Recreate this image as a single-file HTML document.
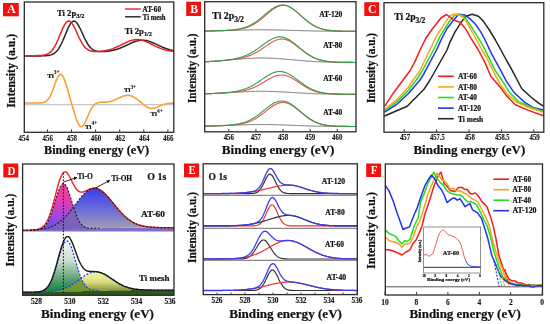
<!DOCTYPE html><html><head><meta charset="utf-8"><style>html,body{margin:0;padding:0;width:550px;height:324px;overflow:hidden;background:#fff}</style></head><body><svg width="550" height="324" viewBox="0 0 550 324" style="filter:blur(0.3px);position:absolute;left:0;top:0;font-family:'Liberation Serif',serif;font-weight:bold">
<style>text{stroke:#111;stroke-width:0.22px}</style>
<rect width="550" height="324" fill="#ffffff"/>
<line x1="24.3" y1="104.6" x2="173.8" y2="104.6" stroke="#c8c8c8" stroke-width="1.2"/>
<polyline points="24.3,55.9 25.0,55.9 25.7,55.9 26.4,55.9 27.1,55.9 27.8,55.9 28.5,55.9 29.2,55.9 29.9,55.9 30.6,55.9 31.3,55.9 32.0,55.9 32.7,55.9 33.4,55.9 34.1,55.9 34.8,55.9 35.5,55.9 36.2,55.9 36.9,55.9 37.6,55.9 38.3,55.9 39.0,55.9 39.7,55.9 40.4,55.9 41.1,55.9 41.8,55.8 42.5,55.8 43.3,55.8 44.0,55.8 44.7,55.8 45.4,55.7 46.1,55.7 46.8,55.6 47.5,55.6 48.2,55.5 48.9,55.4 49.6,55.2 50.3,55.1 51.0,54.9 51.7,54.6 52.4,54.3 53.1,54.0 53.8,53.6 54.5,53.1 55.2,52.6 55.9,52.0 56.6,51.3 57.3,50.5 58.0,49.6 58.7,48.6 59.4,47.5 60.1,46.2 60.8,44.9 61.5,43.5 62.2,42.0 62.9,40.5 63.6,38.9 64.3,37.2 65.0,35.5 65.7,33.8 66.4,32.1 67.1,30.4 67.8,28.8 68.5,27.3 69.2,25.9 69.9,24.7 70.6,23.6 71.3,22.7 72.0,22.0 72.7,21.5 73.4,21.2 74.1,21.1 74.8,21.3 75.5,21.7 76.2,22.3 76.9,23.1 77.6,24.0 78.3,25.1 79.0,26.4 79.7,27.8 80.5,29.2 81.2,30.8 81.9,32.3 82.6,33.9 83.3,35.4 84.0,37.0 84.7,38.5 85.4,39.9 86.1,41.2 86.8,42.5 87.5,43.7 88.2,44.8 88.9,45.7 89.6,46.6 90.3,47.4 91.0,48.1 91.7,48.7 92.4,49.3 93.1,49.7 93.8,50.1 94.5,50.4 95.2,50.7 95.9,50.9 96.6,51.1 97.3,51.3 98.0,51.4 98.7,51.5 99.4,51.5 100.1,51.6 100.8,51.6 101.5,51.6 102.2,51.6 102.9,51.6 103.6,51.6 104.3,51.5 105.0,51.5 105.7,51.4 106.4,51.3 107.1,51.3 107.8,51.2 108.5,51.1 109.2,51.0 109.9,50.9 110.6,50.8 111.3,50.6 112.0,50.5 112.7,50.4 113.4,50.2 114.1,50.0 114.8,49.8 115.5,49.7 116.2,49.5 116.9,49.2 117.6,49.0 118.4,48.8 119.1,48.5 119.8,48.3 120.5,48.0 121.2,47.7 121.9,47.4 122.6,47.1 123.3,46.8 124.0,46.5 124.7,46.2 125.4,45.9 126.1,45.5 126.8,45.2 127.5,44.9 128.2,44.5 128.9,44.2 129.6,43.9 130.3,43.5 131.0,43.2 131.7,42.9 132.4,42.6 133.1,42.3 133.8,42.0 134.5,41.8 135.2,41.5 135.9,41.3 136.6,41.1 137.3,40.9 138.0,40.7 138.7,40.6 139.4,40.4 140.1,40.3 140.8,40.3 141.5,40.2 142.2,40.2 142.9,40.2 143.6,40.2 144.3,40.3 145.0,40.4 145.7,40.5 146.4,40.6 147.1,40.7 147.8,40.9 148.5,41.1 149.2,41.3 149.9,41.6 150.6,41.8 151.3,42.1 152.0,42.4 152.7,42.7 153.4,43.0 154.1,43.3 154.8,43.6 155.6,43.9 156.3,44.2 157.0,44.6 157.7,44.9 158.4,45.3 159.1,45.6 159.8,45.9 160.5,46.2 161.2,46.6 161.9,46.9 162.6,47.2 163.3,47.5 164.0,47.8 164.7,48.0 165.4,48.3 166.1,48.6 166.8,48.8 167.5,49.1 168.2,49.3 168.9,49.5 169.6,49.7 170.3,49.9 171.0,50.1 171.7,50.2 172.4,50.4 173.1,50.5 173.8,50.7" fill="none" stroke="#262626" stroke-width="1.5" stroke-linejoin="round" />
<polyline points="24.3,55.7 25.0,55.7 25.7,55.7 26.4,55.7 27.1,55.7 27.8,55.7 28.5,55.7 29.2,55.7 29.9,55.7 30.6,55.7 31.3,55.7 32.0,55.7 32.7,55.7 33.4,55.7 34.1,55.7 34.8,55.7 35.5,55.7 36.2,55.7 36.9,55.6 37.6,55.6 38.3,55.6 39.0,55.6 39.7,55.6 40.4,55.5 41.1,55.5 41.8,55.4 42.5,55.3 43.3,55.2 44.0,55.1 44.7,55.0 45.4,54.8 46.1,54.6 46.8,54.3 47.5,54.0 48.2,53.6 48.9,53.2 49.6,52.7 50.3,52.2 51.0,51.5 51.7,50.8 52.4,49.9 53.1,49.0 53.8,47.9 54.5,46.8 55.2,45.5 55.9,44.2 56.6,42.8 57.3,41.2 58.0,39.7 58.7,38.0 59.4,36.3 60.1,34.6 60.8,32.9 61.5,31.2 62.2,29.6 62.9,28.0 63.6,26.6 64.3,25.2 65.0,24.1 65.7,23.1 66.4,22.2 67.1,21.6 67.8,21.2 68.5,21.0 69.2,21.1 69.9,21.3 70.6,21.8 71.3,22.5 72.0,23.4 72.7,24.4 73.4,25.6 74.1,26.9 74.8,28.3 75.5,29.8 76.2,31.3 76.9,32.9 77.6,34.5 78.3,36.0 79.0,37.6 79.7,39.0 80.5,40.4 81.2,41.7 81.9,43.0 82.6,44.1 83.3,45.1 84.0,46.1 84.7,46.9 85.4,47.7 86.1,48.4 86.8,48.9 87.5,49.4 88.2,49.9 88.9,50.2 89.6,50.5 90.3,50.8 91.0,51.0 91.7,51.2 92.4,51.3 93.1,51.4 93.8,51.5 94.5,51.5 95.2,51.6 95.9,51.6 96.6,51.6 97.3,51.6 98.0,51.5 98.7,51.5 99.4,51.4 100.1,51.4 100.8,51.3 101.5,51.2 102.2,51.2 102.9,51.1 103.6,51.0 104.3,50.9 105.0,50.7 105.7,50.6 106.4,50.5 107.1,50.3 107.8,50.1 108.5,50.0 109.2,49.8 109.9,49.6 110.6,49.4 111.3,49.1 112.0,48.9 112.7,48.7 113.4,48.4 114.1,48.1 114.8,47.8 115.5,47.5 116.2,47.2 116.9,46.9 117.6,46.6 118.4,46.3 119.1,45.9 119.8,45.6 120.5,45.3 121.2,44.9 121.9,44.5 122.6,44.2 123.3,43.8 124.0,43.5 124.7,43.2 125.4,42.8 126.1,42.5 126.8,42.2 127.5,41.9 128.2,41.6 128.9,41.3 129.6,41.0 130.3,40.8 131.0,40.6 131.7,40.4 132.4,40.2 133.1,40.0 133.8,39.9 134.5,39.8 135.2,39.7 135.9,39.6 136.6,39.6 137.3,39.6 138.0,39.6 138.7,39.7 139.4,39.8 140.1,39.9 140.8,40.0 141.5,40.1 142.2,40.3 142.9,40.5 143.6,40.8 144.3,41.0 145.0,41.3 145.7,41.5 146.4,41.8 147.1,42.1 147.8,42.4 148.5,42.8 149.2,43.1 149.9,43.5 150.6,43.8 151.3,44.1 152.0,44.5 152.7,44.9 153.4,45.2 154.1,45.5 154.8,45.9 155.6,46.2 156.3,46.6 157.0,46.9 157.7,47.2 158.4,47.5 159.1,47.8 159.8,48.1 160.5,48.4 161.2,48.6 161.9,48.9 162.6,49.1 163.3,49.3 164.0,49.5 164.7,49.7 165.4,49.9 166.1,50.1 166.8,50.3 167.5,50.4 168.2,50.6 168.9,50.7 169.6,50.8 170.3,50.9 171.0,51.0 171.7,51.1 172.4,51.2 173.1,51.3 173.8,51.4" fill="none" stroke="#f01e1e" stroke-width="1.5" stroke-linejoin="round" />
<polyline points="24.3,103.0 25.0,103.0 25.7,103.0 26.4,103.0 27.1,103.0 27.8,103.0 28.5,103.0 29.2,103.0 29.9,103.0 30.6,103.0 31.3,103.0 32.0,103.0 32.7,103.0 33.4,103.0 34.1,103.0 34.8,103.0 35.5,103.0 36.2,103.0 36.9,103.0 37.6,103.0 38.3,103.0 39.0,102.9 39.7,102.9 40.4,102.9 41.1,102.8 41.8,102.7 42.5,102.6 43.3,102.4 44.0,102.2 44.7,101.9 45.4,101.6 46.1,101.2 46.8,100.6 47.5,99.9 48.2,99.1 48.9,98.2 49.6,97.1 50.3,95.8 51.0,94.4 51.7,92.8 52.4,91.1 53.1,89.2 53.8,87.3 54.5,85.3 55.2,83.3 55.9,81.4 56.6,79.6 57.3,78.0 58.0,76.7 58.7,75.6 59.4,74.8 60.1,74.3 60.8,74.3 61.5,74.6 62.2,75.3 62.9,76.3 63.6,77.7 64.3,79.3 65.0,81.2 65.7,83.3 66.4,85.5 67.1,87.9 67.8,90.3 68.5,92.7 69.2,95.2 69.9,97.6 70.6,100.1 71.3,102.5 72.0,104.9 72.7,107.3 73.4,109.7 74.1,112.0 74.8,114.3 75.5,116.4 76.2,118.5 76.9,120.4 77.6,122.1 78.3,123.6 79.0,124.8 79.7,125.8 80.5,126.4 81.2,126.7 81.9,126.6 82.6,126.2 83.3,125.5 84.0,124.5 84.7,123.3 85.4,121.9 86.1,120.3 86.8,118.7 87.5,117.0 88.2,115.3 88.9,113.7 89.6,112.1 90.3,110.6 91.0,109.3 91.7,108.1 92.4,107.1 93.1,106.1 93.8,105.3 94.5,104.7 95.2,104.1 95.9,103.6 96.6,103.3 97.3,102.9 98.0,102.7 98.7,102.5 99.4,102.4 100.1,102.3 100.8,102.2 101.5,102.2 102.2,102.1 102.9,102.1 103.6,102.1 104.3,102.1 105.0,102.1 105.7,102.1 106.4,102.0 107.1,102.0 107.8,101.9 108.5,101.8 109.2,101.7 109.9,101.6 110.6,101.4 111.3,101.2 112.0,101.0 112.7,100.8 113.4,100.5 114.1,100.2 114.8,100.0 115.5,99.6 116.2,99.3 116.9,99.0 117.6,98.6 118.4,98.3 119.1,98.0 119.8,97.6 120.5,97.3 121.2,97.0 121.9,96.7 122.6,96.4 123.3,96.1 124.0,95.9 124.7,95.7 125.4,95.6 126.1,95.4 126.8,95.4 127.5,95.3 128.2,95.4 128.9,95.4 129.6,95.5 130.3,95.7 131.0,95.9 131.7,96.1 132.4,96.4 133.1,96.7 133.8,97.1 134.5,97.5 135.2,97.9 135.9,98.4 136.6,98.9 137.3,99.4 138.0,99.9 138.7,100.5 139.4,101.0 140.1,101.6 140.8,102.2 141.5,102.8 142.2,103.4 142.9,104.0 143.6,104.6 144.3,105.1 145.0,105.6 145.7,106.1 146.4,106.6 147.1,107.0 147.8,107.4 148.5,107.7 149.2,108.0 149.9,108.2 150.6,108.4 151.3,108.4 152.0,108.5 152.7,108.4 153.4,108.3 154.1,108.2 154.8,108.0 155.6,107.8 156.3,107.5 157.0,107.3 157.7,106.9 158.4,106.6 159.1,106.3 159.8,106.0 160.5,105.7 161.2,105.4 161.9,105.1 162.6,104.8 163.3,104.6 164.0,104.4 164.7,104.2 165.4,104.0 166.1,103.8 166.8,103.7 167.5,103.5 168.2,103.4 168.9,103.4 169.6,103.3 170.3,103.2 171.0,103.2 171.7,103.1 172.4,103.1 173.1,103.1 173.8,103.1" fill="none" stroke="#f7a035" stroke-width="1.6" stroke-linejoin="round" />
<rect x="24.3" y="2.0" width="149.5" height="130.3" fill="none" stroke="#2a2a2a" stroke-width="1.3"/>
<line x1="47.40" y1="132.3" x2="47.40" y2="129.3" stroke="#3a3a3a" stroke-width="1"/>
<line x1="71.50" y1="132.3" x2="71.50" y2="129.3" stroke="#3a3a3a" stroke-width="1"/>
<line x1="95.60" y1="132.3" x2="95.60" y2="129.3" stroke="#3a3a3a" stroke-width="1"/>
<line x1="119.70" y1="132.3" x2="119.70" y2="129.3" stroke="#3a3a3a" stroke-width="1"/>
<line x1="143.80" y1="132.3" x2="143.80" y2="129.3" stroke="#3a3a3a" stroke-width="1"/>
<line x1="167.90" y1="132.3" x2="167.90" y2="129.3" stroke="#3a3a3a" stroke-width="1"/>
<text x="23.7" y="141.0" font-size="7.8" text-anchor="middle" fill="#111" textLength="10.4" lengthAdjust="spacingAndGlyphs" style="stroke-width:0.1px">454</text>
<text x="47.8" y="141.0" font-size="7.8" text-anchor="middle" fill="#111" textLength="10.4" lengthAdjust="spacingAndGlyphs" style="stroke-width:0.1px">456</text>
<text x="71.9" y="141.0" font-size="7.8" text-anchor="middle" fill="#111" textLength="10.4" lengthAdjust="spacingAndGlyphs" style="stroke-width:0.1px">458</text>
<text x="96.0" y="141.0" font-size="7.8" text-anchor="middle" fill="#111" textLength="10.4" lengthAdjust="spacingAndGlyphs" style="stroke-width:0.1px">460</text>
<text x="120.1" y="141.0" font-size="7.8" text-anchor="middle" fill="#111" textLength="10.4" lengthAdjust="spacingAndGlyphs" style="stroke-width:0.1px">462</text>
<text x="144.2" y="141.0" font-size="7.8" text-anchor="middle" fill="#111" textLength="10.4" lengthAdjust="spacingAndGlyphs" style="stroke-width:0.1px">464</text>
<text x="168.3" y="141.0" font-size="7.8" text-anchor="middle" fill="#111" textLength="10.4" lengthAdjust="spacingAndGlyphs" style="stroke-width:0.1px">466</text>
<rect x="3" y="3" width="15.8" height="13.3" fill="#f50f0f"/>
<text x="11.5" y="13.4" font-size="12.6" text-anchor="middle" fill="#fff" textLength="8.4" lengthAdjust="spacingAndGlyphs" style="stroke:none">A</text>
<text x="0" y="0" font-size="12" text-anchor="middle" fill="#111" textLength="74.1" lengthAdjust="spacingAndGlyphs" transform="translate(10.600000000000001,70.75) rotate(-90)" dominant-baseline="central">Intensity (a.u.)</text>
<text x="44" y="154.20000000000002" font-size="13.2" text-anchor="start" fill="#111" textLength="105" lengthAdjust="spacingAndGlyphs" >Binding energy (eV)</text>
<text x="57.0" y="15.5" font-size="8.6" fill="#111">Ti 2p<tspan font-size="6.40" dy="2.2">3/2</tspan></text>
<text x="124.7" y="33.7" font-size="8.6" fill="#111">Ti 2p<tspan font-size="6.40" dy="2.2">1/2</tspan></text>
<line x1="125" y1="9" x2="140.7" y2="9" stroke="#f01e1e" stroke-width="1.4"/>
<line x1="125" y1="16.8" x2="140.7" y2="16.8" stroke="#222" stroke-width="1.4"/>
<text x="142.5" y="11.6" font-size="7.8" text-anchor="start" fill="#111" textLength="18.5" lengthAdjust="spacingAndGlyphs" >AT-60</text>
<text x="142.8" y="19.5" font-size="7.4" text-anchor="start" fill="#111" textLength="22.8" lengthAdjust="spacingAndGlyphs" >Ti mesh</text>
<text x="47.3" y="77.5" font-size="7" fill="#111">Ti<tspan font-size="5.4" dy="-3.4" style="stroke-width:0.1px">3+</tspan></text>
<text x="85" y="128.7" font-size="7" fill="#111">Ti<tspan font-size="5.4" dy="-3.4" style="stroke-width:0.1px">4+</tspan></text>
<text x="123.9" y="92" font-size="7" fill="#111">Ti<tspan font-size="5.4" dy="-3.4" style="stroke-width:0.1px">3+</tspan></text>
<text x="150.5" y="116.4" font-size="7" fill="#111">Ti<tspan font-size="5.4" dy="-3.4" style="stroke-width:0.1px">4+</tspan></text>
<polyline points="204.7,31.1 205.4,31.0 206.1,31.0 206.8,31.0 207.5,31.0 208.2,31.0 208.9,31.0 209.6,31.0 210.3,31.0 211.0,30.9 211.7,30.9 212.4,30.9 213.1,30.9 213.8,30.9 214.5,30.9 215.2,30.9 215.9,30.8 216.6,30.8 217.3,30.8 218.0,30.8 218.7,30.8 219.4,30.8 220.1,30.7 220.8,30.7 221.5,30.7 222.2,30.7 222.9,30.7 223.6,30.6 224.3,30.6 225.0,30.6 225.7,30.6 226.4,30.6 227.1,30.5 227.8,30.5 228.5,30.5 229.2,30.5 229.9,30.5 230.6,30.4 231.3,30.4 232.0,30.4 232.7,30.4 233.4,30.3 234.1,30.3 234.8,30.3 235.5,30.3 236.2,30.3 236.9,30.2 237.6,30.2 238.3,30.2 239.0,30.2 239.7,30.2 240.4,30.1 241.1,30.1 241.8,30.1 242.5,30.1 243.2,30.1 243.9,30.0 244.6,30.0 245.3,30.0 246.0,30.0 246.7,30.0 247.4,30.0 248.1,30.0 248.8,29.9 249.5,29.9 250.2,29.9 250.9,29.9 251.6,29.9 252.3,29.9 253.0,29.9 253.7,29.9 254.4,29.8 255.1,29.8 255.8,29.8 256.5,29.8 257.2,29.8 257.9,29.8 258.6,29.8 259.3,29.8 260.0,29.8 260.7,29.8 261.4,29.8 262.1,29.8 262.8,29.8 263.5,29.8 264.2,29.8 264.9,29.8 265.6,29.8 266.3,29.8 267.0,29.8 267.7,29.8 268.4,29.8 269.1,29.8 269.8,29.9 270.5,29.9 271.2,29.9 271.9,29.9 272.6,29.9 273.3,29.9 274.0,29.9 274.7,29.9 275.4,29.9 276.1,30.0 276.8,30.0 277.5,30.0 278.2,30.0 278.9,30.0 279.6,30.0 280.4,30.1 281.1,30.1 281.8,30.1 282.5,30.1 283.2,30.1 283.9,30.1 284.6,30.2 285.3,30.2 286.0,30.2 286.7,30.2 287.4,30.3 288.1,30.3 288.8,30.3 289.5,30.3 290.2,30.3 290.9,30.4 291.6,30.4 292.3,30.4 293.0,30.4 293.7,30.4 294.4,30.5 295.1,30.5 295.8,30.5 296.5,30.5 297.2,30.5 297.9,30.6 298.6,30.6 299.3,30.6 300.0,30.6 300.7,30.6 301.4,30.7 302.1,30.7 302.8,30.7 303.5,30.7 304.2,30.7 304.9,30.8 305.6,30.8 306.3,30.8 307.0,30.8 307.7,30.8 308.4,30.8 309.1,30.9 309.8,30.9 310.5,30.9 311.2,30.9 311.9,30.9 312.6,30.9 313.3,31.0 314.0,31.0 314.7,31.0 315.4,31.0 316.1,31.0 316.8,31.0 317.5,31.0 318.2,31.0 318.9,31.1 319.6,31.1 320.3,31.1 321.0,31.1 321.7,31.1 322.4,31.1 323.1,31.1 323.8,31.1 324.5,31.1 325.2,31.1 325.9,31.1 326.6,31.2 327.3,31.2 328.0,31.2 328.7,31.2 329.4,31.2 330.1,31.2 330.8,31.2 331.5,31.2 332.2,31.2 332.9,31.2 333.6,31.2 334.3,31.2 335.0,31.2 335.7,31.2 336.4,31.2 337.1,31.2 337.8,31.2 338.5,31.2 339.2,31.2 339.9,31.2 340.6,31.3 341.3,31.3 342.0,31.3 342.7,31.3 343.4,31.3 344.1,31.3 344.8,31.3 345.5,31.3 346.2,31.3 346.9,31.3 347.6,31.3 348.3,31.3 349.0,31.3 349.7,31.3 350.4,31.3 351.1,31.3 351.8,31.3 352.5,31.3 353.2,31.3 353.9,31.3 354.6,31.3 355.3,31.3 356.0,31.3" fill="none" stroke="#707070" stroke-width="1.0" stroke-linejoin="round" />
<polyline points="204.7,31.1 205.4,31.0 206.1,31.0 206.8,31.0 207.5,31.0 208.2,31.0 208.9,31.0 209.6,31.0 210.3,31.0 211.0,30.9 211.7,30.9 212.4,30.9 213.1,30.9 213.8,30.9 214.5,30.9 215.2,30.8 215.9,30.8 216.6,30.8 217.3,30.8 218.0,30.8 218.7,30.8 219.4,30.7 220.1,30.7 220.8,30.7 221.5,30.7 222.2,30.6 222.9,30.6 223.6,30.6 224.3,30.6 225.0,30.5 225.7,30.5 226.4,30.5 227.1,30.4 227.8,30.4 228.5,30.3 229.2,30.3 229.9,30.3 230.6,30.2 231.3,30.2 232.0,30.1 232.7,30.1 233.4,30.0 234.1,29.9 234.8,29.9 235.5,29.8 236.2,29.7 236.9,29.6 237.6,29.5 238.3,29.4 239.0,29.3 239.7,29.2 240.4,29.1 241.1,28.9 241.8,28.8 242.5,28.7 243.2,28.5 243.9,28.3 244.6,28.1 245.3,27.9 246.0,27.7 246.7,27.5 247.4,27.2 248.1,27.0 248.8,26.7 249.5,26.4 250.2,26.1 250.9,25.8 251.6,25.5 252.3,25.1 253.0,24.8 253.7,24.4 254.4,24.0 255.1,23.5 255.8,23.1 256.5,22.6 257.2,22.2 257.9,21.7 258.6,21.2 259.3,20.6 260.0,20.1 260.7,19.6 261.4,19.0 262.1,18.4 262.8,17.8 263.5,17.2 264.2,16.6 264.9,16.0 265.6,15.4 266.3,14.8 267.0,14.2 267.7,13.6 268.4,13.0 269.1,12.4 269.8,11.8 270.5,11.3 271.2,10.7 271.9,10.2 272.6,9.6 273.3,9.1 274.0,8.7 274.7,8.2 275.4,7.8 276.1,7.4 276.8,7.0 277.5,6.7 278.2,6.4 278.9,6.1 279.6,5.9 280.4,5.7 281.1,5.5 281.8,5.4 282.5,5.4 283.2,5.3 283.9,5.4 284.6,5.4 285.3,5.5 286.0,5.6 286.7,5.8 287.4,6.0 288.1,6.3 288.8,6.6 289.5,6.9 290.2,7.3 290.9,7.7 291.6,8.1 292.3,8.5 293.0,9.0 293.7,9.5 294.4,10.1 295.1,10.6 295.8,11.2 296.5,11.8 297.2,12.4 297.9,13.0 298.6,13.6 299.3,14.2 300.0,14.9 300.7,15.5 301.4,16.1 302.1,16.7 302.8,17.4 303.5,18.0 304.2,18.6 304.9,19.2 305.6,19.8 306.3,20.4 307.0,21.0 307.7,21.5 308.4,22.1 309.1,22.6 309.8,23.1 310.5,23.6 311.2,24.0 311.9,24.5 312.6,24.9 313.3,25.4 314.0,25.7 314.7,26.1 315.4,26.5 316.1,26.8 316.8,27.2 317.5,27.5 318.2,27.8 318.9,28.0 319.6,28.3 320.3,28.5 321.0,28.7 321.7,29.0 322.4,29.1 323.1,29.3 323.8,29.5 324.5,29.7 325.2,29.8 325.9,29.9 326.6,30.1 327.3,30.2 328.0,30.3 328.7,30.4 329.4,30.5 330.1,30.5 330.8,30.6 331.5,30.7 332.2,30.7 332.9,30.8 333.6,30.8 334.3,30.9 335.0,30.9 335.7,31.0 336.4,31.0 337.1,31.0 337.8,31.1 338.5,31.1 339.2,31.1 339.9,31.1 340.6,31.1 341.3,31.2 342.0,31.2 342.7,31.2 343.4,31.2 344.1,31.2 344.8,31.2 345.5,31.2 346.2,31.2 346.9,31.2 347.6,31.2 348.3,31.3 349.0,31.3 349.7,31.3 350.4,31.3 351.1,31.3 351.8,31.3 352.5,31.3 353.2,31.3 353.9,31.3 354.6,31.3 355.3,31.3 356.0,31.3" fill="none" stroke="#f0504a" stroke-width="1.1" stroke-linejoin="round" />
<polyline points="204.7,31.1 205.4,31.0 206.1,31.0 206.8,31.0 207.5,31.0 208.2,31.0 208.9,31.0 209.6,31.0 210.3,31.0 211.0,30.9 211.7,30.9 212.4,30.9 213.1,30.9 213.8,30.9 214.5,30.9 215.2,30.8 215.9,30.8 216.6,30.8 217.3,30.8 218.0,30.8 218.7,30.7 219.4,30.7 220.1,30.7 220.8,30.7 221.5,30.6 222.2,30.6 222.9,30.6 223.6,30.5 224.3,30.5 225.0,30.5 225.7,30.4 226.4,30.4 227.1,30.3 227.8,30.3 228.5,30.3 229.2,30.2 229.9,30.1 230.6,30.1 231.3,30.0 232.0,30.0 232.7,29.9 233.4,29.8 234.1,29.7 234.8,29.6 235.5,29.5 236.2,29.4 236.9,29.3 237.6,29.2 238.3,29.1 239.0,29.0 239.7,28.8 240.4,28.7 241.1,28.5 241.8,28.3 242.5,28.1 243.2,27.9 243.9,27.7 244.6,27.5 245.3,27.3 246.0,27.0 246.7,26.8 247.4,26.5 248.1,26.2 248.8,25.9 249.5,25.5 250.2,25.2 250.9,24.8 251.6,24.5 252.3,24.1 253.0,23.7 253.7,23.2 254.4,22.8 255.1,22.3 255.8,21.9 256.5,21.4 257.2,20.9 257.9,20.4 258.6,19.8 259.3,19.3 260.0,18.7 260.7,18.2 261.4,17.6 262.1,17.0 262.8,16.4 263.5,15.8 264.2,15.2 264.9,14.6 265.6,14.0 266.3,13.4 267.0,12.9 267.7,12.3 268.4,11.7 269.1,11.1 269.8,10.6 270.5,10.1 271.2,9.5 271.9,9.0 272.6,8.6 273.3,8.1 274.0,7.7 274.7,7.3 275.4,6.9 276.1,6.6 276.8,6.2 277.5,6.0 278.2,5.7 278.9,5.5 279.6,5.3 280.4,5.2 281.1,5.1 281.8,5.0 282.5,5.0 283.2,5.0 283.9,5.1 284.6,5.2 285.3,5.3 286.0,5.5 286.7,5.7 287.4,6.0 288.1,6.2 288.8,6.6 289.5,6.9 290.2,7.3 290.9,7.7 291.6,8.1 292.3,8.6 293.0,9.1 293.7,9.6 294.4,10.1 295.1,10.7 295.8,11.2 296.5,11.8 297.2,12.4 297.9,13.0 298.6,13.6 299.3,14.2 300.0,14.9 300.7,15.5 301.4,16.1 302.1,16.7 302.8,17.3 303.5,17.9 304.2,18.5 304.9,19.1 305.6,19.7 306.3,20.3 307.0,20.8 307.7,21.4 308.4,21.9 309.1,22.4 309.8,22.9 310.5,23.4 311.2,23.9 311.9,24.3 312.6,24.7 313.3,25.2 314.0,25.5 314.7,25.9 315.4,26.3 316.1,26.6 316.8,27.0 317.5,27.3 318.2,27.6 318.9,27.8 319.6,28.1 320.3,28.3 321.0,28.6 321.7,28.8 322.4,29.0 323.1,29.2 323.8,29.3 324.5,29.5 325.2,29.7 325.9,29.8 326.6,29.9 327.3,30.1 328.0,30.2 328.7,30.3 329.4,30.4 330.1,30.4 330.8,30.5 331.5,30.6 332.2,30.7 332.9,30.7 333.6,30.8 334.3,30.8 335.0,30.9 335.7,30.9 336.4,31.0 337.1,31.0 337.8,31.0 338.5,31.1 339.2,31.1 339.9,31.1 340.6,31.1 341.3,31.1 342.0,31.2 342.7,31.2 343.4,31.2 344.1,31.2 344.8,31.2 345.5,31.2 346.2,31.2 346.9,31.2 347.6,31.2 348.3,31.2 349.0,31.3 349.7,31.3 350.4,31.3 351.1,31.3 351.8,31.3 352.5,31.3 353.2,31.3 353.9,31.3 354.6,31.3 355.3,31.3 356.0,31.3" fill="none" stroke="#2ea24a" stroke-width="1.1" stroke-linejoin="round" />
<polyline points="204.7,61.8 205.4,61.7 206.1,61.7 206.8,61.7 207.5,61.6 208.2,61.6 208.9,61.6 209.6,61.5 210.3,61.5 211.0,61.4 211.7,61.4 212.4,61.4 213.1,61.3 213.8,61.3 214.5,61.2 215.2,61.2 215.9,61.1 216.6,61.1 217.3,61.0 218.0,61.0 218.7,60.9 219.4,60.9 220.1,60.8 220.8,60.7 221.5,60.7 222.2,60.6 222.9,60.6 223.6,60.5 224.3,60.5 225.0,60.4 225.7,60.3 226.4,60.3 227.1,60.2 227.8,60.1 228.5,60.1 229.2,60.0 229.9,60.0 230.6,59.9 231.3,59.8 232.0,59.8 232.7,59.7 233.4,59.6 234.1,59.6 234.8,59.5 235.5,59.5 236.2,59.4 236.9,59.3 237.6,59.3 238.3,59.2 239.0,59.1 239.7,59.1 240.4,59.0 241.1,59.0 241.8,58.9 242.5,58.9 243.2,58.8 243.9,58.7 244.6,58.7 245.3,58.6 246.0,58.6 246.7,58.5 247.4,58.5 248.1,58.5 248.8,58.4 249.5,58.4 250.2,58.3 250.9,58.3 251.6,58.3 252.3,58.2 253.0,58.2 253.7,58.2 254.4,58.1 255.1,58.1 255.8,58.1 256.5,58.1 257.2,58.1 257.9,58.0 258.6,58.0 259.3,58.0 260.0,58.0 260.7,58.0 261.4,58.0 262.1,58.0 262.8,58.0 263.5,58.0 264.2,58.0 264.9,58.0 265.6,58.0 266.3,58.0 267.0,58.1 267.7,58.1 268.4,58.1 269.1,58.1 269.8,58.2 270.5,58.2 271.2,58.2 271.9,58.2 272.6,58.3 273.3,58.3 274.0,58.3 274.7,58.4 275.4,58.4 276.1,58.5 276.8,58.5 277.5,58.6 278.2,58.6 278.9,58.7 279.6,58.7 280.4,58.8 281.1,58.8 281.8,58.9 282.5,58.9 283.2,59.0 283.9,59.0 284.6,59.1 285.3,59.2 286.0,59.2 286.7,59.3 287.4,59.4 288.1,59.4 288.8,59.5 289.5,59.5 290.2,59.6 290.9,59.7 291.6,59.7 292.3,59.8 293.0,59.9 293.7,59.9 294.4,60.0 295.1,60.0 295.8,60.1 296.5,60.2 297.2,60.2 297.9,60.3 298.6,60.4 299.3,60.4 300.0,60.5 300.7,60.5 301.4,60.6 302.1,60.7 302.8,60.7 303.5,60.8 304.2,60.8 304.9,60.9 305.6,60.9 306.3,61.0 307.0,61.0 307.7,61.1 308.4,61.1 309.1,61.2 309.8,61.2 310.5,61.3 311.2,61.3 311.9,61.4 312.6,61.4 313.3,61.5 314.0,61.5 314.7,61.5 315.4,61.6 316.1,61.6 316.8,61.7 317.5,61.7 318.2,61.7 318.9,61.8 319.6,61.8 320.3,61.8 321.0,61.8 321.7,61.9 322.4,61.9 323.1,61.9 323.8,62.0 324.5,62.0 325.2,62.0 325.9,62.0 326.6,62.1 327.3,62.1 328.0,62.1 328.7,62.1 329.4,62.1 330.1,62.2 330.8,62.2 331.5,62.2 332.2,62.2 332.9,62.2 333.6,62.2 334.3,62.3 335.0,62.3 335.7,62.3 336.4,62.3 337.1,62.3 337.8,62.3 338.5,62.3 339.2,62.3 339.9,62.3 340.6,62.4 341.3,62.4 342.0,62.4 342.7,62.4 343.4,62.4 344.1,62.4 344.8,62.4 345.5,62.4 346.2,62.4 346.9,62.4 347.6,62.4 348.3,62.4 349.0,62.4 349.7,62.4 350.4,62.4 351.1,62.4 351.8,62.4 352.5,62.5 353.2,62.5 353.9,62.5 354.6,62.5 355.3,62.5 356.0,62.5" fill="none" stroke="#707070" stroke-width="1.0" stroke-linejoin="round" />
<polyline points="204.7,61.8 205.4,61.7 206.1,61.7 206.8,61.7 207.5,61.6 208.2,61.6 208.9,61.6 209.6,61.5 210.3,61.5 211.0,61.4 211.7,61.4 212.4,61.3 213.1,61.3 213.8,61.3 214.5,61.2 215.2,61.2 215.9,61.1 216.6,61.1 217.3,61.0 218.0,61.0 218.7,60.9 219.4,60.8 220.1,60.8 220.8,60.7 221.5,60.7 222.2,60.6 222.9,60.5 223.6,60.5 224.3,60.4 225.0,60.3 225.7,60.3 226.4,60.2 227.1,60.1 227.8,60.1 228.5,60.0 229.2,59.9 229.9,59.8 230.6,59.7 231.3,59.7 232.0,59.6 232.7,59.5 233.4,59.4 234.1,59.3 234.8,59.2 235.5,59.1 236.2,59.0 236.9,58.9 237.6,58.7 238.3,58.6 239.0,58.5 239.7,58.4 240.4,58.2 241.1,58.1 241.8,57.9 242.5,57.8 243.2,57.6 243.9,57.4 244.6,57.2 245.3,57.0 246.0,56.8 246.7,56.6 247.4,56.4 248.1,56.1 248.8,55.9 249.5,55.6 250.2,55.4 250.9,55.1 251.6,54.8 252.3,54.5 253.0,54.1 253.7,53.8 254.4,53.5 255.1,53.1 255.8,52.7 256.5,52.3 257.2,51.9 257.9,51.5 258.6,51.1 259.3,50.6 260.0,50.2 260.7,49.7 261.4,49.3 262.1,48.8 262.8,48.3 263.5,47.8 264.2,47.3 264.9,46.9 265.6,46.4 266.3,45.9 267.0,45.4 267.7,44.9 268.4,44.4 269.1,44.0 269.8,43.5 270.5,43.1 271.2,42.6 271.9,42.2 272.6,41.8 273.3,41.4 274.0,41.1 274.7,40.8 275.4,40.4 276.1,40.2 276.8,39.9 277.5,39.7 278.2,39.5 278.9,39.3 279.6,39.2 280.4,39.1 281.1,39.1 281.8,39.0 282.5,39.0 283.2,39.1 283.9,39.2 284.6,39.3 285.3,39.4 286.0,39.6 286.7,39.9 287.4,40.1 288.1,40.4 288.8,40.7 289.5,41.1 290.2,41.4 290.9,41.8 291.6,42.3 292.3,42.7 293.0,43.2 293.7,43.6 294.4,44.2 295.1,44.7 295.8,45.2 296.5,45.7 297.2,46.3 297.9,46.8 298.6,47.4 299.3,48.0 300.0,48.5 300.7,49.1 301.4,49.6 302.1,50.2 302.8,50.8 303.5,51.3 304.2,51.8 304.9,52.3 305.6,52.9 306.3,53.4 307.0,53.8 307.7,54.3 308.4,54.8 309.1,55.2 309.8,55.6 310.5,56.1 311.2,56.4 311.9,56.8 312.6,57.2 313.3,57.5 314.0,57.9 314.7,58.2 315.4,58.5 316.1,58.7 316.8,59.0 317.5,59.3 318.2,59.5 318.9,59.7 319.6,59.9 320.3,60.1 321.0,60.3 321.7,60.5 322.4,60.6 323.1,60.8 323.8,60.9 324.5,61.0 325.2,61.2 325.9,61.3 326.6,61.4 327.3,61.5 328.0,61.5 328.7,61.6 329.4,61.7 330.1,61.8 330.8,61.8 331.5,61.9 332.2,61.9 332.9,62.0 333.6,62.0 334.3,62.1 335.0,62.1 335.7,62.1 336.4,62.2 337.1,62.2 337.8,62.2 338.5,62.2 339.2,62.3 339.9,62.3 340.6,62.3 341.3,62.3 342.0,62.3 342.7,62.3 343.4,62.4 344.1,62.4 344.8,62.4 345.5,62.4 346.2,62.4 346.9,62.4 347.6,62.4 348.3,62.4 349.0,62.4 349.7,62.4 350.4,62.4 351.1,62.4 351.8,62.4 352.5,62.4 353.2,62.5 353.9,62.5 354.6,62.5 355.3,62.5 356.0,62.5" fill="none" stroke="#f0504a" stroke-width="1.1" stroke-linejoin="round" />
<polyline points="204.7,61.8 205.4,61.7 206.1,61.7 206.8,61.7 207.5,61.6 208.2,61.6 208.9,61.6 209.6,61.5 210.3,61.5 211.0,61.4 211.7,61.4 212.4,61.3 213.1,61.3 213.8,61.2 214.5,61.2 215.2,61.1 215.9,61.1 216.6,61.0 217.3,61.0 218.0,60.9 218.7,60.9 219.4,60.8 220.1,60.7 220.8,60.7 221.5,60.6 222.2,60.5 222.9,60.5 223.6,60.4 224.3,60.3 225.0,60.2 225.7,60.2 226.4,60.1 227.1,60.0 227.8,59.9 228.5,59.8 229.2,59.7 229.9,59.6 230.6,59.5 231.3,59.4 232.0,59.3 232.7,59.2 233.4,59.0 234.1,58.9 234.8,58.8 235.5,58.6 236.2,58.5 236.9,58.3 237.6,58.1 238.3,58.0 239.0,57.8 239.7,57.6 240.4,57.4 241.1,57.2 241.8,57.0 242.5,56.7 243.2,56.5 243.9,56.2 244.6,56.0 245.3,55.7 246.0,55.4 246.7,55.1 247.4,54.8 248.1,54.5 248.8,54.1 249.5,53.8 250.2,53.4 250.9,53.0 251.6,52.6 252.3,52.2 253.0,51.8 253.7,51.4 254.4,51.0 255.1,50.5 255.8,50.0 256.5,49.6 257.2,49.1 257.9,48.6 258.6,48.1 259.3,47.6 260.0,47.1 260.7,46.5 261.4,46.0 262.1,45.5 262.8,45.0 263.5,44.5 264.2,44.0 264.9,43.4 265.6,42.9 266.3,42.4 267.0,42.0 267.7,41.5 268.4,41.0 269.1,40.6 269.8,40.2 270.5,39.7 271.2,39.4 271.9,39.0 272.6,38.7 273.3,38.3 274.0,38.1 274.7,37.8 275.4,37.6 276.1,37.4 276.8,37.2 277.5,37.1 278.2,37.0 278.9,36.9 279.6,36.9 280.4,36.9 281.1,36.9 281.8,37.0 282.5,37.1 283.2,37.2 283.9,37.4 284.6,37.6 285.3,37.9 286.0,38.2 286.7,38.5 287.4,38.8 288.1,39.2 288.8,39.6 289.5,40.0 290.2,40.4 290.9,40.9 291.6,41.4 292.3,41.9 293.0,42.4 293.7,42.9 294.4,43.5 295.1,44.0 295.8,44.6 296.5,45.2 297.2,45.7 297.9,46.3 298.6,46.9 299.3,47.5 300.0,48.1 300.7,48.6 301.4,49.2 302.1,49.8 302.8,50.3 303.5,50.9 304.2,51.4 304.9,52.0 305.6,52.5 306.3,53.0 307.0,53.5 307.7,54.0 308.4,54.4 309.1,54.9 309.8,55.3 310.5,55.7 311.2,56.1 311.9,56.5 312.6,56.9 313.3,57.2 314.0,57.6 314.7,57.9 315.4,58.2 316.1,58.5 316.8,58.7 317.5,59.0 318.2,59.2 318.9,59.5 319.6,59.7 320.3,59.9 321.0,60.1 321.7,60.3 322.4,60.4 323.1,60.6 323.8,60.7 324.5,60.9 325.2,61.0 325.9,61.1 326.6,61.2 327.3,61.3 328.0,61.4 328.7,61.5 329.4,61.6 330.1,61.7 330.8,61.7 331.5,61.8 332.2,61.9 332.9,61.9 333.6,62.0 334.3,62.0 335.0,62.0 335.7,62.1 336.4,62.1 337.1,62.2 337.8,62.2 338.5,62.2 339.2,62.2 339.9,62.3 340.6,62.3 341.3,62.3 342.0,62.3 342.7,62.3 343.4,62.3 344.1,62.4 344.8,62.4 345.5,62.4 346.2,62.4 346.9,62.4 347.6,62.4 348.3,62.4 349.0,62.4 349.7,62.4 350.4,62.4 351.1,62.4 351.8,62.4 352.5,62.4 353.2,62.4 353.9,62.5 354.6,62.5 355.3,62.5 356.0,62.5" fill="none" stroke="#2ea24a" stroke-width="1.1" stroke-linejoin="round" />
<polyline points="204.7,93.8 205.4,93.8 206.1,93.8 206.8,93.7 207.5,93.7 208.2,93.7 208.9,93.7 209.6,93.6 210.3,93.6 211.0,93.6 211.7,93.6 212.4,93.5 213.1,93.5 213.8,93.5 214.5,93.4 215.2,93.4 215.9,93.4 216.6,93.3 217.3,93.3 218.0,93.3 218.7,93.2 219.4,93.2 220.1,93.2 220.8,93.1 221.5,93.1 222.2,93.1 222.9,93.0 223.6,93.0 224.3,92.9 225.0,92.9 225.7,92.9 226.4,92.8 227.1,92.8 227.8,92.7 228.5,92.7 229.2,92.6 229.9,92.6 230.6,92.6 231.3,92.5 232.0,92.5 232.7,92.4 233.4,92.4 234.1,92.4 234.8,92.3 235.5,92.3 236.2,92.2 236.9,92.2 237.6,92.1 238.3,92.1 239.0,92.1 239.7,92.0 240.4,92.0 241.1,91.9 241.8,91.9 242.5,91.9 243.2,91.8 243.9,91.8 244.6,91.8 245.3,91.7 246.0,91.7 246.7,91.7 247.4,91.6 248.1,91.6 248.8,91.6 249.5,91.5 250.2,91.5 250.9,91.5 251.6,91.5 252.3,91.5 253.0,91.4 253.7,91.4 254.4,91.4 255.1,91.4 255.8,91.4 256.5,91.3 257.2,91.3 257.9,91.3 258.6,91.3 259.3,91.3 260.0,91.3 260.7,91.3 261.4,91.3 262.1,91.3 262.8,91.3 263.5,91.3 264.2,91.3 264.9,91.3 265.6,91.3 266.3,91.3 267.0,91.3 267.7,91.4 268.4,91.4 269.1,91.4 269.8,91.4 270.5,91.4 271.2,91.4 271.9,91.5 272.6,91.5 273.3,91.5 274.0,91.5 274.7,91.6 275.4,91.6 276.1,91.6 276.8,91.6 277.5,91.7 278.2,91.7 278.9,91.7 279.6,91.8 280.4,91.8 281.1,91.8 281.8,91.9 282.5,91.9 283.2,92.0 283.9,92.0 284.6,92.0 285.3,92.1 286.0,92.1 286.7,92.2 287.4,92.2 288.1,92.2 288.8,92.3 289.5,92.3 290.2,92.4 290.9,92.4 291.6,92.5 292.3,92.5 293.0,92.5 293.7,92.6 294.4,92.6 295.1,92.7 295.8,92.7 296.5,92.7 297.2,92.8 297.9,92.8 298.6,92.9 299.3,92.9 300.0,93.0 300.7,93.0 301.4,93.0 302.1,93.1 302.8,93.1 303.5,93.1 304.2,93.2 304.9,93.2 305.6,93.3 306.3,93.3 307.0,93.3 307.7,93.4 308.4,93.4 309.1,93.4 309.8,93.5 310.5,93.5 311.2,93.5 311.9,93.5 312.6,93.6 313.3,93.6 314.0,93.6 314.7,93.7 315.4,93.7 316.1,93.7 316.8,93.7 317.5,93.8 318.2,93.8 318.9,93.8 319.6,93.8 320.3,93.8 321.0,93.9 321.7,93.9 322.4,93.9 323.1,93.9 323.8,93.9 324.5,94.0 325.2,94.0 325.9,94.0 326.6,94.0 327.3,94.0 328.0,94.0 328.7,94.0 329.4,94.1 330.1,94.1 330.8,94.1 331.5,94.1 332.2,94.1 332.9,94.1 333.6,94.1 334.3,94.1 335.0,94.1 335.7,94.2 336.4,94.2 337.1,94.2 337.8,94.2 338.5,94.2 339.2,94.2 339.9,94.2 340.6,94.2 341.3,94.2 342.0,94.2 342.7,94.2 343.4,94.2 344.1,94.2 344.8,94.2 345.5,94.2 346.2,94.2 346.9,94.2 347.6,94.2 348.3,94.3 349.0,94.3 349.7,94.3 350.4,94.3 351.1,94.3 351.8,94.3 352.5,94.3 353.2,94.3 353.9,94.3 354.6,94.3 355.3,94.3 356.0,94.3" fill="none" stroke="#707070" stroke-width="1.0" stroke-linejoin="round" />
<polyline points="204.7,93.8 205.4,93.8 206.1,93.8 206.8,93.7 207.5,93.7 208.2,93.7 208.9,93.7 209.6,93.6 210.3,93.6 211.0,93.6 211.7,93.6 212.4,93.5 213.1,93.5 213.8,93.5 214.5,93.4 215.2,93.4 215.9,93.4 216.6,93.3 217.3,93.3 218.0,93.3 218.7,93.2 219.4,93.2 220.1,93.2 220.8,93.1 221.5,93.1 222.2,93.0 222.9,93.0 223.6,92.9 224.3,92.9 225.0,92.9 225.7,92.8 226.4,92.8 227.1,92.7 227.8,92.7 228.5,92.6 229.2,92.5 229.9,92.5 230.6,92.4 231.3,92.4 232.0,92.3 232.7,92.2 233.4,92.2 234.1,92.1 234.8,92.0 235.5,91.9 236.2,91.9 236.9,91.8 237.6,91.7 238.3,91.6 239.0,91.5 239.7,91.4 240.4,91.3 241.1,91.2 241.8,91.0 242.5,90.9 243.2,90.8 243.9,90.6 244.6,90.5 245.3,90.3 246.0,90.1 246.7,90.0 247.4,89.8 248.1,89.6 248.8,89.4 249.5,89.1 250.2,88.9 250.9,88.7 251.6,88.4 252.3,88.1 253.0,87.9 253.7,87.6 254.4,87.3 255.1,86.9 255.8,86.6 256.5,86.3 257.2,85.9 257.9,85.6 258.6,85.2 259.3,84.8 260.0,84.4 260.7,84.0 261.4,83.6 262.1,83.2 262.8,82.8 263.5,82.4 264.2,82.0 264.9,81.5 265.6,81.1 266.3,80.7 267.0,80.3 267.7,79.8 268.4,79.4 269.1,79.0 269.8,78.6 270.5,78.3 271.2,77.9 271.9,77.5 272.6,77.2 273.3,76.9 274.0,76.6 274.7,76.3 275.4,76.1 276.1,75.8 276.8,75.6 277.5,75.5 278.2,75.3 278.9,75.2 279.6,75.1 280.4,75.0 281.1,75.0 281.8,75.0 282.5,75.0 283.2,75.1 283.9,75.2 284.6,75.3 285.3,75.4 286.0,75.6 286.7,75.8 287.4,76.1 288.1,76.3 288.8,76.6 289.5,76.9 290.2,77.3 290.9,77.6 291.6,78.0 292.3,78.4 293.0,78.8 293.7,79.2 294.4,79.6 295.1,80.1 295.8,80.5 296.5,81.0 297.2,81.5 297.9,81.9 298.6,82.4 299.3,82.9 300.0,83.4 300.7,83.8 301.4,84.3 302.1,84.8 302.8,85.2 303.5,85.6 304.2,86.1 304.9,86.5 305.6,86.9 306.3,87.3 307.0,87.7 307.7,88.1 308.4,88.5 309.1,88.8 309.8,89.2 310.5,89.5 311.2,89.8 311.9,90.1 312.6,90.4 313.3,90.6 314.0,90.9 314.7,91.1 315.4,91.4 316.1,91.6 316.8,91.8 317.5,92.0 318.2,92.1 318.9,92.3 319.6,92.5 320.3,92.6 321.0,92.7 321.7,92.9 322.4,93.0 323.1,93.1 323.8,93.2 324.5,93.3 325.2,93.4 325.9,93.5 326.6,93.5 327.3,93.6 328.0,93.6 328.7,93.7 329.4,93.8 330.1,93.8 330.8,93.8 331.5,93.9 332.2,93.9 332.9,94.0 333.6,94.0 334.3,94.0 335.0,94.0 335.7,94.1 336.4,94.1 337.1,94.1 337.8,94.1 338.5,94.1 339.2,94.1 339.9,94.2 340.6,94.2 341.3,94.2 342.0,94.2 342.7,94.2 343.4,94.2 344.1,94.2 344.8,94.2 345.5,94.2 346.2,94.2 346.9,94.2 347.6,94.2 348.3,94.2 349.0,94.2 349.7,94.3 350.4,94.3 351.1,94.3 351.8,94.3 352.5,94.3 353.2,94.3 353.9,94.3 354.6,94.3 355.3,94.3 356.0,94.3" fill="none" stroke="#f0504a" stroke-width="1.1" stroke-linejoin="round" />
<polyline points="204.7,93.8 205.4,93.8 206.1,93.8 206.8,93.7 207.5,93.7 208.2,93.7 208.9,93.7 209.6,93.6 210.3,93.6 211.0,93.6 211.7,93.6 212.4,93.5 213.1,93.5 213.8,93.5 214.5,93.4 215.2,93.4 215.9,93.4 216.6,93.3 217.3,93.3 218.0,93.2 218.7,93.2 219.4,93.1 220.1,93.1 220.8,93.1 221.5,93.0 222.2,93.0 222.9,92.9 223.6,92.9 224.3,92.8 225.0,92.7 225.7,92.7 226.4,92.6 227.1,92.5 227.8,92.5 228.5,92.4 229.2,92.3 229.9,92.2 230.6,92.2 231.3,92.1 232.0,92.0 232.7,91.9 233.4,91.8 234.1,91.7 234.8,91.6 235.5,91.4 236.2,91.3 236.9,91.2 237.6,91.0 238.3,90.9 239.0,90.7 239.7,90.6 240.4,90.4 241.1,90.2 241.8,90.0 242.5,89.8 243.2,89.6 243.9,89.3 244.6,89.1 245.3,88.8 246.0,88.6 246.7,88.3 247.4,88.0 248.1,87.7 248.8,87.4 249.5,87.1 250.2,86.7 250.9,86.4 251.6,86.0 252.3,85.6 253.0,85.3 253.7,84.9 254.4,84.4 255.1,84.0 255.8,83.6 256.5,83.1 257.2,82.7 257.9,82.2 258.6,81.8 259.3,81.3 260.0,80.8 260.7,80.3 261.4,79.9 262.1,79.4 262.8,78.9 263.5,78.4 264.2,77.9 264.9,77.5 265.6,77.0 266.3,76.5 267.0,76.1 267.7,75.7 268.4,75.2 269.1,74.8 269.8,74.4 270.5,74.1 271.2,73.7 271.9,73.4 272.6,73.1 273.3,72.8 274.0,72.5 274.7,72.3 275.4,72.1 276.1,71.9 276.8,71.8 277.5,71.7 278.2,71.6 278.9,71.5 279.6,71.5 280.4,71.5 281.1,71.6 281.8,71.6 282.5,71.7 283.2,71.9 283.9,72.1 284.6,72.3 285.3,72.5 286.0,72.7 286.7,73.0 287.4,73.4 288.1,73.7 288.8,74.1 289.5,74.4 290.2,74.8 290.9,75.3 291.6,75.7 292.3,76.2 293.0,76.6 293.7,77.1 294.4,77.6 295.1,78.1 295.8,78.7 296.5,79.2 297.2,79.7 297.9,80.2 298.6,80.7 299.3,81.3 300.0,81.8 300.7,82.3 301.4,82.8 302.1,83.3 302.8,83.8 303.5,84.3 304.2,84.8 304.9,85.3 305.6,85.7 306.3,86.2 307.0,86.6 307.7,87.0 308.4,87.4 309.1,87.8 309.8,88.2 310.5,88.6 311.2,88.9 311.9,89.3 312.6,89.6 313.3,89.9 314.0,90.2 314.7,90.4 315.4,90.7 316.1,91.0 316.8,91.2 317.5,91.4 318.2,91.6 318.9,91.8 319.6,92.0 320.3,92.2 321.0,92.3 321.7,92.5 322.4,92.6 323.1,92.8 323.8,92.9 324.5,93.0 325.2,93.1 325.9,93.2 326.6,93.3 327.3,93.4 328.0,93.5 328.7,93.5 329.4,93.6 330.1,93.7 330.8,93.7 331.5,93.8 332.2,93.8 332.9,93.8 333.6,93.9 334.3,93.9 335.0,94.0 335.7,94.0 336.4,94.0 337.1,94.0 337.8,94.1 338.5,94.1 339.2,94.1 339.9,94.1 340.6,94.1 341.3,94.1 342.0,94.2 342.7,94.2 343.4,94.2 344.1,94.2 344.8,94.2 345.5,94.2 346.2,94.2 346.9,94.2 347.6,94.2 348.3,94.2 349.0,94.2 349.7,94.2 350.4,94.3 351.1,94.3 351.8,94.3 352.5,94.3 353.2,94.3 353.9,94.3 354.6,94.3 355.3,94.3 356.0,94.3" fill="none" stroke="#2ea24a" stroke-width="1.1" stroke-linejoin="round" />
<polyline points="204.7,126.2 205.4,126.2 206.1,126.1 206.8,126.1 207.5,126.1 208.2,126.1 208.9,126.1 209.6,126.1 210.3,126.0 211.0,126.0 211.7,126.0 212.4,126.0 213.1,126.0 213.8,125.9 214.5,125.9 215.2,125.9 215.9,125.9 216.6,125.9 217.3,125.8 218.0,125.8 218.7,125.8 219.4,125.8 220.1,125.7 220.8,125.7 221.5,125.7 222.2,125.7 222.9,125.6 223.6,125.6 224.3,125.6 225.0,125.6 225.7,125.5 226.4,125.5 227.1,125.5 227.8,125.5 228.5,125.4 229.2,125.4 229.9,125.4 230.6,125.3 231.3,125.3 232.0,125.3 232.7,125.3 233.4,125.2 234.1,125.2 234.8,125.2 235.5,125.1 236.2,125.1 236.9,125.1 237.6,125.1 238.3,125.0 239.0,125.0 239.7,125.0 240.4,125.0 241.1,124.9 241.8,124.9 242.5,124.9 243.2,124.9 243.9,124.8 244.6,124.8 245.3,124.8 246.0,124.8 246.7,124.7 247.4,124.7 248.1,124.7 248.8,124.7 249.5,124.7 250.2,124.6 250.9,124.6 251.6,124.6 252.3,124.6 253.0,124.6 253.7,124.6 254.4,124.6 255.1,124.6 255.8,124.5 256.5,124.5 257.2,124.5 257.9,124.5 258.6,124.5 259.3,124.5 260.0,124.5 260.7,124.5 261.4,124.5 262.1,124.5 262.8,124.5 263.5,124.5 264.2,124.5 264.9,124.5 265.6,124.5 266.3,124.5 267.0,124.5 267.7,124.5 268.4,124.5 269.1,124.6 269.8,124.6 270.5,124.6 271.2,124.6 271.9,124.6 272.6,124.6 273.3,124.6 274.0,124.7 274.7,124.7 275.4,124.7 276.1,124.7 276.8,124.7 277.5,124.8 278.2,124.8 278.9,124.8 279.6,124.8 280.4,124.8 281.1,124.9 281.8,124.9 282.5,124.9 283.2,124.9 283.9,125.0 284.6,125.0 285.3,125.0 286.0,125.0 286.7,125.1 287.4,125.1 288.1,125.1 288.8,125.2 289.5,125.2 290.2,125.2 290.9,125.2 291.6,125.3 292.3,125.3 293.0,125.3 293.7,125.4 294.4,125.4 295.1,125.4 295.8,125.4 296.5,125.5 297.2,125.5 297.9,125.5 298.6,125.5 299.3,125.6 300.0,125.6 300.7,125.6 301.4,125.7 302.1,125.7 302.8,125.7 303.5,125.7 304.2,125.8 304.9,125.8 305.6,125.8 306.3,125.8 307.0,125.8 307.7,125.9 308.4,125.9 309.1,125.9 309.8,125.9 310.5,126.0 311.2,126.0 311.9,126.0 312.6,126.0 313.3,126.0 314.0,126.1 314.7,126.1 315.4,126.1 316.1,126.1 316.8,126.1 317.5,126.1 318.2,126.2 318.9,126.2 319.6,126.2 320.3,126.2 321.0,126.2 321.7,126.2 322.4,126.2 323.1,126.2 323.8,126.3 324.5,126.3 325.2,126.3 325.9,126.3 326.6,126.3 327.3,126.3 328.0,126.3 328.7,126.3 329.4,126.3 330.1,126.3 330.8,126.4 331.5,126.4 332.2,126.4 332.9,126.4 333.6,126.4 334.3,126.4 335.0,126.4 335.7,126.4 336.4,126.4 337.1,126.4 337.8,126.4 338.5,126.4 339.2,126.4 339.9,126.4 340.6,126.4 341.3,126.4 342.0,126.4 342.7,126.4 343.4,126.4 344.1,126.5 344.8,126.5 345.5,126.5 346.2,126.5 346.9,126.5 347.6,126.5 348.3,126.5 349.0,126.5 349.7,126.5 350.4,126.5 351.1,126.5 351.8,126.5 352.5,126.5 353.2,126.5 353.9,126.5 354.6,126.5 355.3,126.5 356.0,126.5" fill="none" stroke="#707070" stroke-width="1.0" stroke-linejoin="round" />
<polyline points="204.7,126.2 205.4,126.2 206.1,126.1 206.8,126.1 207.5,126.1 208.2,126.1 208.9,126.1 209.6,126.1 210.3,126.0 211.0,126.0 211.7,126.0 212.4,126.0 213.1,126.0 213.8,125.9 214.5,125.9 215.2,125.9 215.9,125.9 216.6,125.9 217.3,125.8 218.0,125.8 218.7,125.8 219.4,125.8 220.1,125.7 220.8,125.7 221.5,125.7 222.2,125.6 222.9,125.6 223.6,125.6 224.3,125.5 225.0,125.5 225.7,125.5 226.4,125.4 227.1,125.4 227.8,125.3 228.5,125.3 229.2,125.3 229.9,125.2 230.6,125.2 231.3,125.1 232.0,125.1 232.7,125.0 233.4,124.9 234.1,124.9 234.8,124.8 235.5,124.7 236.2,124.6 236.9,124.6 237.6,124.5 238.3,124.4 239.0,124.3 239.7,124.2 240.4,124.0 241.1,123.9 241.8,123.8 242.5,123.6 243.2,123.5 243.9,123.3 244.6,123.1 245.3,123.0 246.0,122.8 246.7,122.5 247.4,122.3 248.1,122.1 248.8,121.8 249.5,121.6 250.2,121.3 250.9,121.0 251.6,120.7 252.3,120.4 253.0,120.0 253.7,119.7 254.4,119.3 255.1,118.9 255.8,118.5 256.5,118.1 257.2,117.6 257.9,117.2 258.6,116.7 259.3,116.2 260.0,115.8 260.7,115.2 261.4,114.7 262.1,114.2 262.8,113.7 263.5,113.1 264.2,112.6 264.9,112.0 265.6,111.5 266.3,110.9 267.0,110.4 267.7,109.8 268.4,109.3 269.1,108.7 269.8,108.2 270.5,107.7 271.2,107.2 271.9,106.7 272.6,106.2 273.3,105.7 274.0,105.3 274.7,104.9 275.4,104.5 276.1,104.2 276.8,103.8 277.5,103.5 278.2,103.3 278.9,103.1 279.6,102.9 280.4,102.7 281.1,102.6 281.8,102.5 282.5,102.4 283.2,102.4 283.9,102.5 284.6,102.5 285.3,102.7 286.0,102.8 286.7,103.0 287.4,103.2 288.1,103.5 288.8,103.7 289.5,104.1 290.2,104.4 290.9,104.8 291.6,105.2 292.3,105.7 293.0,106.1 293.7,106.6 294.4,107.1 295.1,107.6 295.8,108.2 296.5,108.7 297.2,109.3 297.9,109.9 298.6,110.4 299.3,111.0 300.0,111.6 300.7,112.2 301.4,112.8 302.1,113.4 302.8,113.9 303.5,114.5 304.2,115.1 304.9,115.6 305.6,116.2 306.3,116.7 307.0,117.2 307.7,117.8 308.4,118.2 309.1,118.7 309.8,119.2 310.5,119.6 311.2,120.1 311.9,120.5 312.6,120.9 313.3,121.2 314.0,121.6 314.7,121.9 315.4,122.3 316.1,122.6 316.8,122.8 317.5,123.1 318.2,123.4 318.9,123.6 319.6,123.8 320.3,124.1 321.0,124.3 321.7,124.4 322.4,124.6 323.1,124.8 323.8,124.9 324.5,125.1 325.2,125.2 325.9,125.3 326.6,125.4 327.3,125.5 328.0,125.6 328.7,125.7 329.4,125.8 330.1,125.8 330.8,125.9 331.5,126.0 332.2,126.0 332.9,126.1 333.6,126.1 334.3,126.1 335.0,126.2 335.7,126.2 336.4,126.2 337.1,126.3 337.8,126.3 338.5,126.3 339.2,126.3 339.9,126.3 340.6,126.4 341.3,126.4 342.0,126.4 342.7,126.4 343.4,126.4 344.1,126.4 344.8,126.4 345.5,126.4 346.2,126.4 346.9,126.4 347.6,126.4 348.3,126.5 349.0,126.5 349.7,126.5 350.4,126.5 351.1,126.5 351.8,126.5 352.5,126.5 353.2,126.5 353.9,126.5 354.6,126.5 355.3,126.5 356.0,126.5" fill="none" stroke="#f0504a" stroke-width="1.1" stroke-linejoin="round" />
<polyline points="204.7,126.2 205.4,126.2 206.1,126.1 206.8,126.1 207.5,126.1 208.2,126.1 208.9,126.1 209.6,126.1 210.3,126.0 211.0,126.0 211.7,126.0 212.4,126.0 213.1,126.0 213.8,125.9 214.5,125.9 215.2,125.9 215.9,125.9 216.6,125.8 217.3,125.8 218.0,125.8 218.7,125.8 219.4,125.7 220.1,125.7 220.8,125.7 221.5,125.6 222.2,125.6 222.9,125.6 223.6,125.5 224.3,125.5 225.0,125.4 225.7,125.4 226.4,125.3 227.1,125.3 227.8,125.2 228.5,125.2 229.2,125.1 229.9,125.1 230.6,125.0 231.3,124.9 232.0,124.8 232.7,124.8 233.4,124.7 234.1,124.6 234.8,124.5 235.5,124.4 236.2,124.3 236.9,124.1 237.6,124.0 238.3,123.9 239.0,123.7 239.7,123.6 240.4,123.4 241.1,123.3 241.8,123.1 242.5,122.9 243.2,122.7 243.9,122.5 244.6,122.2 245.3,122.0 246.0,121.7 246.7,121.5 247.4,121.2 248.1,120.9 248.8,120.6 249.5,120.2 250.2,119.9 250.9,119.5 251.6,119.1 252.3,118.8 253.0,118.3 253.7,117.9 254.4,117.5 255.1,117.0 255.8,116.6 256.5,116.1 257.2,115.6 257.9,115.1 258.6,114.6 259.3,114.0 260.0,113.5 260.7,112.9 261.4,112.4 262.1,111.8 262.8,111.3 263.5,110.7 264.2,110.1 264.9,109.6 265.6,109.0 266.3,108.5 267.0,107.9 267.7,107.4 268.4,106.8 269.1,106.3 269.8,105.8 270.5,105.3 271.2,104.8 271.9,104.4 272.6,103.9 273.3,103.5 274.0,103.1 274.7,102.8 275.4,102.5 276.1,102.2 276.8,101.9 277.5,101.7 278.2,101.5 278.9,101.3 279.6,101.2 280.4,101.1 281.1,101.0 281.8,101.0 282.5,101.0 283.2,101.1 283.9,101.2 284.6,101.3 285.3,101.5 286.0,101.7 286.7,101.9 287.4,102.2 288.1,102.5 288.8,102.8 289.5,103.2 290.2,103.6 290.9,104.0 291.6,104.5 292.3,104.9 293.0,105.4 293.7,105.9 294.4,106.5 295.1,107.0 295.8,107.6 296.5,108.1 297.2,108.7 297.9,109.3 298.6,109.9 299.3,110.5 300.0,111.1 300.7,111.7 301.4,112.3 302.1,112.9 302.8,113.4 303.5,114.0 304.2,114.6 304.9,115.2 305.6,115.7 306.3,116.2 307.0,116.8 307.7,117.3 308.4,117.8 309.1,118.3 309.8,118.7 310.5,119.2 311.2,119.6 311.9,120.0 312.6,120.4 313.3,120.8 314.0,121.2 314.7,121.5 315.4,121.9 316.1,122.2 316.8,122.5 317.5,122.8 318.2,123.1 318.9,123.3 319.6,123.5 320.3,123.8 321.0,124.0 321.7,124.2 322.4,124.4 323.1,124.5 323.8,124.7 324.5,124.8 325.2,125.0 325.9,125.1 326.6,125.2 327.3,125.3 328.0,125.4 328.7,125.5 329.4,125.6 330.1,125.7 330.8,125.8 331.5,125.8 332.2,125.9 332.9,126.0 333.6,126.0 334.3,126.1 335.0,126.1 335.7,126.1 336.4,126.2 337.1,126.2 337.8,126.2 338.5,126.3 339.2,126.3 339.9,126.3 340.6,126.3 341.3,126.3 342.0,126.4 342.7,126.4 343.4,126.4 344.1,126.4 344.8,126.4 345.5,126.4 346.2,126.4 346.9,126.4 347.6,126.4 348.3,126.4 349.0,126.4 349.7,126.5 350.4,126.5 351.1,126.5 351.8,126.5 352.5,126.5 353.2,126.5 353.9,126.5 354.6,126.5 355.3,126.5 356.0,126.5" fill="none" stroke="#2ea24a" stroke-width="1.1" stroke-linejoin="round" />
<rect x="204.7" y="1.7" width="151.3" height="130.10000000000002" fill="none" stroke="#2a2a2a" stroke-width="1.3"/>
<line x1="228.80" y1="131.8" x2="228.80" y2="128.8" stroke="#3a3a3a" stroke-width="1"/>
<line x1="255.90" y1="131.8" x2="255.90" y2="128.8" stroke="#3a3a3a" stroke-width="1"/>
<line x1="283.00" y1="131.8" x2="283.00" y2="128.8" stroke="#3a3a3a" stroke-width="1"/>
<line x1="310.10" y1="131.8" x2="310.10" y2="128.8" stroke="#3a3a3a" stroke-width="1"/>
<line x1="337.20" y1="131.8" x2="337.20" y2="128.8" stroke="#3a3a3a" stroke-width="1"/>
<text x="228.8" y="140.4" font-size="7.8" text-anchor="middle" fill="#111" textLength="10.2" lengthAdjust="spacingAndGlyphs" style="stroke-width:0.12px">456</text>
<text x="255.9" y="140.4" font-size="7.8" text-anchor="middle" fill="#111" textLength="10.2" lengthAdjust="spacingAndGlyphs" style="stroke-width:0.12px">457</text>
<text x="283.0" y="140.4" font-size="7.8" text-anchor="middle" fill="#111" textLength="10.2" lengthAdjust="spacingAndGlyphs" style="stroke-width:0.12px">458</text>
<text x="310.1" y="140.4" font-size="7.8" text-anchor="middle" fill="#111" textLength="10.2" lengthAdjust="spacingAndGlyphs" style="stroke-width:0.12px">459</text>
<text x="337.2" y="140.4" font-size="7.8" text-anchor="middle" fill="#111" textLength="10.2" lengthAdjust="spacingAndGlyphs" style="stroke-width:0.12px">460</text>
<rect x="186.2" y="1.7" width="14.800000000000011" height="14.3" fill="#f50f0f"/>
<text x="194.2" y="13.1" font-size="12.6" text-anchor="middle" fill="#fff" textLength="7.8" lengthAdjust="spacingAndGlyphs" style="stroke:none">B</text>
<text x="0" y="0" font-size="12" text-anchor="middle" fill="#111" textLength="69.4" lengthAdjust="spacingAndGlyphs" transform="translate(191.60000000000002,68.3) rotate(-90)" dominant-baseline="central">Intensity (a.u.)</text>
<text x="221.8" y="154.20000000000002" font-size="13.2" text-anchor="start" fill="#111" textLength="112.6" lengthAdjust="spacingAndGlyphs" >Binding energy (eV)</text>
<text x="212.3" y="18.9" font-size="9.8" fill="#111">Ti 2p<tspan font-size="7.60" dy="2.8">3/2</tspan></text>
<text x="319.2" y="17.3" font-size="8" text-anchor="start" fill="#111" textLength="23" lengthAdjust="spacingAndGlyphs" >AT-120</text>
<text x="323.3" y="48" font-size="8" text-anchor="start" fill="#111" textLength="19" lengthAdjust="spacingAndGlyphs" >AT-80</text>
<text x="323.3" y="80.7" font-size="8" text-anchor="start" fill="#111" textLength="19" lengthAdjust="spacingAndGlyphs" >AT-60</text>
<text x="323.3" y="115" font-size="8" text-anchor="start" fill="#111" textLength="19" lengthAdjust="spacingAndGlyphs" >AT-40</text>
<polyline points="384.6,116.0 407.2,106.3 424.0,89.3 430.0,80.0 447.0,50.0 450.0,42.1 454.9,32.2 461.1,22.3 466.0,16.2 472.2,14.3 478.4,16.2 483.3,21.1 490.0,31.0 495.4,40.0 504.7,57.0 512.4,70.9 515.4,76.5 521.6,88.5 530.9,97.0 538.6,103.1 543.4,106.2" fill="none" stroke="#262626" stroke-width="1.5" stroke-linejoin="round" />
<polyline points="384.6,112.0 396.4,104.7 408.7,93.2 420.0,80.0 423.4,74.6 436.5,50.0 442.1,37.8 447.0,28.5 450.0,24.8 453.7,19.9 458.6,14.3 464.8,14.9 469.8,18.6 475.9,24.8 480.9,32.2 484.6,39.0 491.6,53.9 500.1,69.3 506.2,80.8 513.9,92.3 524.7,102.4 533.9,107.8 543.4,110.1" fill="none" stroke="#2233ee" stroke-width="1.5" stroke-linejoin="round" />
<polyline points="384.6,110.5 396.4,102.4 408.7,90.0 416.2,80.0 421.0,73.0 433.5,50.0 439.6,37.2 445.2,27.9 450.0,20.5 454.9,14.9 459.9,14.3 464.8,16.8 468.5,22.3 474.7,32.2 480.9,42.1 485.2,50.0 487.7,55.4 495.4,70.9 502.3,80.8 509.3,92.3 518.5,101.6 530.9,107.0 543.4,111.6" fill="none" stroke="#22dd22" stroke-width="1.5" stroke-linejoin="round" />
<polyline points="384.6,109.4 396.4,100.1 408.7,87.0 413.1,80.0 419.5,71.5 429.8,50.0 435.9,37.2 442.1,27.3 447.0,19.9 450.0,15.6 453.7,14.3 457.4,14.3 462.3,16.8 466.0,21.1 471.6,31.0 477.8,42.1 482.1,50.0 486.2,57.0 493.9,72.4 500.0,83.9 507.7,94.7 517.0,102.4 529.3,107.8 543.4,112.4" fill="none" stroke="#f5a81c" stroke-width="1.5" stroke-linejoin="round" />
<polyline points="384.6,106.3 393.3,93.2 402.5,80.8 410.2,70.5 414.6,62.4 419.6,51.0 425.7,38.5 431.6,30.0 434.7,26.0 440.9,18.0 446.4,14.5 450.0,17.2 454.9,20.5 459.9,22.3 465.4,28.5 471.0,38.4 477.8,49.0 484.6,61.6 490.8,76.3 500.0,86.9 506.2,95.4 515.4,104.7 527.8,110.1 543.4,115.8" fill="none" stroke="#f01e1e" stroke-width="1.5" stroke-linejoin="round" />
<rect x="384" y="2.7" width="159.79999999999995" height="129.5" fill="none" stroke="#2a2a2a" stroke-width="1.3"/>
<line x1="404.20" y1="132.2" x2="404.20" y2="129.2" stroke="#3a3a3a" stroke-width="1"/>
<line x1="436.60" y1="132.2" x2="436.60" y2="129.2" stroke="#3a3a3a" stroke-width="1"/>
<line x1="469.00" y1="132.2" x2="469.00" y2="129.2" stroke="#3a3a3a" stroke-width="1"/>
<line x1="501.40" y1="132.2" x2="501.40" y2="129.2" stroke="#3a3a3a" stroke-width="1"/>
<line x1="533.80" y1="132.2" x2="533.80" y2="129.2" stroke="#3a3a3a" stroke-width="1"/>
<text x="405.0" y="140.4" font-size="7.8" text-anchor="middle" fill="#111" textLength="10.2" lengthAdjust="spacingAndGlyphs" style="stroke-width:0.12px">457</text>
<text x="437.4" y="140.4" font-size="7.8" text-anchor="middle" fill="#111" textLength="14.6" lengthAdjust="spacingAndGlyphs" style="stroke-width:0.12px">457.5</text>
<text x="469.8" y="140.4" font-size="7.8" text-anchor="middle" fill="#111" textLength="10.2" lengthAdjust="spacingAndGlyphs" style="stroke-width:0.12px">458</text>
<text x="502.2" y="140.4" font-size="7.8" text-anchor="middle" fill="#111" textLength="14.6" lengthAdjust="spacingAndGlyphs" style="stroke-width:0.12px">458.5</text>
<text x="534.6" y="140.4" font-size="7.8" text-anchor="middle" fill="#111" textLength="10.2" lengthAdjust="spacingAndGlyphs" style="stroke-width:0.12px">459</text>
<rect x="364.3" y="2.2" width="14.800000000000011" height="13.8" fill="#f50f0f"/>
<text x="372.3" y="13.1" font-size="12.6" text-anchor="middle" fill="#fff" textLength="8.4" lengthAdjust="spacingAndGlyphs" style="stroke:none">C</text>
<text x="0" y="0" font-size="12" text-anchor="middle" fill="#111" textLength="70" lengthAdjust="spacingAndGlyphs" transform="translate(370.8,68.0) rotate(-90)" dominant-baseline="central">Intensity (a.u.)</text>
<text x="413.4" y="154.4" font-size="13.2" text-anchor="start" fill="#111" textLength="111.9" lengthAdjust="spacingAndGlyphs" >Binding energy (eV)</text>
<text x="394.2" y="19.8" font-size="9.6" fill="#111">Ti 2p<tspan font-size="7.60" dy="2.8">3/2</tspan></text>
<line x1="438" y1="76.3" x2="453.7" y2="76.3" stroke="#f01e1e" stroke-width="1.6"/>
<text x="458" y="79.1" font-size="8.2" text-anchor="start" fill="#111" textLength="19" lengthAdjust="spacingAndGlyphs" >AT-60</text>
<line x1="438" y1="86.9" x2="453.7" y2="86.9" stroke="#f5a81c" stroke-width="1.6"/>
<text x="458" y="89.7" font-size="8.2" text-anchor="start" fill="#111" textLength="19" lengthAdjust="spacingAndGlyphs" >AT-80</text>
<line x1="438" y1="97.5" x2="453.7" y2="97.5" stroke="#22dd22" stroke-width="1.6"/>
<text x="458" y="100.3" font-size="8.2" text-anchor="start" fill="#111" textLength="19" lengthAdjust="spacingAndGlyphs" >AT-40</text>
<line x1="438" y1="108.1" x2="453.7" y2="108.1" stroke="#2233ee" stroke-width="1.6"/>
<text x="458" y="110.9" font-size="8.2" text-anchor="start" fill="#111" textLength="23" lengthAdjust="spacingAndGlyphs" >AT-120</text>
<line x1="438" y1="118.7" x2="453.7" y2="118.7" stroke="#262626" stroke-width="1.6"/>
<text x="458" y="121.5" font-size="8.2" text-anchor="start" fill="#111" textLength="25.2" lengthAdjust="spacingAndGlyphs" >Ti mesh</text>
<defs><linearGradient id="gPink" gradientUnits="userSpaceOnUse" x1="0" y1="184" x2="0" y2="230"><stop offset="0" stop-color="#f03c96"/><stop offset="0.35" stop-color="#e83cb0"/><stop offset="0.7" stop-color="#a048e0"/><stop offset="1" stop-color="#5a50f0"/></linearGradient><linearGradient id="gBlue" gradientUnits="userSpaceOnUse" x1="0" y1="188" x2="0" y2="230"><stop offset="0" stop-color="#3c3cf2"/><stop offset="0.5" stop-color="#6a6ad8"/><stop offset="1" stop-color="#a4a4b0"/></linearGradient><linearGradient id="gGreen" gradientUnits="userSpaceOnUse" x1="0" y1="241" x2="0" y2="292"><stop offset="0" stop-color="#f6f8f6"/><stop offset="0.4" stop-color="#c8dccc"/><stop offset="0.75" stop-color="#5aa070"/><stop offset="1" stop-color="#0a8a3a"/></linearGradient><linearGradient id="gYel" gradientUnits="userSpaceOnUse" x1="0" y1="272" x2="0" y2="292"><stop offset="0" stop-color="#f8f6a0"/><stop offset="0.5" stop-color="#dcdc80"/><stop offset="1" stop-color="#7a8a2a"/></linearGradient><clipPath id="clipD"><rect x="22.6" y="164" width="151.4" height="131.3"/></clipPath><marker id="arr" viewBox="0 0 10 10" refX="9" refY="5" markerWidth="4" markerHeight="4" orient="auto"><path d="M0,0 L10,5 L0,10 z" fill="#111"/></marker></defs>
<g clip-path="url(#clipD)">
<path d="M22.6,230.3 L23.2,230.3 L23.8,230.3 L24.4,230.3 L25.0,230.3 L25.6,230.3 L26.2,230.3 L26.8,230.3 L27.4,230.3 L28.0,230.3 L28.6,230.3 L29.2,230.3 L29.8,230.3 L30.4,230.3 L31.0,230.2 L31.6,230.2 L32.2,230.2 L32.8,230.2 L33.4,230.2 L34.0,230.2 L34.6,230.2 L35.2,230.2 L35.8,230.2 L36.4,230.2 L37.0,230.2 L37.6,230.2 L38.2,230.2 L38.8,230.2 L39.4,230.2 L40.0,230.2 L40.6,230.2 L41.2,230.2 L41.8,230.2 L42.4,230.2 L43.0,230.2 L43.6,230.2 L44.2,230.2 L44.8,230.2 L45.4,230.2 L46.0,230.1 L46.6,230.1 L47.2,230.1 L47.8,230.1 L48.4,230.1 L49.0,230.1 L49.6,230.1 L50.2,230.1 L50.8,230.1 L51.4,230.1 L52.0,230.1 L52.6,230.1 L53.2,230.0 L53.8,230.0 L54.4,230.0 L55.0,230.0 L55.6,230.0 L56.2,230.0 L56.8,230.0 L57.4,230.0 L58.0,229.9 L58.6,229.9 L59.2,229.9 L59.8,229.9 L60.5,229.9 L61.1,229.9 L61.7,229.9 L62.3,229.8 L62.9,229.8 L63.5,229.8 L64.1,229.8 L64.7,229.8 L65.3,229.7 L65.9,229.7 L66.5,229.7 L67.1,229.7 L67.7,229.7 L68.3,229.6 L68.9,229.6 L69.5,229.6 L70.1,229.6 L70.7,229.5 L71.3,229.5 L71.9,229.5 L72.5,229.5 L73.1,229.4 L73.7,229.4 L74.3,229.4 L74.9,229.3 L75.5,229.3 L76.1,229.3 L76.7,229.3 L77.3,229.2 L77.9,229.2 L78.5,229.2 L79.1,229.1 L79.7,229.1 L80.3,229.1 L80.9,229.1 L81.5,229.0 L82.1,229.0 L82.7,229.0 L83.3,228.9 L83.9,228.9 L84.5,228.9 L85.1,228.8 L85.7,228.8 L86.3,228.8 L86.9,228.8 L87.5,228.7 L88.1,228.7 L88.7,228.7 L89.3,228.6 L89.9,228.6 L90.5,228.6 L91.1,228.6 L91.7,228.5 L92.3,228.5 L92.9,228.5 L93.5,228.5 L94.1,228.4 L94.7,228.4 L95.3,228.4 L95.9,228.4 L96.5,228.3 L97.1,228.3 L97.7,228.3 L98.3,228.3 L98.9,228.3 L99.5,228.2 L100.1,228.2 L100.7,228.2 L101.3,228.2 L101.9,228.2 L102.5,228.1 L103.1,228.1 L103.7,228.1 L104.3,228.1 L104.9,228.1 L105.5,228.1 L106.1,228.1 L106.7,228.0 L107.3,228.0 L107.9,228.0 L108.5,228.0 L109.1,228.0 L109.7,228.0 L110.3,228.0 L110.9,228.0 L111.5,227.9 L112.1,227.9 L112.7,227.9 L113.3,227.9 L113.9,227.9 L114.5,227.9 L115.1,227.9 L115.7,227.9 L116.3,227.9 L116.9,227.9 L117.5,227.9 L118.1,227.9 L118.7,227.8 L119.3,227.8 L119.9,227.8 L120.5,227.8 L121.1,227.8 L121.7,227.8 L122.3,227.8 L122.9,227.8 L123.5,227.8 L124.1,227.8 L124.7,227.8 L125.3,227.8 L125.9,227.8 L126.5,227.8 L127.1,227.8 L127.7,227.8 L128.3,227.8 L128.9,227.8 L129.5,227.8 L130.1,227.8 L130.7,227.8 L131.3,227.8 L131.9,227.8 L132.5,227.8 L133.1,227.7 L133.7,227.7 L134.3,227.7 L134.9,227.7 L135.5,227.7 L136.2,227.7 L136.8,227.7 L137.4,227.7 L138.0,227.7 L138.6,227.7 L139.2,227.7 L139.8,227.7 L140.4,227.7 L141.0,227.7 L141.6,227.7 L142.2,227.7 L142.8,227.7 L143.4,227.7 L144.0,227.7 L144.6,227.7 L145.2,227.7 L145.8,227.7 L146.4,227.7 L147.0,227.7 L147.6,227.7 L148.2,227.7 L148.8,227.7 L149.4,227.7 L150.0,227.7 L150.6,227.7 L151.2,227.7 L151.8,227.7 L152.4,227.7 L153.0,227.7 L153.6,227.7 L154.2,227.7 L154.8,227.7 L155.4,227.7 L156.0,227.7 L156.6,227.7 L157.2,227.7 L157.8,227.7 L158.4,227.7 L159.0,227.7 L159.6,227.7 L160.2,227.7 L160.8,227.7 L161.4,227.7 L162.0,227.7 L162.6,227.7 L163.2,227.7 L163.8,227.7 L164.4,227.7 L165.0,227.7 L165.6,227.7 L166.2,227.7 L166.8,227.7 L167.4,227.7 L168.0,227.7 L168.6,227.7 L169.2,227.7 L169.8,227.7 L170.4,227.7 L171.0,227.7 L171.6,227.7 L172.2,227.7 L172.8,227.7 L173.4,227.7 L174.0,227.7 L174.0,231.6 L22.6,231.6 Z" fill="#7e70c8"/>
<path d="M22.6,230.2 L23.2,230.2 L23.8,230.2 L24.4,230.2 L25.0,230.2 L25.6,230.2 L26.2,230.2 L26.8,230.2 L27.4,230.2 L28.0,230.2 L28.6,230.2 L29.2,230.1 L29.8,230.1 L30.4,230.1 L31.0,230.1 L31.6,230.1 L32.2,230.0 L32.8,230.0 L33.4,230.0 L34.0,230.0 L34.6,229.9 L35.2,229.9 L35.8,229.9 L36.4,229.8 L37.0,229.8 L37.6,229.7 L38.2,229.7 L38.8,229.6 L39.4,229.6 L40.0,229.5 L40.6,229.4 L41.2,229.3 L41.8,229.3 L42.4,229.2 L43.0,229.1 L43.6,229.0 L44.2,228.9 L44.8,228.7 L45.4,228.6 L46.0,228.5 L46.6,228.3 L47.2,228.2 L47.8,228.0 L48.4,227.9 L49.0,227.7 L49.6,227.5 L50.2,227.3 L50.8,227.0 L51.4,226.8 L52.0,226.6 L52.6,226.3 L53.2,226.0 L53.8,225.7 L54.4,225.4 L55.0,225.1 L55.6,224.8 L56.2,224.4 L56.8,224.0 L57.4,223.6 L58.0,223.2 L58.6,222.8 L59.2,222.4 L59.8,221.9 L60.5,221.4 L61.1,220.9 L61.7,220.4 L62.3,219.9 L62.9,219.3 L63.5,218.8 L64.1,218.2 L64.7,217.6 L65.3,216.9 L65.9,216.3 L66.5,215.6 L67.1,215.0 L67.7,214.3 L68.3,213.6 L68.9,212.9 L69.5,212.1 L70.1,211.4 L70.7,210.6 L71.3,209.9 L71.9,209.1 L72.5,208.3 L73.1,207.5 L73.7,206.7 L74.3,205.9 L74.9,205.1 L75.5,204.3 L76.1,203.5 L76.7,202.7 L77.3,201.9 L77.9,201.2 L78.5,200.4 L79.1,199.6 L79.7,198.9 L80.3,198.1 L80.9,197.4 L81.5,196.7 L82.1,196.0 L82.7,195.3 L83.3,194.7 L83.9,194.0 L84.5,193.4 L85.1,192.8 L85.7,192.3 L86.3,191.8 L86.9,191.3 L87.5,190.8 L88.1,190.4 L88.7,190.0 L89.3,189.7 L89.9,189.3 L90.5,189.1 L91.1,188.8 L91.7,188.6 L92.3,188.5 L92.9,188.4 L93.5,188.3 L94.1,188.2 L94.7,188.2 L95.3,188.3 L95.9,188.4 L96.5,188.5 L97.1,188.6 L97.7,188.8 L98.3,189.0 L98.9,189.3 L99.5,189.6 L100.1,189.9 L100.7,190.3 L101.3,190.7 L101.9,191.1 L102.5,191.6 L103.1,192.1 L103.7,192.6 L104.3,193.1 L104.9,193.7 L105.5,194.3 L106.1,194.9 L106.7,195.5 L107.3,196.2 L107.9,196.8 L108.5,197.5 L109.1,198.2 L109.7,198.9 L110.3,199.6 L110.9,200.4 L111.5,201.1 L112.1,201.8 L112.7,202.6 L113.3,203.3 L113.9,204.0 L114.5,204.8 L115.1,205.5 L115.7,206.3 L116.3,207.0 L116.9,207.7 L117.5,208.4 L118.1,209.2 L118.7,209.9 L119.3,210.5 L119.9,211.2 L120.5,211.9 L121.1,212.6 L121.7,213.2 L122.3,213.8 L122.9,214.4 L123.5,215.0 L124.1,215.6 L124.7,216.2 L125.3,216.7 L125.9,217.3 L126.5,217.8 L127.1,218.3 L127.7,218.8 L128.3,219.2 L128.9,219.7 L129.5,220.1 L130.1,220.5 L130.7,220.9 L131.3,221.3 L131.9,221.7 L132.5,222.1 L133.1,222.4 L133.7,222.7 L134.3,223.0 L134.9,223.3 L135.5,223.6 L136.2,223.9 L136.8,224.1 L137.4,224.3 L138.0,224.6 L138.6,224.8 L139.2,225.0 L139.8,225.2 L140.4,225.3 L141.0,225.5 L141.6,225.7 L142.2,225.8 L142.8,226.0 L143.4,226.1 L144.0,226.2 L144.6,226.3 L145.2,226.4 L145.8,226.5 L146.4,226.6 L147.0,226.7 L147.6,226.8 L148.2,226.9 L148.8,226.9 L149.4,227.0 L150.0,227.1 L150.6,227.1 L151.2,227.2 L151.8,227.2 L152.4,227.3 L153.0,227.3 L153.6,227.3 L154.2,227.4 L154.8,227.4 L155.4,227.4 L156.0,227.5 L156.6,227.5 L157.2,227.5 L157.8,227.5 L158.4,227.5 L159.0,227.6 L159.6,227.6 L160.2,227.6 L160.8,227.6 L161.4,227.6 L162.0,227.6 L162.6,227.6 L163.2,227.6 L163.8,227.6 L164.4,227.6 L165.0,227.7 L165.6,227.7 L166.2,227.7 L166.8,227.7 L167.4,227.7 L168.0,227.7 L168.6,227.7 L169.2,227.7 L169.8,227.7 L170.4,227.7 L171.0,227.7 L171.6,227.7 L172.2,227.7 L172.8,227.7 L173.4,227.7 L174.0,227.7 L174.0,227.7 L172.5,227.7 L171.0,227.7 L169.5,227.7 L167.9,227.7 L166.4,227.7 L164.9,227.7 L163.4,227.7 L161.9,227.7 L160.4,227.7 L158.9,227.7 L157.3,227.7 L155.8,227.7 L154.3,227.7 L152.8,227.7 L151.3,227.7 L149.8,227.7 L148.3,227.7 L146.7,227.7 L145.2,227.7 L143.7,227.7 L142.2,227.7 L140.7,227.7 L139.2,227.7 L137.7,227.7 L136.2,227.7 L134.6,227.7 L133.1,227.7 L131.6,227.8 L130.1,227.8 L128.6,227.8 L127.1,227.8 L125.6,227.8 L124.0,227.8 L122.5,227.8 L121.0,227.8 L119.5,227.8 L118.0,227.9 L116.5,227.9 L115.0,227.9 L113.4,227.9 L111.9,227.9 L110.4,228.0 L108.9,228.0 L107.4,228.0 L105.9,228.1 L104.4,228.1 L102.8,228.1 L101.3,228.2 L99.8,228.2 L98.3,228.3 L96.8,228.3 L95.3,228.4 L93.8,228.4 L92.2,228.5 L90.7,228.6 L89.2,228.6 L87.7,228.7 L86.2,228.8 L84.7,228.9 L83.2,228.9 L81.6,229.0 L80.1,229.1 L78.6,229.2 L77.1,229.2 L75.6,229.3 L74.1,229.4 L72.6,229.5 L71.0,229.5 L69.5,229.6 L68.0,229.6 L66.5,229.7 L65.0,229.7 L63.5,229.8 L62.0,229.8 L60.5,229.9 L58.9,229.9 L57.4,230.0 L55.9,230.0 L54.4,230.0 L52.9,230.0 L51.4,230.1 L49.9,230.1 L48.3,230.1 L46.8,230.1 L45.3,230.2 L43.8,230.2 L42.3,230.2 L40.8,230.2 L39.3,230.2 L37.7,230.2 L36.2,230.2 L34.7,230.2 L33.2,230.2 L31.7,230.2 L30.2,230.3 L28.7,230.3 L27.1,230.3 L25.6,230.3 L24.1,230.3 L22.6,230.3 Z" fill="url(#gBlue)"/>
<path d="M22.6,230.3 L23.2,230.3 L23.8,230.3 L24.4,230.3 L25.0,230.3 L25.6,230.3 L26.2,230.3 L26.8,230.3 L27.4,230.3 L28.0,230.3 L28.6,230.2 L29.2,230.2 L29.8,230.2 L30.4,230.2 L31.0,230.2 L31.6,230.2 L32.2,230.2 L32.8,230.2 L33.4,230.2 L34.0,230.1 L34.6,230.1 L35.2,230.1 L35.8,230.0 L36.4,230.0 L37.0,229.9 L37.6,229.8 L38.2,229.7 L38.8,229.6 L39.4,229.4 L40.0,229.2 L40.6,229.0 L41.2,228.8 L41.8,228.5 L42.4,228.1 L43.0,227.7 L43.6,227.3 L44.2,226.7 L44.8,226.1 L45.4,225.5 L46.0,224.7 L46.6,223.8 L47.2,222.9 L47.8,221.8 L48.4,220.7 L49.0,219.4 L49.6,218.0 L50.2,216.6 L50.8,215.0 L51.4,213.3 L52.0,211.6 L52.6,209.7 L53.2,207.8 L53.8,205.9 L54.4,203.9 L55.0,201.8 L55.6,199.8 L56.2,197.8 L56.8,195.9 L57.4,194.0 L58.0,192.2 L58.6,190.6 L59.2,189.0 L59.8,187.6 L60.5,186.4 L61.1,185.4 L61.7,184.6 L62.3,184.1 L62.9,183.7 L63.5,183.6 L64.1,183.7 L64.7,184.1 L65.3,184.7 L65.9,185.5 L66.5,186.5 L67.1,187.7 L67.7,189.0 L68.3,190.6 L68.9,192.2 L69.5,194.0 L70.1,195.8 L70.7,197.7 L71.3,199.7 L71.9,201.7 L72.5,203.7 L73.1,205.6 L73.7,207.5 L74.3,209.4 L74.9,211.2 L75.5,212.9 L76.1,214.5 L76.7,216.0 L77.3,217.4 L77.9,218.7 L78.5,219.9 L79.1,221.0 L79.7,222.0 L80.3,222.9 L80.9,223.8 L81.5,224.5 L82.1,225.1 L82.7,225.6 L83.3,226.1 L83.9,226.5 L84.5,226.9 L85.1,227.2 L85.7,227.4 L86.3,227.7 L86.9,227.8 L87.5,228.0 L88.1,228.1 L88.7,228.2 L89.3,228.2 L89.9,228.3 L90.5,228.3 L91.1,228.4 L91.7,228.4 L92.3,228.4 L92.9,228.4 L93.5,228.4 L94.1,228.4 L94.7,228.4 L95.3,228.4 L95.9,228.3 L96.5,228.3 L97.1,228.3 L97.7,228.3 L98.3,228.3 L98.9,228.3 L99.5,228.2 L100.1,228.2 L100.7,228.2 L101.3,228.2 L101.9,228.2 L102.5,228.1 L103.1,228.1 L103.7,228.1 L104.3,228.1 L104.9,228.1 L105.5,228.1 L106.1,228.1 L106.7,228.0 L107.3,228.0 L107.9,228.0 L108.5,228.0 L109.1,228.0 L109.7,228.0 L110.3,228.0 L110.9,228.0 L111.5,227.9 L112.1,227.9 L112.7,227.9 L113.3,227.9 L113.9,227.9 L114.5,227.9 L115.1,227.9 L115.7,227.9 L116.3,227.9 L116.9,227.9 L117.5,227.9 L118.1,227.9 L118.7,227.8 L119.3,227.8 L119.9,227.8 L120.5,227.8 L121.1,227.8 L121.7,227.8 L122.3,227.8 L122.9,227.8 L123.5,227.8 L124.1,227.8 L124.7,227.8 L125.3,227.8 L125.9,227.8 L126.5,227.8 L127.1,227.8 L127.7,227.8 L128.3,227.8 L128.9,227.8 L129.5,227.8 L130.1,227.8 L130.7,227.8 L131.3,227.8 L131.9,227.8 L132.5,227.8 L133.1,227.7 L133.7,227.7 L134.3,227.7 L134.9,227.7 L135.5,227.7 L136.2,227.7 L136.8,227.7 L137.4,227.7 L138.0,227.7 L138.6,227.7 L139.2,227.7 L139.8,227.7 L140.4,227.7 L141.0,227.7 L141.6,227.7 L142.2,227.7 L142.8,227.7 L143.4,227.7 L144.0,227.7 L144.6,227.7 L145.2,227.7 L145.8,227.7 L146.4,227.7 L147.0,227.7 L147.6,227.7 L148.2,227.7 L148.8,227.7 L149.4,227.7 L150.0,227.7 L150.6,227.7 L151.2,227.7 L151.8,227.7 L152.4,227.7 L153.0,227.7 L153.6,227.7 L154.2,227.7 L154.8,227.7 L155.4,227.7 L156.0,227.7 L156.6,227.7 L157.2,227.7 L157.8,227.7 L158.4,227.7 L159.0,227.7 L159.6,227.7 L160.2,227.7 L160.8,227.7 L161.4,227.7 L162.0,227.7 L162.6,227.7 L163.2,227.7 L163.8,227.7 L164.4,227.7 L165.0,227.7 L165.6,227.7 L166.2,227.7 L166.8,227.7 L167.4,227.7 L168.0,227.7 L168.6,227.7 L169.2,227.7 L169.8,227.7 L170.4,227.7 L171.0,227.7 L171.6,227.7 L172.2,227.7 L172.8,227.7 L173.4,227.7 L174.0,227.7 L174.0,227.7 L172.5,227.7 L171.0,227.7 L169.5,227.7 L167.9,227.7 L166.4,227.7 L164.9,227.7 L163.4,227.7 L161.9,227.7 L160.4,227.7 L158.9,227.7 L157.3,227.7 L155.8,227.7 L154.3,227.7 L152.8,227.7 L151.3,227.7 L149.8,227.7 L148.3,227.7 L146.7,227.7 L145.2,227.7 L143.7,227.7 L142.2,227.7 L140.7,227.7 L139.2,227.7 L137.7,227.7 L136.2,227.7 L134.6,227.7 L133.1,227.7 L131.6,227.8 L130.1,227.8 L128.6,227.8 L127.1,227.8 L125.6,227.8 L124.0,227.8 L122.5,227.8 L121.0,227.8 L119.5,227.8 L118.0,227.9 L116.5,227.9 L115.0,227.9 L113.4,227.9 L111.9,227.9 L110.4,228.0 L108.9,228.0 L107.4,228.0 L105.9,228.1 L104.4,228.1 L102.8,228.1 L101.3,228.2 L99.8,228.2 L98.3,228.3 L96.8,228.3 L95.3,228.4 L93.8,228.4 L92.2,228.5 L90.7,228.6 L89.2,228.6 L87.7,228.7 L86.2,228.8 L84.7,228.9 L83.2,228.9 L81.6,229.0 L80.1,229.1 L78.6,229.2 L77.1,229.2 L75.6,229.3 L74.1,229.4 L72.6,229.5 L71.0,229.5 L69.5,229.6 L68.0,229.6 L66.5,229.7 L65.0,229.7 L63.5,229.8 L62.0,229.8 L60.5,229.9 L58.9,229.9 L57.4,230.0 L55.9,230.0 L54.4,230.0 L52.9,230.0 L51.4,230.1 L49.9,230.1 L48.3,230.1 L46.8,230.1 L45.3,230.2 L43.8,230.2 L42.3,230.2 L40.8,230.2 L39.3,230.2 L37.7,230.2 L36.2,230.2 L34.7,230.2 L33.2,230.2 L31.7,230.2 L30.2,230.3 L28.7,230.3 L27.1,230.3 L25.6,230.3 L24.1,230.3 L22.6,230.3 Z" fill="url(#gPink)"/>
<path d="M22.6,230.3 L23.2,230.3 L23.8,230.3 L24.4,230.3 L25.0,230.3 L25.6,230.3 L26.2,230.3 L26.8,230.3 L27.4,230.3 L28.0,230.3 L28.6,230.2 L29.2,230.2 L29.8,230.2 L30.4,230.2 L31.0,230.2 L31.6,230.2 L32.2,230.2 L32.8,230.2 L33.4,230.2 L34.0,230.1 L34.6,230.1 L35.2,230.1 L35.8,230.0 L36.4,230.0 L37.0,229.9 L37.6,229.8 L38.2,229.7 L38.8,229.6 L39.4,229.6 L40.0,229.5 L40.6,229.4 L41.2,229.3 L41.8,229.3 L42.4,229.2 L43.0,229.1 L43.6,229.0 L44.2,228.9 L44.8,228.7 L45.4,228.6 L46.0,228.5 L46.6,228.3 L47.2,228.2 L47.8,228.0 L48.4,227.9 L49.0,227.7 L49.6,227.5 L50.2,227.3 L50.8,227.0 L51.4,226.8 L52.0,226.6 L52.6,226.3 L53.2,226.0 L53.8,225.7 L54.4,225.4 L55.0,225.1 L55.6,224.8 L56.2,224.4 L56.8,224.0 L57.4,223.6 L58.0,223.2 L58.6,222.8 L59.2,222.4 L59.8,221.9 L60.5,221.4 L61.1,220.9 L61.7,220.4 L62.3,219.9 L62.9,219.3 L63.5,218.8 L64.1,218.2 L64.7,217.6 L65.3,216.9 L65.9,216.3 L66.5,215.6 L67.1,215.0 L67.7,214.3 L68.3,213.6 L68.9,212.9 L69.5,212.1 L70.1,211.4 L70.7,210.6 L71.3,209.9 L71.9,209.1 L72.5,208.3 L73.1,207.5 L73.7,207.5 L74.3,209.4 L74.9,211.2 L75.5,212.9 L76.1,214.5 L76.7,216.0 L77.3,217.4 L77.9,218.7 L78.5,219.9 L79.1,221.0 L79.7,222.0 L80.3,222.9 L80.9,223.8 L81.5,224.5 L82.1,225.1 L82.7,225.6 L83.3,226.1 L83.9,226.5 L84.5,226.9 L85.1,227.2 L85.7,227.4 L86.3,227.7 L86.9,227.8 L87.5,228.0 L88.1,228.1 L88.7,228.2 L89.3,228.2 L89.9,228.3 L90.5,228.3 L91.1,228.4 L91.7,228.4 L92.3,228.4 L92.9,228.4 L93.5,228.4 L94.1,228.4 L94.7,228.4 L95.3,228.4 L95.9,228.3 L96.5,228.3 L97.1,228.3 L97.7,228.3 L98.3,228.3 L98.9,228.3 L99.5,228.2 L100.1,228.2 L100.7,228.2 L101.3,228.2 L101.9,228.2 L102.5,228.1 L103.1,228.1 L103.7,228.1 L104.3,228.1 L104.9,228.1 L105.5,228.1 L106.1,228.1 L106.7,228.0 L107.3,228.0 L107.9,228.0 L108.5,228.0 L109.1,228.0 L109.7,228.0 L110.3,228.0 L110.9,228.0 L111.5,227.9 L112.1,227.9 L112.7,227.9 L113.3,227.9 L113.9,227.9 L114.5,227.9 L115.1,227.9 L115.7,227.9 L116.3,227.9 L116.9,227.9 L117.5,227.9 L118.1,227.9 L118.7,227.8 L119.3,227.8 L119.9,227.8 L120.5,227.8 L121.1,227.8 L121.7,227.8 L122.3,227.8 L122.9,227.8 L123.5,227.8 L124.1,227.8 L124.7,227.8 L125.3,227.8 L125.9,227.8 L126.5,227.8 L127.1,227.8 L127.7,227.8 L128.3,227.8 L128.9,227.8 L129.5,227.8 L130.1,227.8 L130.7,227.8 L131.3,227.8 L131.9,227.8 L132.5,227.8 L133.1,227.7 L133.7,227.7 L134.3,227.7 L134.9,227.7 L135.5,227.7 L136.2,227.7 L136.8,227.7 L137.4,227.7 L138.0,227.7 L138.6,227.7 L139.2,227.7 L139.8,227.7 L140.4,227.7 L141.0,227.7 L141.6,227.7 L142.2,227.7 L142.8,227.7 L143.4,227.7 L144.0,227.7 L144.6,227.7 L145.2,227.7 L145.8,227.7 L146.4,227.7 L147.0,227.7 L147.6,227.7 L148.2,227.7 L148.8,227.7 L149.4,227.7 L150.0,227.7 L150.6,227.7 L151.2,227.7 L151.8,227.7 L152.4,227.7 L153.0,227.7 L153.6,227.7 L154.2,227.7 L154.8,227.7 L155.4,227.7 L156.0,227.7 L156.6,227.7 L157.2,227.7 L157.8,227.7 L158.4,227.7 L159.0,227.7 L159.6,227.7 L160.2,227.7 L160.8,227.7 L161.4,227.7 L162.0,227.7 L162.6,227.7 L163.2,227.7 L163.8,227.7 L164.4,227.7 L165.0,227.7 L165.6,227.7 L166.2,227.7 L166.8,227.7 L167.4,227.7 L168.0,227.7 L168.6,227.7 L169.2,227.7 L169.8,227.7 L170.4,227.7 L171.0,227.7 L171.6,227.7 L172.2,227.7 L172.8,227.7 L173.4,227.7 L174.0,227.7 L174.0,227.7 L172.5,227.7 L171.0,227.7 L169.5,227.7 L167.9,227.7 L166.4,227.7 L164.9,227.7 L163.4,227.7 L161.9,227.7 L160.4,227.7 L158.9,227.7 L157.3,227.7 L155.8,227.7 L154.3,227.7 L152.8,227.7 L151.3,227.7 L149.8,227.7 L148.3,227.7 L146.7,227.7 L145.2,227.7 L143.7,227.7 L142.2,227.7 L140.7,227.7 L139.2,227.7 L137.7,227.7 L136.2,227.7 L134.6,227.7 L133.1,227.7 L131.6,227.8 L130.1,227.8 L128.6,227.8 L127.1,227.8 L125.6,227.8 L124.0,227.8 L122.5,227.8 L121.0,227.8 L119.5,227.8 L118.0,227.9 L116.5,227.9 L115.0,227.9 L113.4,227.9 L111.9,227.9 L110.4,228.0 L108.9,228.0 L107.4,228.0 L105.9,228.1 L104.4,228.1 L102.8,228.1 L101.3,228.2 L99.8,228.2 L98.3,228.3 L96.8,228.3 L95.3,228.4 L93.8,228.4 L92.2,228.5 L90.7,228.6 L89.2,228.6 L87.7,228.7 L86.2,228.8 L84.7,228.9 L83.2,228.9 L81.6,229.0 L80.1,229.1 L78.6,229.2 L77.1,229.2 L75.6,229.3 L74.1,229.4 L72.6,229.5 L71.0,229.5 L69.5,229.6 L68.0,229.6 L66.5,229.7 L65.0,229.7 L63.5,229.8 L62.0,229.8 L60.5,229.9 L58.9,229.9 L57.4,230.0 L55.9,230.0 L54.4,230.0 L52.9,230.0 L51.4,230.1 L49.9,230.1 L48.3,230.1 L46.8,230.1 L45.3,230.2 L43.8,230.2 L42.3,230.2 L40.8,230.2 L39.3,230.2 L37.7,230.2 L36.2,230.2 L34.7,230.2 L33.2,230.2 L31.7,230.2 L30.2,230.3 L28.7,230.3 L27.1,230.3 L25.6,230.3 L24.1,230.3 L22.6,230.3 Z" fill="#7a64b4" opacity="0.9"/>
<polyline points="22.6,230.2 23.2,230.2 23.8,230.2 24.4,230.2 25.0,230.2 25.6,230.2 26.2,230.2 26.8,230.2 27.4,230.2 28.0,230.2 28.6,230.1 29.2,230.1 29.8,230.1 30.4,230.1 31.0,230.1 31.6,230.0 32.2,230.0 32.8,230.0 33.4,229.9 34.0,229.9 34.6,229.8 35.2,229.7 35.8,229.6 36.4,229.6 37.0,229.4 37.6,229.3 38.2,229.2 38.8,229.0 39.4,228.8 40.0,228.5 40.6,228.2 41.2,227.9 41.8,227.6 42.4,227.1 43.0,226.6 43.6,226.1 44.2,225.4 44.8,224.7 45.4,223.9 46.0,223.0 46.6,222.0 47.2,220.9 47.8,219.7 48.4,218.4 49.0,217.0 49.6,215.4 50.2,213.7 50.8,211.9 51.4,210.0 52.0,208.0 52.6,206.0 53.2,203.8 53.8,201.5 54.4,199.3 55.0,196.9 55.6,194.6 56.2,192.3 56.8,190.0 57.4,187.7 58.0,185.5 58.6,183.4 59.2,181.5 59.8,179.7 60.5,178.0 61.1,176.5 61.7,175.2 62.3,174.1 62.9,173.2 63.5,172.6 64.1,172.1 64.7,171.9 65.3,171.9 65.9,172.0 66.5,172.4 67.1,172.9 67.7,173.6 68.3,174.5 68.9,175.5 69.5,176.5 70.1,177.6 70.7,178.8 71.3,180.1 71.9,181.3 72.5,182.5 73.1,183.7 73.7,184.8 74.3,185.9 74.9,186.9 75.5,187.9 76.1,188.7 76.7,189.5 77.3,190.1 77.9,190.7 78.5,191.2 79.1,191.5 79.7,191.8 80.3,192.0 80.9,192.1 81.5,192.1 82.1,192.1 82.7,192.0 83.3,191.8 83.9,191.7 84.5,191.4 85.1,191.2 85.7,190.9 86.3,190.6 86.9,190.4 87.5,190.1 88.1,189.8 88.7,189.5 89.3,189.3 89.9,189.0 90.5,188.8 91.1,188.6 91.7,188.5 92.3,188.3 92.9,188.3 93.5,188.2 94.1,188.2 94.7,188.2 95.3,188.2 95.9,188.3 96.5,188.5 97.1,188.6 97.7,188.8 98.3,189.0 98.9,189.3 99.5,189.6 100.1,189.9 100.7,190.3 101.3,190.7 101.9,191.1 102.5,191.6 103.1,192.1 103.7,192.6 104.3,193.1 104.9,193.7 105.5,194.3 106.1,194.9 106.7,195.5 107.3,196.2 107.9,196.8 108.5,197.5 109.1,198.2 109.7,198.9 110.3,199.6 110.9,200.4 111.5,201.1 112.1,201.8 112.7,202.6 113.3,203.3 113.9,204.0 114.5,204.8 115.1,205.5 115.7,206.3 116.3,207.0 116.9,207.7 117.5,208.4 118.1,209.2 118.7,209.9 119.3,210.5 119.9,211.2 120.5,211.9 121.1,212.6 121.7,213.2 122.3,213.8 122.9,214.4 123.5,215.0 124.1,215.6 124.7,216.2 125.3,216.7 125.9,217.3 126.5,217.8 127.1,218.3 127.7,218.8 128.3,219.2 128.9,219.7 129.5,220.1 130.1,220.5 130.7,220.9 131.3,221.3 131.9,221.7 132.5,222.1 133.1,222.4 133.7,222.7 134.3,223.0 134.9,223.3 135.5,223.6 136.2,223.9 136.8,224.1 137.4,224.3 138.0,224.6 138.6,224.8 139.2,225.0 139.8,225.2 140.4,225.3 141.0,225.5 141.6,225.7 142.2,225.8 142.8,226.0 143.4,226.1 144.0,226.2 144.6,226.3 145.2,226.4 145.8,226.5 146.4,226.6 147.0,226.7 147.6,226.8 148.2,226.9 148.8,226.9 149.4,227.0 150.0,227.1 150.6,227.1 151.2,227.2 151.8,227.2 152.4,227.3 153.0,227.3 153.6,227.3 154.2,227.4 154.8,227.4 155.4,227.4 156.0,227.5 156.6,227.5 157.2,227.5 157.8,227.5 158.4,227.5 159.0,227.6 159.6,227.6 160.2,227.6 160.8,227.6 161.4,227.6 162.0,227.6 162.6,227.6 163.2,227.6 163.8,227.6 164.4,227.6 165.0,227.7 165.6,227.7 166.2,227.7 166.8,227.7 167.4,227.7 168.0,227.7 168.6,227.7 169.2,227.7 169.8,227.7 170.4,227.7 171.0,227.7 171.6,227.7 172.2,227.7 172.8,227.7 173.4,227.7 174.0,227.7" fill="none" stroke="#f02020" stroke-width="1.4" stroke-linejoin="round" />
<polyline points="30.0,230.2 30.6,230.2 31.2,230.2 31.8,230.2 32.4,230.2 33.0,230.2 33.6,230.2 34.2,230.1 34.8,230.1 35.4,230.0 36.0,230.0 36.6,229.9 37.2,229.9 37.8,229.8 38.4,229.7 39.1,229.5 39.7,229.4 40.3,229.2 40.9,228.9 41.5,228.7 42.1,228.3 42.7,228.0 43.3,227.6 43.9,227.1 44.5,226.5 45.1,225.9 45.7,225.1 46.3,224.3 46.9,223.4 47.5,222.4 48.1,221.3 48.7,220.1 49.3,218.8 49.9,217.4 50.5,215.8 51.1,214.2 51.7,212.5 52.3,210.7 52.9,208.8 53.5,206.9 54.1,204.9 54.7,202.9 55.3,200.8 55.9,198.8 56.6,196.8 57.2,194.9 57.8,193.1 58.4,191.3 59.0,189.7 59.6,188.3 60.2,187.0 60.8,185.9 61.4,185.0 62.0,184.3 62.6,183.8 63.2,183.6 63.8,183.6 64.4,183.9 65.0,184.4 65.6,185.1 66.2,186.0 66.8,187.1 67.4,188.4 68.0,189.9 68.6,191.5 69.2,193.3 69.8,195.1 70.4,197.0 71.0,198.9 71.6,200.9 72.2,202.9 72.8,204.9 73.4,206.8 74.1,208.7 74.7,210.5 75.3,212.3 75.9,213.9 76.5,215.5 77.1,217.0 77.7,218.3 78.3,219.6 78.9,220.7 79.5,221.7 80.1,222.7 80.7,223.5 81.3,224.3 81.9,224.9 82.5,225.5 83.1,226.0 83.7,226.4 84.3,226.8 84.9,227.1 85.5,227.4 86.1,227.6 86.7,227.8 87.3,227.9 87.9,228.1 88.5,228.2 89.1,228.2 89.7,228.3 90.3,228.3 90.9,228.4 91.6,228.4 92.2,228.4 92.8,228.4 93.4,228.4 94.0,228.4 94.6,228.4 95.2,228.4 95.8,228.3 96.4,228.3 97.0,228.3 97.6,228.3 98.2,228.3 98.8,228.3 99.4,228.2 100.0,228.2" fill="none" stroke="#1a1a1a" stroke-width="1.1" stroke-linejoin="round" stroke-dasharray="2,1.6"/>
<polyline points="22.6,230.2 23.2,230.2 23.8,230.2 24.4,230.2 25.0,230.2 25.6,230.2 26.2,230.2 26.8,230.2 27.4,230.2 28.0,230.2 28.6,230.2 29.2,230.1 29.8,230.1 30.4,230.1 31.0,230.1 31.6,230.1 32.2,230.0 32.8,230.0 33.4,230.0 34.0,230.0 34.6,229.9 35.2,229.9 35.8,229.9 36.4,229.8 37.0,229.8 37.6,229.7 38.2,229.7 38.8,229.6 39.4,229.6 40.0,229.5 40.6,229.4 41.2,229.3 41.8,229.3 42.4,229.2 43.0,229.1 43.6,229.0 44.2,228.9 44.8,228.7 45.4,228.6 46.0,228.5 46.6,228.3 47.2,228.2 47.8,228.0 48.4,227.9 49.0,227.7 49.6,227.5 50.2,227.3 50.8,227.0 51.4,226.8 52.0,226.6 52.6,226.3 53.2,226.0 53.8,225.7 54.4,225.4 55.0,225.1 55.6,224.8 56.2,224.4 56.8,224.0 57.4,223.6 58.0,223.2 58.6,222.8 59.2,222.4 59.8,221.9 60.5,221.4 61.1,220.9 61.7,220.4 62.3,219.9 62.9,219.3 63.5,218.8 64.1,218.2 64.7,217.6 65.3,216.9 65.9,216.3 66.5,215.6 67.1,215.0 67.7,214.3 68.3,213.6 68.9,212.9 69.5,212.1 70.1,211.4 70.7,210.6 71.3,209.9 71.9,209.1 72.5,208.3 73.1,207.5 73.7,206.7 74.3,205.9 74.9,205.1 75.5,204.3 76.1,203.5 76.7,202.7 77.3,201.9 77.9,201.2 78.5,200.4 79.1,199.6 79.7,198.9 80.3,198.1 80.9,197.4 81.5,196.7 82.1,196.0 82.7,195.3 83.3,194.7 83.9,194.0 84.5,193.4 85.1,192.8 85.7,192.3 86.3,191.8 86.9,191.3 87.5,190.8 88.1,190.4 88.7,190.0 89.3,189.7 89.9,189.3 90.5,189.1 91.1,188.8 91.7,188.6 92.3,188.5 92.9,188.4 93.5,188.3 94.1,188.2 94.7,188.2 95.3,188.3 95.9,188.4 96.5,188.5 97.1,188.6 97.7,188.8 98.3,189.0 98.9,189.3 99.5,189.6 100.1,189.9 100.7,190.3 101.3,190.7 101.9,191.1 102.5,191.6 103.1,192.1 103.7,192.6 104.3,193.1 104.9,193.7 105.5,194.3 106.1,194.9 106.7,195.5 107.3,196.2 107.9,196.8 108.5,197.5 109.1,198.2 109.7,198.9 110.3,199.6 110.9,200.4 111.5,201.1 112.1,201.8 112.7,202.6 113.3,203.3 113.9,204.0 114.5,204.8 115.1,205.5 115.7,206.3 116.3,207.0 116.9,207.7 117.5,208.4 118.1,209.2 118.7,209.9 119.3,210.5 119.9,211.2 120.5,211.9 121.1,212.6 121.7,213.2 122.3,213.8 122.9,214.4 123.5,215.0 124.1,215.6 124.7,216.2 125.3,216.7 125.9,217.3 126.5,217.8 127.1,218.3 127.7,218.8 128.3,219.2 128.9,219.7 129.5,220.1 130.1,220.5 130.7,220.9 131.3,221.3 131.9,221.7 132.5,222.1 133.1,222.4 133.7,222.7 134.3,223.0 134.9,223.3 135.5,223.6 136.2,223.9 136.8,224.1 137.4,224.3 138.0,224.6 138.6,224.8 139.2,225.0 139.8,225.2 140.4,225.3 141.0,225.5 141.6,225.7 142.2,225.8 142.8,226.0 143.4,226.1 144.0,226.2 144.6,226.3 145.2,226.4 145.8,226.5 146.4,226.6 147.0,226.7 147.6,226.8 148.2,226.9 148.8,226.9 149.4,227.0 150.0,227.1 150.6,227.1 151.2,227.2 151.8,227.2 152.4,227.3 153.0,227.3 153.6,227.3 154.2,227.4 154.8,227.4 155.4,227.4 156.0,227.5 156.6,227.5 157.2,227.5 157.8,227.5 158.4,227.5 159.0,227.6 159.6,227.6 160.2,227.6 160.8,227.6 161.4,227.6 162.0,227.6 162.6,227.6 163.2,227.6 163.8,227.6 164.4,227.6 165.0,227.7 165.6,227.7 166.2,227.7 166.8,227.7 167.4,227.7 168.0,227.7 168.6,227.7 169.2,227.7 169.8,227.7 170.4,227.7 171.0,227.7 171.6,227.7 172.2,227.7 172.8,227.7 173.4,227.7 174.0,227.7" fill="none" stroke="#1a1a1a" stroke-width="1.1" stroke-linejoin="round" stroke-dasharray="2,1.6"/>
<path d="M22.6,292.2 L23.2,292.2 L23.8,292.2 L24.4,292.2 L25.0,292.2 L25.6,292.2 L26.2,292.2 L26.8,292.2 L27.4,292.2 L28.0,292.2 L28.6,292.2 L29.2,292.2 L29.8,292.2 L30.4,292.2 L31.0,292.2 L31.6,292.2 L32.2,292.2 L32.8,292.2 L33.4,292.2 L34.0,292.1 L34.6,292.1 L35.2,292.1 L35.8,292.1 L36.4,292.1 L37.0,292.1 L37.6,292.1 L38.2,292.1 L38.8,292.1 L39.4,292.1 L40.0,292.1 L40.6,292.1 L41.2,292.1 L41.8,292.1 L42.4,292.1 L43.0,292.1 L43.6,292.1 L44.2,292.1 L44.8,292.1 L45.4,292.1 L46.0,292.1 L46.6,292.1 L47.2,292.1 L47.8,292.1 L48.4,292.1 L49.0,292.0 L49.6,292.0 L50.2,292.0 L50.8,292.0 L51.4,292.0 L52.0,292.0 L52.6,292.0 L53.2,292.0 L53.8,292.0 L54.4,292.0 L55.0,292.0 L55.6,292.0 L56.2,291.9 L56.8,291.9 L57.4,291.9 L58.0,291.9 L58.6,291.9 L59.2,291.9 L59.8,291.9 L60.5,291.9 L61.1,291.9 L61.7,291.8 L62.3,291.8 L62.9,291.8 L63.5,291.8 L64.1,291.8 L64.7,291.8 L65.3,291.7 L65.9,291.7 L66.5,291.7 L67.1,291.7 L67.7,291.7 L68.3,291.7 L68.9,291.6 L69.5,291.6 L70.1,291.6 L70.7,291.6 L71.3,291.6 L71.9,291.5 L72.5,291.5 L73.1,291.5 L73.7,291.5 L74.3,291.5 L74.9,291.4 L75.5,291.4 L76.1,291.4 L76.7,291.4 L77.3,291.3 L77.9,291.3 L78.5,291.3 L79.1,291.3 L79.7,291.2 L80.3,291.2 L80.9,291.2 L81.5,291.2 L82.1,291.1 L82.7,291.1 L83.3,291.1 L83.9,291.1 L84.5,291.1 L85.1,291.0 L85.7,291.0 L86.3,291.0 L86.9,291.0 L87.5,290.9 L88.1,290.9 L88.7,290.9 L89.3,290.9 L89.9,290.8 L90.5,290.8 L91.1,290.8 L91.7,290.8 L92.3,290.8 L92.9,290.7 L93.5,290.7 L94.1,290.7 L94.7,290.7 L95.3,290.7 L95.9,290.6 L96.5,290.6 L97.1,290.6 L97.7,290.6 L98.3,290.6 L98.9,290.5 L99.5,290.5 L100.1,290.5 L100.7,290.5 L101.3,290.5 L101.9,290.5 L102.5,290.5 L103.1,290.4 L103.7,290.4 L104.3,290.4 L104.9,290.4 L105.5,290.4 L106.1,290.4 L106.7,290.4 L107.3,290.4 L107.9,290.4 L108.5,290.3 L109.1,290.3 L109.7,290.3 L110.3,290.3 L110.9,290.3 L111.5,290.3 L112.1,290.3 L112.7,290.3 L113.3,290.3 L113.9,290.3 L114.5,290.3 L115.1,290.3 L115.7,290.2 L116.3,290.2 L116.9,290.2 L117.5,290.2 L118.1,290.2 L118.7,290.2 L119.3,290.2 L119.9,290.2 L120.5,290.2 L121.1,290.2 L121.7,290.2 L122.3,290.2 L122.9,290.2 L123.5,290.2 L124.1,290.2 L124.7,290.2 L125.3,290.2 L125.9,290.2 L126.5,290.2 L127.1,290.2 L127.7,290.2 L128.3,290.2 L128.9,290.2 L129.5,290.2 L130.1,290.2 L130.7,290.1 L131.3,290.1 L131.9,290.1 L132.5,290.1 L133.1,290.1 L133.7,290.1 L134.3,290.1 L134.9,290.1 L135.5,290.1 L136.2,290.1 L136.8,290.1 L137.4,290.1 L138.0,290.1 L138.6,290.1 L139.2,290.1 L139.8,290.1 L140.4,290.1 L141.0,290.1 L141.6,290.1 L142.2,290.1 L142.8,290.1 L143.4,290.1 L144.0,290.1 L144.6,290.1 L145.2,290.1 L145.8,290.1 L146.4,290.1 L147.0,290.1 L147.6,290.1 L148.2,290.1 L148.8,290.1 L149.4,290.1 L150.0,290.1 L150.6,290.1 L151.2,290.1 L151.8,290.1 L152.4,290.1 L153.0,290.1 L153.6,290.1 L154.2,290.1 L154.8,290.1 L155.4,290.1 L156.0,290.1 L156.6,290.1 L157.2,290.1 L157.8,290.1 L158.4,290.1 L159.0,290.1 L159.6,290.1 L160.2,290.1 L160.8,290.1 L161.4,290.1 L162.0,290.1 L162.6,290.1 L163.2,290.1 L163.8,290.1 L164.4,290.1 L165.0,290.1 L165.6,290.1 L166.2,290.1 L166.8,290.1 L167.4,290.1 L168.0,290.1 L168.6,290.1 L169.2,290.1 L169.8,290.1 L170.4,290.1 L171.0,290.1 L171.6,290.1 L172.2,290.1 L172.8,290.1 L173.4,290.1 L174.0,290.1 L174.0,295.6 L22.6,295.6 Z" fill="#2c5a14"/>
<path d="M22.6,292.2 L23.2,292.2 L23.8,292.2 L24.4,292.2 L25.0,292.2 L25.6,292.2 L26.2,292.2 L26.8,292.2 L27.4,292.2 L28.0,292.2 L28.6,292.2 L29.2,292.2 L29.8,292.2 L30.4,292.2 L31.0,292.1 L31.6,292.1 L32.2,292.1 L32.8,292.1 L33.4,292.1 L34.0,292.1 L34.6,292.1 L35.2,292.1 L35.8,292.1 L36.4,292.1 L37.0,292.1 L37.6,292.1 L38.2,292.1 L38.8,292.1 L39.4,292.1 L40.0,292.1 L40.6,292.0 L41.2,292.0 L41.8,292.0 L42.4,292.0 L43.0,292.0 L43.6,292.0 L44.2,291.9 L44.8,291.9 L45.4,291.9 L46.0,291.9 L46.6,291.8 L47.2,291.8 L47.8,291.8 L48.4,291.7 L49.0,291.7 L49.6,291.6 L50.2,291.6 L50.8,291.5 L51.4,291.5 L52.0,291.4 L52.6,291.3 L53.2,291.3 L53.8,291.2 L54.4,291.1 L55.0,291.0 L55.6,290.9 L56.2,290.8 L56.8,290.7 L57.4,290.6 L58.0,290.4 L58.6,290.3 L59.2,290.2 L59.8,290.0 L60.5,289.8 L61.1,289.7 L61.7,289.5 L62.3,289.3 L62.9,289.1 L63.5,288.9 L64.1,288.6 L64.7,288.4 L65.3,288.2 L65.9,287.9 L66.5,287.6 L67.1,287.3 L67.7,287.1 L68.3,286.7 L68.9,286.4 L69.5,286.1 L70.1,285.8 L70.7,285.4 L71.3,285.1 L71.9,284.7 L72.5,284.3 L73.1,283.9 L73.7,283.5 L74.3,283.1 L74.9,282.7 L75.5,282.3 L76.1,281.9 L76.7,281.4 L77.3,281.0 L77.9,280.6 L78.5,280.1 L79.1,279.7 L79.7,279.2 L80.3,278.8 L80.9,278.4 L81.5,277.9 L82.1,277.5 L82.7,277.1 L83.3,276.7 L83.9,276.3 L84.5,275.9 L85.1,275.5 L85.7,275.1 L86.3,274.8 L86.9,274.4 L87.5,274.1 L88.1,273.8 L88.7,273.5 L89.3,273.3 L89.9,273.0 L90.5,272.8 L91.1,272.6 L91.7,272.4 L92.3,272.3 L92.9,272.1 L93.5,272.0 L94.1,271.9 L94.7,271.9 L95.3,271.9 L95.9,271.8 L96.5,271.9 L97.1,271.9 L97.7,272.0 L98.3,272.1 L98.9,272.2 L99.5,272.3 L100.1,272.5 L100.7,272.7 L101.3,272.9 L101.9,273.1 L102.5,273.4 L103.1,273.6 L103.7,273.9 L104.3,274.2 L104.9,274.5 L105.5,274.9 L106.1,275.2 L106.7,275.6 L107.3,275.9 L107.9,276.3 L108.5,276.7 L109.1,277.1 L109.7,277.5 L110.3,277.9 L110.9,278.3 L111.5,278.7 L112.1,279.1 L112.7,279.5 L113.3,279.9 L113.9,280.3 L114.5,280.7 L115.1,281.1 L115.7,281.5 L116.3,281.9 L116.9,282.3 L117.5,282.6 L118.1,283.0 L118.7,283.4 L119.3,283.7 L119.9,284.0 L120.5,284.4 L121.1,284.7 L121.7,285.0 L122.3,285.3 L122.9,285.6 L123.5,285.8 L124.1,286.1 L124.7,286.3 L125.3,286.6 L125.9,286.8 L126.5,287.0 L127.1,287.2 L127.7,287.4 L128.3,287.6 L128.9,287.8 L129.5,288.0 L130.1,288.1 L130.7,288.3 L131.3,288.4 L131.9,288.5 L132.5,288.7 L133.1,288.8 L133.7,288.9 L134.3,289.0 L134.9,289.1 L135.5,289.2 L136.2,289.3 L136.8,289.3 L137.4,289.4 L138.0,289.5 L138.6,289.5 L139.2,289.6 L139.8,289.6 L140.4,289.7 L141.0,289.7 L141.6,289.8 L142.2,289.8 L142.8,289.8 L143.4,289.8 L144.0,289.9 L144.6,289.9 L145.2,289.9 L145.8,289.9 L146.4,290.0 L147.0,290.0 L147.6,290.0 L148.2,290.0 L148.8,290.0 L149.4,290.0 L150.0,290.0 L150.6,290.0 L151.2,290.0 L151.8,290.1 L152.4,290.1 L153.0,290.1 L153.6,290.1 L154.2,290.1 L154.8,290.1 L155.4,290.1 L156.0,290.1 L156.6,290.1 L157.2,290.1 L157.8,290.1 L158.4,290.1 L159.0,290.1 L159.6,290.1 L160.2,290.1 L160.8,290.1 L161.4,290.1 L162.0,290.1 L162.6,290.1 L163.2,290.1 L163.8,290.1 L164.4,290.1 L165.0,290.1 L165.6,290.1 L166.2,290.1 L166.8,290.1 L167.4,290.1 L168.0,290.1 L168.6,290.1 L169.2,290.1 L169.8,290.1 L170.4,290.1 L171.0,290.1 L171.6,290.1 L172.2,290.1 L172.8,290.1 L173.4,290.1 L174.0,290.1 L174.0,290.1 L172.5,290.1 L171.0,290.1 L169.5,290.1 L167.9,290.1 L166.4,290.1 L164.9,290.1 L163.4,290.1 L161.9,290.1 L160.4,290.1 L158.9,290.1 L157.3,290.1 L155.8,290.1 L154.3,290.1 L152.8,290.1 L151.3,290.1 L149.8,290.1 L148.3,290.1 L146.7,290.1 L145.2,290.1 L143.7,290.1 L142.2,290.1 L140.7,290.1 L139.2,290.1 L137.7,290.1 L136.2,290.1 L134.6,290.1 L133.1,290.1 L131.6,290.1 L130.1,290.2 L128.6,290.2 L127.1,290.2 L125.6,290.2 L124.0,290.2 L122.5,290.2 L121.0,290.2 L119.5,290.2 L118.0,290.2 L116.5,290.2 L115.0,290.3 L113.4,290.3 L111.9,290.3 L110.4,290.3 L108.9,290.3 L107.4,290.4 L105.9,290.4 L104.4,290.4 L102.8,290.5 L101.3,290.5 L99.8,290.5 L98.3,290.6 L96.8,290.6 L95.3,290.7 L93.8,290.7 L92.2,290.8 L90.7,290.8 L89.2,290.9 L87.7,290.9 L86.2,291.0 L84.7,291.0 L83.2,291.1 L81.6,291.2 L80.1,291.2 L78.6,291.3 L77.1,291.3 L75.6,291.4 L74.1,291.5 L72.6,291.5 L71.0,291.6 L69.5,291.6 L68.0,291.7 L66.5,291.7 L65.0,291.8 L63.5,291.8 L62.0,291.8 L60.5,291.9 L58.9,291.9 L57.4,291.9 L55.9,292.0 L54.4,292.0 L52.9,292.0 L51.4,292.0 L49.9,292.0 L48.3,292.1 L46.8,292.1 L45.3,292.1 L43.8,292.1 L42.3,292.1 L40.8,292.1 L39.3,292.1 L37.7,292.1 L36.2,292.1 L34.7,292.1 L33.2,292.2 L31.7,292.2 L30.2,292.2 L28.7,292.2 L27.1,292.2 L25.6,292.2 L24.1,292.2 L22.6,292.2 Z" fill="url(#gYel)"/>
<path d="M22.6,292.2 L23.2,292.2 L23.8,292.2 L24.4,292.2 L25.0,292.2 L25.6,292.2 L26.2,292.2 L26.8,292.2 L27.4,292.2 L28.0,292.2 L28.6,292.2 L29.2,292.2 L29.8,292.2 L30.4,292.2 L31.0,292.1 L31.6,292.1 L32.2,292.1 L32.8,292.1 L33.4,292.1 L34.0,292.1 L34.6,292.1 L35.2,292.1 L35.8,292.0 L36.4,292.0 L37.0,292.0 L37.6,291.9 L38.2,291.9 L38.8,291.8 L39.4,291.7 L40.0,291.6 L40.6,291.5 L41.2,291.3 L41.8,291.2 L42.4,291.0 L43.0,290.7 L43.6,290.5 L44.2,290.1 L44.8,289.8 L45.4,289.3 L46.0,288.9 L46.6,288.3 L47.2,287.7 L47.8,287.0 L48.4,286.2 L49.0,285.3 L49.6,284.3 L50.2,283.2 L50.8,282.0 L51.4,280.7 L52.0,279.3 L52.6,277.8 L53.2,276.2 L53.8,274.5 L54.4,272.7 L55.0,270.8 L55.6,268.9 L56.2,266.9 L56.8,264.8 L57.4,262.7 L58.0,260.6 L58.6,258.5 L59.2,256.4 L59.8,254.4 L60.5,252.4 L61.1,250.5 L61.7,248.7 L62.3,247.1 L62.9,245.6 L63.5,244.3 L64.1,243.2 L64.7,242.3 L65.3,241.6 L65.9,241.2 L66.5,240.9 L67.1,240.9 L67.7,241.2 L68.3,241.7 L68.9,242.3 L69.5,243.3 L70.1,244.4 L70.7,245.7 L71.3,247.2 L71.9,248.8 L72.5,250.5 L73.1,252.4 L73.7,254.3 L74.3,256.4 L74.9,258.4 L75.5,260.5 L76.1,262.6 L76.7,264.6 L77.3,266.7 L77.9,268.6 L78.5,270.5 L79.1,272.4 L79.7,274.1 L80.3,275.8 L80.9,277.3 L81.5,278.8 L82.1,280.1 L82.7,281.4 L83.3,282.5 L83.9,283.5 L84.5,284.5 L85.1,285.3 L85.7,286.0 L86.3,286.7 L86.9,287.3 L87.5,287.8 L88.1,288.3 L88.7,288.6 L89.3,289.0 L89.9,289.3 L90.5,289.5 L91.1,289.7 L91.7,289.9 L92.3,290.0 L92.9,290.1 L93.5,290.2 L94.1,290.3 L94.7,290.4 L95.3,290.4 L95.9,290.4 L96.5,290.5 L97.1,290.5 L97.7,290.5 L98.3,290.5 L98.9,290.5 L99.5,290.5 L100.1,290.5 L100.7,290.5 L101.3,290.5 L101.9,290.5 L102.5,290.4 L103.1,290.4 L103.7,290.4 L104.3,290.4 L104.9,290.4 L105.5,290.4 L106.1,290.4 L106.7,290.4 L107.3,290.4 L107.9,290.4 L108.5,290.3 L109.1,290.3 L109.7,290.3 L110.3,290.3 L110.9,290.3 L111.5,290.3 L112.1,290.3 L112.7,290.3 L113.3,290.3 L113.9,290.3 L114.5,290.3 L115.1,290.3 L115.7,290.2 L116.3,290.2 L116.9,290.2 L117.5,290.2 L118.1,290.2 L118.7,290.2 L119.3,290.2 L119.9,290.2 L120.5,290.2 L121.1,290.2 L121.7,290.2 L122.3,290.2 L122.9,290.2 L123.5,290.2 L124.1,290.2 L124.7,290.2 L125.3,290.2 L125.9,290.2 L126.5,290.2 L127.1,290.2 L127.7,290.2 L128.3,290.2 L128.9,290.2 L129.5,290.2 L130.1,290.2 L130.7,290.1 L131.3,290.1 L131.9,290.1 L132.5,290.1 L133.1,290.1 L133.7,290.1 L134.3,290.1 L134.9,290.1 L135.5,290.1 L136.2,290.1 L136.8,290.1 L137.4,290.1 L138.0,290.1 L138.6,290.1 L139.2,290.1 L139.8,290.1 L140.4,290.1 L141.0,290.1 L141.6,290.1 L142.2,290.1 L142.8,290.1 L143.4,290.1 L144.0,290.1 L144.6,290.1 L145.2,290.1 L145.8,290.1 L146.4,290.1 L147.0,290.1 L147.6,290.1 L148.2,290.1 L148.8,290.1 L149.4,290.1 L150.0,290.1 L150.6,290.1 L151.2,290.1 L151.8,290.1 L152.4,290.1 L153.0,290.1 L153.6,290.1 L154.2,290.1 L154.8,290.1 L155.4,290.1 L156.0,290.1 L156.6,290.1 L157.2,290.1 L157.8,290.1 L158.4,290.1 L159.0,290.1 L159.6,290.1 L160.2,290.1 L160.8,290.1 L161.4,290.1 L162.0,290.1 L162.6,290.1 L163.2,290.1 L163.8,290.1 L164.4,290.1 L165.0,290.1 L165.6,290.1 L166.2,290.1 L166.8,290.1 L167.4,290.1 L168.0,290.1 L168.6,290.1 L169.2,290.1 L169.8,290.1 L170.4,290.1 L171.0,290.1 L171.6,290.1 L172.2,290.1 L172.8,290.1 L173.4,290.1 L174.0,290.1 L174.0,290.1 L172.5,290.1 L171.0,290.1 L169.5,290.1 L167.9,290.1 L166.4,290.1 L164.9,290.1 L163.4,290.1 L161.9,290.1 L160.4,290.1 L158.9,290.1 L157.3,290.1 L155.8,290.1 L154.3,290.1 L152.8,290.1 L151.3,290.1 L149.8,290.1 L148.3,290.1 L146.7,290.1 L145.2,290.1 L143.7,290.1 L142.2,290.1 L140.7,290.1 L139.2,290.1 L137.7,290.1 L136.2,290.1 L134.6,290.1 L133.1,290.1 L131.6,290.1 L130.1,290.2 L128.6,290.2 L127.1,290.2 L125.6,290.2 L124.0,290.2 L122.5,290.2 L121.0,290.2 L119.5,290.2 L118.0,290.2 L116.5,290.2 L115.0,290.3 L113.4,290.3 L111.9,290.3 L110.4,290.3 L108.9,290.3 L107.4,290.4 L105.9,290.4 L104.4,290.4 L102.8,290.5 L101.3,290.5 L99.8,290.5 L98.3,290.6 L96.8,290.6 L95.3,290.7 L93.8,290.7 L92.2,290.8 L90.7,290.8 L89.2,290.9 L87.7,290.9 L86.2,291.0 L84.7,291.0 L83.2,291.1 L81.6,291.2 L80.1,291.2 L78.6,291.3 L77.1,291.3 L75.6,291.4 L74.1,291.5 L72.6,291.5 L71.0,291.6 L69.5,291.6 L68.0,291.7 L66.5,291.7 L65.0,291.8 L63.5,291.8 L62.0,291.8 L60.5,291.9 L58.9,291.9 L57.4,291.9 L55.9,292.0 L54.4,292.0 L52.9,292.0 L51.4,292.0 L49.9,292.0 L48.3,292.1 L46.8,292.1 L45.3,292.1 L43.8,292.1 L42.3,292.1 L40.8,292.1 L39.3,292.1 L37.7,292.1 L36.2,292.1 L34.7,292.1 L33.2,292.2 L31.7,292.2 L30.2,292.2 L28.7,292.2 L27.1,292.2 L25.6,292.2 L24.1,292.2 L22.6,292.2 Z" fill="url(#gGreen)"/>
<path d="M22.6,292.2 L23.2,292.2 L23.8,292.2 L24.4,292.2 L25.0,292.2 L25.6,292.2 L26.2,292.2 L26.8,292.2 L27.4,292.2 L28.0,292.2 L28.6,292.2 L29.2,292.2 L29.8,292.2 L30.4,292.2 L31.0,292.1 L31.6,292.1 L32.2,292.1 L32.8,292.1 L33.4,292.1 L34.0,292.1 L34.6,292.1 L35.2,292.1 L35.8,292.1 L36.4,292.1 L37.0,292.1 L37.6,292.1 L38.2,292.1 L38.8,292.1 L39.4,292.1 L40.0,292.1 L40.6,292.0 L41.2,292.0 L41.8,292.0 L42.4,292.0 L43.0,292.0 L43.6,292.0 L44.2,291.9 L44.8,291.9 L45.4,291.9 L46.0,291.9 L46.6,291.8 L47.2,291.8 L47.8,291.8 L48.4,291.7 L49.0,291.7 L49.6,291.6 L50.2,291.6 L50.8,291.5 L51.4,291.5 L52.0,291.4 L52.6,291.3 L53.2,291.3 L53.8,291.2 L54.4,291.1 L55.0,291.0 L55.6,290.9 L56.2,290.8 L56.8,290.7 L57.4,290.6 L58.0,290.4 L58.6,290.3 L59.2,290.2 L59.8,290.0 L60.5,289.8 L61.1,289.7 L61.7,289.5 L62.3,289.3 L62.9,289.1 L63.5,288.9 L64.1,288.6 L64.7,288.4 L65.3,288.2 L65.9,287.9 L66.5,287.6 L67.1,287.3 L67.7,287.1 L68.3,286.7 L68.9,286.4 L69.5,286.1 L70.1,285.8 L70.7,285.4 L71.3,285.1 L71.9,284.7 L72.5,284.3 L73.1,283.9 L73.7,283.5 L74.3,283.1 L74.9,282.7 L75.5,282.3 L76.1,281.9 L76.7,281.4 L77.3,281.0 L77.9,280.6 L78.5,280.1 L79.1,279.7 L79.7,279.2 L80.3,278.8 L80.9,278.4 L81.5,278.8 L82.1,280.1 L82.7,281.4 L83.3,282.5 L83.9,283.5 L84.5,284.5 L85.1,285.3 L85.7,286.0 L86.3,286.7 L86.9,287.3 L87.5,287.8 L88.1,288.3 L88.7,288.6 L89.3,289.0 L89.9,289.3 L90.5,289.5 L91.1,289.7 L91.7,289.9 L92.3,290.0 L92.9,290.1 L93.5,290.2 L94.1,290.3 L94.7,290.4 L95.3,290.4 L95.9,290.4 L96.5,290.5 L97.1,290.5 L97.7,290.5 L98.3,290.5 L98.9,290.5 L99.5,290.5 L100.1,290.5 L100.7,290.5 L101.3,290.5 L101.9,290.5 L102.5,290.4 L103.1,290.4 L103.7,290.4 L104.3,290.4 L104.9,290.4 L105.5,290.4 L106.1,290.4 L106.7,290.4 L107.3,290.4 L107.9,290.4 L108.5,290.3 L109.1,290.3 L109.7,290.3 L110.3,290.3 L110.9,290.3 L111.5,290.3 L112.1,290.3 L112.7,290.3 L113.3,290.3 L113.9,290.3 L114.5,290.3 L115.1,290.3 L115.7,290.2 L116.3,290.2 L116.9,290.2 L117.5,290.2 L118.1,290.2 L118.7,290.2 L119.3,290.2 L119.9,290.2 L120.5,290.2 L121.1,290.2 L121.7,290.2 L122.3,290.2 L122.9,290.2 L123.5,290.2 L124.1,290.2 L124.7,290.2 L125.3,290.2 L125.9,290.2 L126.5,290.2 L127.1,290.2 L127.7,290.2 L128.3,290.2 L128.9,290.2 L129.5,290.2 L130.1,290.2 L130.7,290.1 L131.3,290.1 L131.9,290.1 L132.5,290.1 L133.1,290.1 L133.7,290.1 L134.3,290.1 L134.9,290.1 L135.5,290.1 L136.2,290.1 L136.8,290.1 L137.4,290.1 L138.0,290.1 L138.6,290.1 L139.2,290.1 L139.8,290.1 L140.4,290.1 L141.0,290.1 L141.6,290.1 L142.2,290.1 L142.8,290.1 L143.4,290.1 L144.0,290.1 L144.6,290.1 L145.2,290.1 L145.8,290.1 L146.4,290.1 L147.0,290.1 L147.6,290.1 L148.2,290.1 L148.8,290.1 L149.4,290.1 L150.0,290.1 L150.6,290.1 L151.2,290.1 L151.8,290.1 L152.4,290.1 L153.0,290.1 L153.6,290.1 L154.2,290.1 L154.8,290.1 L155.4,290.1 L156.0,290.1 L156.6,290.1 L157.2,290.1 L157.8,290.1 L158.4,290.1 L159.0,290.1 L159.6,290.1 L160.2,290.1 L160.8,290.1 L161.4,290.1 L162.0,290.1 L162.6,290.1 L163.2,290.1 L163.8,290.1 L164.4,290.1 L165.0,290.1 L165.6,290.1 L166.2,290.1 L166.8,290.1 L167.4,290.1 L168.0,290.1 L168.6,290.1 L169.2,290.1 L169.8,290.1 L170.4,290.1 L171.0,290.1 L171.6,290.1 L172.2,290.1 L172.8,290.1 L173.4,290.1 L174.0,290.1 L174.0,290.1 L172.5,290.1 L171.0,290.1 L169.5,290.1 L167.9,290.1 L166.4,290.1 L164.9,290.1 L163.4,290.1 L161.9,290.1 L160.4,290.1 L158.9,290.1 L157.3,290.1 L155.8,290.1 L154.3,290.1 L152.8,290.1 L151.3,290.1 L149.8,290.1 L148.3,290.1 L146.7,290.1 L145.2,290.1 L143.7,290.1 L142.2,290.1 L140.7,290.1 L139.2,290.1 L137.7,290.1 L136.2,290.1 L134.6,290.1 L133.1,290.1 L131.6,290.1 L130.1,290.2 L128.6,290.2 L127.1,290.2 L125.6,290.2 L124.0,290.2 L122.5,290.2 L121.0,290.2 L119.5,290.2 L118.0,290.2 L116.5,290.2 L115.0,290.3 L113.4,290.3 L111.9,290.3 L110.4,290.3 L108.9,290.3 L107.4,290.4 L105.9,290.4 L104.4,290.4 L102.8,290.5 L101.3,290.5 L99.8,290.5 L98.3,290.6 L96.8,290.6 L95.3,290.7 L93.8,290.7 L92.2,290.8 L90.7,290.8 L89.2,290.9 L87.7,290.9 L86.2,291.0 L84.7,291.0 L83.2,291.1 L81.6,291.2 L80.1,291.2 L78.6,291.3 L77.1,291.3 L75.6,291.4 L74.1,291.5 L72.6,291.5 L71.0,291.6 L69.5,291.6 L68.0,291.7 L66.5,291.7 L65.0,291.8 L63.5,291.8 L62.0,291.8 L60.5,291.9 L58.9,291.9 L57.4,291.9 L55.9,292.0 L54.4,292.0 L52.9,292.0 L51.4,292.0 L49.9,292.0 L48.3,292.1 L46.8,292.1 L45.3,292.1 L43.8,292.1 L42.3,292.1 L40.8,292.1 L39.3,292.1 L37.7,292.1 L36.2,292.1 L34.7,292.1 L33.2,292.2 L31.7,292.2 L30.2,292.2 L28.7,292.2 L27.1,292.2 L25.6,292.2 L24.1,292.2 L22.6,292.2 Z" fill="#8a9a30" opacity="0.8"/>
<polyline points="35.0,292.1 35.6,292.0 36.2,292.0 36.8,292.0 37.4,291.9 38.0,291.9 38.6,291.8 39.2,291.7 39.8,291.6 40.4,291.5 41.0,291.4 41.6,291.2 42.2,291.0 42.8,290.8 43.4,290.6 44.0,290.3 44.6,289.9 45.2,289.5 45.8,289.0 46.4,288.5 47.0,287.9 47.6,287.2 48.2,286.4 48.8,285.6 49.4,284.6 50.0,283.6 50.6,282.4 51.2,281.1 51.9,279.8 52.5,278.3 53.1,276.7 53.7,275.0 54.3,273.3 54.9,271.4 55.5,269.5 56.1,267.5 56.7,265.4 57.3,263.3 57.9,261.2 58.5,259.1 59.1,257.0 59.7,254.9 60.3,252.9 60.9,251.0 61.5,249.2 62.1,247.6 62.7,246.0 63.3,244.7 63.9,243.5 64.5,242.5 65.1,241.8 65.7,241.3 66.3,241.0 66.9,240.9 67.5,241.1 68.1,241.5 68.7,242.1 69.3,243.0 69.9,244.1 70.5,245.3 71.1,246.8 71.7,248.4 72.3,250.1 72.9,251.9 73.5,253.9 74.1,255.9 74.7,257.9 75.3,260.0 75.9,262.1 76.5,264.1 77.1,266.2 77.7,268.2 78.3,270.1 78.9,271.9 79.5,273.7 80.1,275.4 80.7,277.0 81.3,278.5 81.9,279.8 82.5,281.1 83.1,282.2 83.8,283.3 84.4,284.3 85.0,285.1 85.6,285.9 86.2,286.6 86.8,287.2 87.4,287.7 88.0,288.2 88.6,288.6 89.2,288.9 89.8,289.2 90.4,289.5 91.0,289.7 91.6,289.8 92.2,290.0 92.8,290.1 93.4,290.2 94.0,290.3 94.6,290.3 95.2,290.4 95.8,290.4 96.4,290.5 97.0,290.5 97.6,290.5 98.2,290.5 98.8,290.5 99.4,290.5 100.0,290.5" fill="none" stroke="#2233ee" stroke-width="1.2" stroke-linejoin="round" stroke-dasharray="2,1.6"/>
<polyline points="22.6,292.2 23.2,292.2 23.8,292.2 24.4,292.2 25.0,292.2 25.6,292.2 26.2,292.2 26.8,292.2 27.4,292.2 28.0,292.2 28.6,292.2 29.2,292.2 29.8,292.2 30.4,292.2 31.0,292.1 31.6,292.1 32.2,292.1 32.8,292.1 33.4,292.1 34.0,292.1 34.6,292.1 35.2,292.1 35.8,292.1 36.4,292.1 37.0,292.1 37.6,292.1 38.2,292.1 38.8,292.1 39.4,292.1 40.0,292.1 40.6,292.0 41.2,292.0 41.8,292.0 42.4,292.0 43.0,292.0 43.6,292.0 44.2,291.9 44.8,291.9 45.4,291.9 46.0,291.9 46.6,291.8 47.2,291.8 47.8,291.8 48.4,291.7 49.0,291.7 49.6,291.6 50.2,291.6 50.8,291.5 51.4,291.5 52.0,291.4 52.6,291.3 53.2,291.3 53.8,291.2 54.4,291.1 55.0,291.0 55.6,290.9 56.2,290.8 56.8,290.7 57.4,290.6 58.0,290.4 58.6,290.3 59.2,290.2 59.8,290.0 60.5,289.8 61.1,289.7 61.7,289.5 62.3,289.3 62.9,289.1 63.5,288.9 64.1,288.6 64.7,288.4 65.3,288.2 65.9,287.9 66.5,287.6 67.1,287.3 67.7,287.1 68.3,286.7 68.9,286.4 69.5,286.1 70.1,285.8 70.7,285.4 71.3,285.1 71.9,284.7 72.5,284.3 73.1,283.9 73.7,283.5 74.3,283.1 74.9,282.7 75.5,282.3 76.1,281.9 76.7,281.4 77.3,281.0 77.9,280.6 78.5,280.1 79.1,279.7 79.7,279.2 80.3,278.8 80.9,278.4 81.5,277.9 82.1,277.5 82.7,277.1 83.3,276.7 83.9,276.3 84.5,275.9 85.1,275.5 85.7,275.1 86.3,274.8 86.9,274.4 87.5,274.1 88.1,273.8 88.7,273.5 89.3,273.3 89.9,273.0 90.5,272.8 91.1,272.6 91.7,272.4 92.3,272.3 92.9,272.1 93.5,272.0 94.1,271.9 94.7,271.9 95.3,271.9 95.9,271.8 96.5,271.9 97.1,271.9 97.7,272.0 98.3,272.1 98.9,272.2 99.5,272.3 100.1,272.5 100.7,272.7 101.3,272.9 101.9,273.1 102.5,273.4 103.1,273.6 103.7,273.9 104.3,274.2 104.9,274.5 105.5,274.9 106.1,275.2 106.7,275.6 107.3,275.9 107.9,276.3 108.5,276.7 109.1,277.1 109.7,277.5 110.3,277.9 110.9,278.3 111.5,278.7 112.1,279.1 112.7,279.5 113.3,279.9 113.9,280.3 114.5,280.7 115.1,281.1 115.7,281.5 116.3,281.9 116.9,282.3 117.5,282.6 118.1,283.0 118.7,283.4 119.3,283.7 119.9,284.0 120.5,284.4 121.1,284.7 121.7,285.0 122.3,285.3 122.9,285.6 123.5,285.8 124.1,286.1 124.7,286.3 125.3,286.6 125.9,286.8 126.5,287.0 127.1,287.2 127.7,287.4 128.3,287.6 128.9,287.8 129.5,288.0 130.1,288.1 130.7,288.3 131.3,288.4 131.9,288.5 132.5,288.7 133.1,288.8 133.7,288.9 134.3,289.0 134.9,289.1 135.5,289.2 136.2,289.3 136.8,289.3 137.4,289.4 138.0,289.5 138.6,289.5 139.2,289.6 139.8,289.6 140.4,289.7 141.0,289.7 141.6,289.8 142.2,289.8 142.8,289.8 143.4,289.8 144.0,289.9 144.6,289.9 145.2,289.9 145.8,289.9 146.4,290.0 147.0,290.0 147.6,290.0 148.2,290.0 148.8,290.0 149.4,290.0 150.0,290.0 150.6,290.0 151.2,290.0 151.8,290.1 152.4,290.1 153.0,290.1 153.6,290.1 154.2,290.1 154.8,290.1 155.4,290.1 156.0,290.1 156.6,290.1 157.2,290.1 157.8,290.1 158.4,290.1 159.0,290.1 159.6,290.1 160.2,290.1 160.8,290.1 161.4,290.1 162.0,290.1 162.6,290.1 163.2,290.1 163.8,290.1 164.4,290.1 165.0,290.1 165.6,290.1 166.2,290.1 166.8,290.1 167.4,290.1 168.0,290.1 168.6,290.1 169.2,290.1 169.8,290.1 170.4,290.1 171.0,290.1 171.6,290.1 172.2,290.1 172.8,290.1 173.4,290.1 174.0,290.1" fill="none" stroke="#2233ee" stroke-width="1.2" stroke-linejoin="round" stroke-dasharray="2,1.6"/>
<polyline points="22.6,292.2 23.2,292.2 23.8,292.2 24.4,292.2 25.0,292.2 25.6,292.2 26.2,292.2 26.8,292.2 27.4,292.2 28.0,292.2 28.6,292.2 29.2,292.2 29.8,292.1 30.4,292.1 31.0,292.1 31.6,292.1 32.2,292.1 32.8,292.1 33.4,292.1 34.0,292.1 34.6,292.1 35.2,292.0 35.8,292.0 36.4,292.0 37.0,291.9 37.6,291.9 38.2,291.8 38.8,291.7 39.4,291.6 40.0,291.5 40.6,291.4 41.2,291.3 41.8,291.1 42.4,290.9 43.0,290.6 43.6,290.3 44.2,290.0 44.8,289.6 45.4,289.1 46.0,288.6 46.6,288.1 47.2,287.4 47.8,286.7 48.4,285.8 49.0,284.9 49.6,283.9 50.2,282.8 50.8,281.5 51.4,280.2 52.0,278.7 52.6,277.2 53.2,275.5 53.8,273.7 54.4,271.8 55.0,269.9 55.6,267.8 56.2,265.7 56.8,263.6 57.4,261.3 58.0,259.1 58.6,256.9 59.2,254.7 59.8,252.5 60.5,250.4 61.1,248.3 61.7,246.4 62.3,244.6 62.9,242.9 63.5,241.4 64.1,240.1 64.7,239.0 65.3,238.0 65.9,237.3 66.5,236.9 67.1,236.6 67.7,236.6 68.3,236.7 68.9,237.1 69.5,237.7 70.1,238.5 70.7,239.5 71.3,240.6 71.9,241.9 72.5,243.3 73.1,244.8 73.7,246.4 74.3,248.0 74.9,249.7 75.5,251.4 76.1,253.0 76.7,254.7 77.3,256.3 77.9,257.9 78.5,259.4 79.1,260.8 79.7,262.1 80.3,263.3 80.9,264.5 81.5,265.5 82.1,266.5 82.7,267.3 83.3,268.1 83.9,268.7 84.5,269.3 85.1,269.8 85.7,270.2 86.3,270.5 86.9,270.8 87.5,271.0 88.1,271.2 88.7,271.3 89.3,271.4 89.9,271.4 90.5,271.5 91.1,271.5 91.7,271.5 92.3,271.5 92.9,271.5 93.5,271.5 94.1,271.5 94.7,271.6 95.3,271.6 95.9,271.6 96.5,271.7 97.1,271.8 97.7,271.9 98.3,272.0 98.9,272.1 99.5,272.3 100.1,272.5 100.7,272.7 101.3,272.9 101.9,273.1 102.5,273.4 103.1,273.6 103.7,273.9 104.3,274.2 104.9,274.5 105.5,274.9 106.1,275.2 106.7,275.6 107.3,275.9 107.9,276.3 108.5,276.7 109.1,277.1 109.7,277.5 110.3,277.9 110.9,278.3 111.5,278.7 112.1,279.1 112.7,279.5 113.3,279.9 113.9,280.3 114.5,280.7 115.1,281.1 115.7,281.5 116.3,281.9 116.9,282.3 117.5,282.6 118.1,283.0 118.7,283.4 119.3,283.7 119.9,284.0 120.5,284.4 121.1,284.7 121.7,285.0 122.3,285.3 122.9,285.6 123.5,285.8 124.1,286.1 124.7,286.3 125.3,286.6 125.9,286.8 126.5,287.0 127.1,287.2 127.7,287.4 128.3,287.6 128.9,287.8 129.5,288.0 130.1,288.1 130.7,288.3 131.3,288.4 131.9,288.5 132.5,288.7 133.1,288.8 133.7,288.9 134.3,289.0 134.9,289.1 135.5,289.2 136.2,289.3 136.8,289.3 137.4,289.4 138.0,289.5 138.6,289.5 139.2,289.6 139.8,289.6 140.4,289.7 141.0,289.7 141.6,289.8 142.2,289.8 142.8,289.8 143.4,289.8 144.0,289.9 144.6,289.9 145.2,289.9 145.8,289.9 146.4,290.0 147.0,290.0 147.6,290.0 148.2,290.0 148.8,290.0 149.4,290.0 150.0,290.0 150.6,290.0 151.2,290.0 151.8,290.1 152.4,290.1 153.0,290.1 153.6,290.1 154.2,290.1 154.8,290.1 155.4,290.1 156.0,290.1 156.6,290.1 157.2,290.1 157.8,290.1 158.4,290.1 159.0,290.1 159.6,290.1 160.2,290.1 160.8,290.1 161.4,290.1 162.0,290.1 162.6,290.1 163.2,290.1 163.8,290.1 164.4,290.1 165.0,290.1 165.6,290.1 166.2,290.1 166.8,290.1 167.4,290.1 168.0,290.1 168.6,290.1 169.2,290.1 169.8,290.1 170.4,290.1 171.0,290.1 171.6,290.1 172.2,290.1 172.8,290.1 173.4,290.1 174.0,290.1" fill="none" stroke="#1a1a1a" stroke-width="1.4" stroke-linejoin="round" />
</g>
<line x1="63.4" y1="173" x2="63.4" y2="295" stroke="#111" stroke-width="1.1" stroke-dasharray="1.6,1.6"/>
<line x1="63.6" y1="182" x2="77" y2="177.4" stroke="#111" stroke-width="0.9" marker-end="url(#arr)"/>
<line x1="94.5" y1="188.5" x2="110" y2="180.3" stroke="#111" stroke-width="0.9" marker-end="url(#arr)"/>
<text x="77.5" y="179.0" font-size="8.2" text-anchor="start" fill="#111" textLength="15.2" lengthAdjust="spacingAndGlyphs" >Ti-O</text>
<text x="111.6" y="180.8" font-size="8.2" text-anchor="start" fill="#111" textLength="20.4" lengthAdjust="spacingAndGlyphs" >Ti-OH</text>
<text x="147.3" y="179.7" font-size="10.5" text-anchor="start" fill="#111" textLength="19" lengthAdjust="spacingAndGlyphs" >O 1s</text>
<text x="141" y="216.5" font-size="8" text-anchor="start" fill="#111" textLength="23.8" lengthAdjust="spacingAndGlyphs" >AT-60</text>
<text x="139" y="280.5" font-size="8" text-anchor="start" fill="#111" textLength="30.4" lengthAdjust="spacingAndGlyphs" >Ti mesh</text>
<rect x="22.6" y="164" width="151.4" height="131.3" fill="none" stroke="#2a2a2a" stroke-width="1.3"/>
<line x1="36.50" y1="295.3" x2="36.50" y2="292.3" stroke="#3a3a3a" stroke-width="1"/>
<line x1="69.88" y1="295.3" x2="69.88" y2="292.3" stroke="#3a3a3a" stroke-width="1"/>
<line x1="103.26" y1="295.3" x2="103.26" y2="292.3" stroke="#3a3a3a" stroke-width="1"/>
<line x1="136.64" y1="295.3" x2="136.64" y2="292.3" stroke="#3a3a3a" stroke-width="1"/>
<line x1="170.02" y1="295.3" x2="170.02" y2="292.3" stroke="#3a3a3a" stroke-width="1"/>
<text x="36.5" y="303.6" font-size="8" text-anchor="middle" fill="#111" textLength="11.2" lengthAdjust="spacingAndGlyphs" style="stroke-width:0.15px">528</text>
<text x="69.88" y="303.6" font-size="8" text-anchor="middle" fill="#111" textLength="11.2" lengthAdjust="spacingAndGlyphs" style="stroke-width:0.15px">530</text>
<text x="103.26" y="303.6" font-size="8" text-anchor="middle" fill="#111" textLength="11.2" lengthAdjust="spacingAndGlyphs" style="stroke-width:0.15px">532</text>
<text x="136.64" y="303.6" font-size="8" text-anchor="middle" fill="#111" textLength="11.2" lengthAdjust="spacingAndGlyphs" style="stroke-width:0.15px">534</text>
<text x="170.02" y="303.6" font-size="8" text-anchor="middle" fill="#111" textLength="11.2" lengthAdjust="spacingAndGlyphs" style="stroke-width:0.15px">536</text>
<rect x="3.3" y="163.5" width="15.0" height="14.0" fill="#f50f0f"/>
<text x="11.4" y="174.6" font-size="12.6" text-anchor="middle" fill="#fff" textLength="8.0" lengthAdjust="spacingAndGlyphs" style="stroke:none">D</text>
<text x="0" y="0" font-size="12" text-anchor="middle" fill="#111" textLength="72.79999999999998" lengthAdjust="spacingAndGlyphs" transform="translate(9.8,230.0) rotate(-90)" dominant-baseline="central">Intensity (a.u.)</text>
<text x="41" y="318.4" font-size="13.2" text-anchor="start" fill="#111" textLength="113" lengthAdjust="spacingAndGlyphs" >Binding energy (eV)</text>
<polyline points="203.2,193.6 203.8,193.6 204.4,193.6 205.0,193.6 205.6,193.6 206.2,193.6 206.8,193.6 207.4,193.6 208.0,193.6 208.6,193.6 209.2,193.6 209.8,193.6 210.4,193.6 211.0,193.6 211.6,193.6 212.2,193.6 212.8,193.6 213.4,193.6 214.0,193.6 214.6,193.6 215.2,193.6 215.8,193.6 216.4,193.6 217.0,193.6 217.6,193.6 218.2,193.6 218.9,193.6 219.5,193.6 220.1,193.6 220.7,193.6 221.3,193.6 221.9,193.6 222.5,193.6 223.1,193.6 223.7,193.6 224.3,193.6 224.9,193.6 225.5,193.6 226.1,193.6 226.7,193.6 227.3,193.6 227.9,193.6 228.5,193.6 229.1,193.6 229.7,193.6 230.3,193.6 230.9,193.6 231.5,193.6 232.1,193.6 232.7,193.6 233.3,193.6 233.9,193.6 234.5,193.6 235.1,193.6 235.7,193.6 236.3,193.6 236.9,193.6 237.5,193.6 238.1,193.6 238.7,193.6 239.3,193.6 239.9,193.6 240.5,193.6 241.1,193.6 241.7,193.6 242.3,193.6 242.9,193.6 243.5,193.6 244.1,193.6 244.7,193.6 245.3,193.6 245.9,193.6 246.5,193.6 247.1,193.6 247.7,193.6 248.3,193.6 248.9,193.6 249.6,193.6 250.2,193.6 250.8,193.5 251.4,193.5 252.0,193.5 252.6,193.4 253.2,193.4 253.8,193.3 254.4,193.2 255.0,193.1 255.6,192.9 256.2,192.7 256.8,192.4 257.4,192.1 258.0,191.7 258.6,191.2 259.2,190.6 259.8,189.9 260.4,189.2 261.0,188.3 261.6,187.3 262.2,186.3 262.8,185.1 263.4,183.9 264.0,182.7 264.6,181.4 265.2,180.2 265.8,178.9 266.4,177.8 267.0,176.8 267.6,175.9 268.2,175.2 268.8,174.6 269.4,174.3 270.0,174.2 270.6,174.3 271.2,174.7 271.8,175.2 272.4,175.9 273.0,176.8 273.6,177.9 274.2,179.0 274.8,180.2 275.4,181.5 276.0,182.7 276.6,184.0 277.2,185.2 277.8,186.3 278.4,187.4 279.0,188.3 279.6,189.2 280.2,190.0 280.9,190.6 281.5,191.2 282.1,191.7 282.7,192.1 283.3,192.4 283.9,192.7 284.5,192.9 285.1,193.1 285.7,193.2 286.3,193.3 286.9,193.4 287.5,193.5 288.1,193.5 288.7,193.5 289.3,193.5 289.9,193.6 290.5,193.6 291.1,193.6 291.7,193.6 292.3,193.6 292.9,193.6 293.5,193.6 294.1,193.6 294.7,193.6 295.3,193.6 295.9,193.6 296.5,193.6 297.1,193.6 297.7,193.6 298.3,193.6 298.9,193.6 299.5,193.6 300.1,193.6 300.7,193.6 301.3,193.6 301.9,193.6 302.5,193.6 303.1,193.6 303.7,193.6 304.3,193.6 304.9,193.6 305.5,193.6 306.1,193.6 306.7,193.6 307.3,193.6 307.9,193.6 308.5,193.6 309.1,193.6 309.7,193.6 310.3,193.6 310.9,193.6 311.6,193.6 312.2,193.6 312.8,193.6 313.4,193.6 314.0,193.6 314.6,193.6 315.2,193.6 315.8,193.6 316.4,193.6 317.0,193.6 317.6,193.6 318.2,193.6 318.8,193.6 319.4,193.6 320.0,193.6 320.6,193.6 321.2,193.6 321.8,193.6 322.4,193.6 323.0,193.6 323.6,193.6 324.2,193.6 324.8,193.6 325.4,193.6 326.0,193.6 326.6,193.6 327.2,193.6 327.8,193.6 328.4,193.6 329.0,193.6 329.6,193.6 330.2,193.6 330.8,193.6 331.4,193.6 332.0,193.6 332.6,193.6 333.2,193.6 333.8,193.6 334.4,193.6 335.0,193.6 335.6,193.6 336.2,193.6 336.8,193.6 337.4,193.6 338.0,193.6 338.6,193.6 339.2,193.6 339.8,193.6 340.4,193.6 341.0,193.6 341.6,193.6 342.3,193.6 342.9,193.6 343.5,193.6 344.1,193.6 344.7,193.6 345.3,193.6 345.9,193.6 346.5,193.6 347.1,193.6 347.7,193.6 348.3,193.6 348.9,193.6 349.5,193.6 350.1,193.6 350.7,193.6 351.3,193.6 351.9,193.6 352.5,193.6 353.1,193.6 353.7,193.6 354.3,193.6 354.9,193.6 355.5,193.6 356.1,193.6 356.7,193.6 357.3,193.6" fill="none" stroke="#333333" stroke-width="1.2" stroke-linejoin="round" />
<polyline points="203.2,193.6 203.8,193.6 204.4,193.6 205.0,193.6 205.6,193.6 206.2,193.6 206.8,193.6 207.4,193.6 208.0,193.6 208.6,193.6 209.2,193.6 209.8,193.6 210.4,193.6 211.0,193.6 211.6,193.6 212.2,193.6 212.8,193.6 213.4,193.6 214.0,193.6 214.6,193.6 215.2,193.6 215.8,193.6 216.4,193.6 217.0,193.6 217.6,193.6 218.2,193.6 218.9,193.6 219.5,193.6 220.1,193.6 220.7,193.6 221.3,193.6 221.9,193.5 222.5,193.5 223.1,193.5 223.7,193.5 224.3,193.5 224.9,193.5 225.5,193.5 226.1,193.5 226.7,193.5 227.3,193.5 227.9,193.5 228.5,193.5 229.1,193.5 229.7,193.4 230.3,193.4 230.9,193.4 231.5,193.4 232.1,193.4 232.7,193.4 233.3,193.3 233.9,193.3 234.5,193.3 235.1,193.3 235.7,193.3 236.3,193.2 236.9,193.2 237.5,193.2 238.1,193.1 238.7,193.1 239.3,193.1 239.9,193.0 240.5,193.0 241.1,193.0 241.7,192.9 242.3,192.9 242.9,192.8 243.5,192.8 244.1,192.7 244.7,192.7 245.3,192.6 245.9,192.6 246.5,192.5 247.1,192.4 247.7,192.4 248.3,192.3 248.9,192.2 249.6,192.1 250.2,192.1 250.8,192.0 251.4,191.9 252.0,191.8 252.6,191.7 253.2,191.6 253.8,191.5 254.4,191.4 255.0,191.3 255.6,191.2 256.2,191.1 256.8,191.0 257.4,190.9 258.0,190.7 258.6,190.6 259.2,190.5 259.8,190.4 260.4,190.2 261.0,190.1 261.6,190.0 262.2,189.8 262.8,189.7 263.4,189.6 264.0,189.4 264.6,189.3 265.2,189.1 265.8,189.0 266.4,188.8 267.0,188.7 267.6,188.5 268.2,188.4 268.8,188.2 269.4,188.1 270.0,188.0 270.6,187.8 271.2,187.7 271.8,187.5 272.4,187.4 273.0,187.2 273.6,187.1 274.2,187.0 274.8,186.8 275.4,186.7 276.0,186.6 276.6,186.5 277.2,186.3 277.8,186.2 278.4,186.1 279.0,186.0 279.6,185.9 280.2,185.8 280.9,185.7 281.5,185.6 282.1,185.6 282.7,185.5 283.3,185.4 283.9,185.4 284.5,185.3 285.1,185.2 285.7,185.2 286.3,185.2 286.9,185.1 287.5,185.1 288.1,185.1 288.7,185.1 289.3,185.1 289.9,185.1 290.5,185.1 291.1,185.2 291.7,185.2 292.3,185.3 292.9,185.4 293.5,185.4 294.1,185.5 294.7,185.7 295.3,185.8 295.9,185.9 296.5,186.0 297.1,186.2 297.7,186.3 298.3,186.5 298.9,186.7 299.5,186.8 300.1,187.0 300.7,187.2 301.3,187.4 301.9,187.6 302.5,187.8 303.1,188.0 303.7,188.2 304.3,188.4 304.9,188.6 305.5,188.8 306.1,189.0 306.7,189.2 307.3,189.4 307.9,189.6 308.5,189.8 309.1,189.9 309.7,190.1 310.3,190.3 310.9,190.5 311.6,190.7 312.2,190.8 312.8,191.0 313.4,191.1 314.0,191.3 314.6,191.4 315.2,191.6 315.8,191.7 316.4,191.8 317.0,191.9 317.6,192.0 318.2,192.2 318.8,192.3 319.4,192.4 320.0,192.4 320.6,192.5 321.2,192.6 321.8,192.7 322.4,192.8 323.0,192.8 323.6,192.9 324.2,193.0 324.8,193.0 325.4,193.1 326.0,193.1 326.6,193.2 327.2,193.2 327.8,193.2 328.4,193.3 329.0,193.3 329.6,193.3 330.2,193.4 330.8,193.4 331.4,193.4 332.0,193.4 332.6,193.4 333.2,193.5 333.8,193.5 334.4,193.5 335.0,193.5 335.6,193.5 336.2,193.5 336.8,193.5 337.4,193.5 338.0,193.5 338.6,193.5 339.2,193.6 339.8,193.6 340.4,193.6 341.0,193.6 341.6,193.6 342.3,193.6 342.9,193.6 343.5,193.6 344.1,193.6 344.7,193.6 345.3,193.6 345.9,193.6 346.5,193.6 347.1,193.6 347.7,193.6 348.3,193.6 348.9,193.6 349.5,193.6 350.1,193.6 350.7,193.6 351.3,193.6 351.9,193.6 352.5,193.6 353.1,193.6 353.7,193.6 354.3,193.6 354.9,193.6 355.5,193.6 356.1,193.6 356.7,193.6 357.3,193.6" fill="none" stroke="#f03030" stroke-width="1.2" stroke-linejoin="round" />
<polyline points="203.2,193.6 203.8,193.6 204.4,193.6 205.0,193.6 205.6,193.6 206.2,193.6 206.8,193.6 207.4,193.6 208.0,193.6 208.6,193.6 209.2,193.6 209.8,193.6 210.4,193.6 211.0,193.6 211.6,193.6 212.2,193.6 212.8,193.6 213.4,193.6 214.0,193.6 214.6,193.6 215.2,193.6 215.8,193.6 216.4,193.6 217.0,193.6 217.6,193.6 218.2,193.6 218.9,193.6 219.5,193.6 220.1,193.6 220.7,193.6 221.3,193.6 221.9,193.5 222.5,193.5 223.1,193.5 223.7,193.5 224.3,193.5 224.9,193.5 225.5,193.5 226.1,193.5 226.7,193.5 227.3,193.5 227.9,193.5 228.5,193.5 229.1,193.5 229.7,193.4 230.3,193.4 230.9,193.4 231.5,193.4 232.1,193.4 232.7,193.4 233.3,193.3 233.9,193.3 234.5,193.3 235.1,193.3 235.7,193.3 236.3,193.2 236.9,193.2 237.5,193.2 238.1,193.1 238.7,193.1 239.3,193.1 239.9,193.0 240.5,193.0 241.1,193.0 241.7,192.9 242.3,192.9 242.9,192.8 243.5,192.8 244.1,192.7 244.7,192.7 245.3,192.6 245.9,192.6 246.5,192.5 247.1,192.4 247.7,192.4 248.3,192.3 248.9,192.2 249.6,192.1 250.2,192.0 250.8,191.9 251.4,191.8 252.0,191.7 252.6,191.6 253.2,191.4 253.8,191.2 254.4,191.0 255.0,190.8 255.6,190.5 256.2,190.2 256.8,189.8 257.4,189.3 258.0,188.8 258.6,188.2 259.2,187.5 259.8,186.7 260.4,185.8 261.0,184.8 261.6,183.7 262.2,182.5 262.8,181.2 263.4,179.9 264.0,178.5 264.6,177.1 265.2,175.7 265.8,174.3 266.4,173.0 267.0,171.9 267.6,170.8 268.2,170.0 268.8,169.3 269.4,168.8 270.0,168.6 270.6,168.5 271.2,168.7 271.8,169.1 272.4,169.7 273.0,170.5 273.6,171.4 274.2,172.4 274.8,173.5 275.4,174.6 276.0,175.7 276.6,176.8 277.2,177.9 277.8,178.9 278.4,179.9 279.0,180.7 279.6,181.5 280.2,182.2 280.9,182.7 281.5,183.2 282.1,183.6 282.7,184.0 283.3,184.2 283.9,184.4 284.5,184.6 285.1,184.7 285.7,184.8 286.3,184.9 286.9,184.9 287.5,185.0 288.1,185.0 288.7,185.0 289.3,185.0 289.9,185.1 290.5,185.1 291.1,185.2 291.7,185.2 292.3,185.3 292.9,185.4 293.5,185.4 294.1,185.5 294.7,185.7 295.3,185.8 295.9,185.9 296.5,186.0 297.1,186.2 297.7,186.3 298.3,186.5 298.9,186.7 299.5,186.8 300.1,187.0 300.7,187.2 301.3,187.4 301.9,187.6 302.5,187.8 303.1,188.0 303.7,188.2 304.3,188.4 304.9,188.6 305.5,188.8 306.1,189.0 306.7,189.2 307.3,189.4 307.9,189.6 308.5,189.8 309.1,189.9 309.7,190.1 310.3,190.3 310.9,190.5 311.6,190.7 312.2,190.8 312.8,191.0 313.4,191.1 314.0,191.3 314.6,191.4 315.2,191.6 315.8,191.7 316.4,191.8 317.0,191.9 317.6,192.0 318.2,192.2 318.8,192.3 319.4,192.4 320.0,192.4 320.6,192.5 321.2,192.6 321.8,192.7 322.4,192.8 323.0,192.8 323.6,192.9 324.2,193.0 324.8,193.0 325.4,193.1 326.0,193.1 326.6,193.2 327.2,193.2 327.8,193.2 328.4,193.3 329.0,193.3 329.6,193.3 330.2,193.4 330.8,193.4 331.4,193.4 332.0,193.4 332.6,193.4 333.2,193.5 333.8,193.5 334.4,193.5 335.0,193.5 335.6,193.5 336.2,193.5 336.8,193.5 337.4,193.5 338.0,193.5 338.6,193.5 339.2,193.6 339.8,193.6 340.4,193.6 341.0,193.6 341.6,193.6 342.3,193.6 342.9,193.6 343.5,193.6 344.1,193.6 344.7,193.6 345.3,193.6 345.9,193.6 346.5,193.6 347.1,193.6 347.7,193.6 348.3,193.6 348.9,193.6 349.5,193.6 350.1,193.6 350.7,193.6 351.3,193.6 351.9,193.6 352.5,193.6 353.1,193.6 353.7,193.6 354.3,193.6 354.9,193.6 355.5,193.6 356.1,193.6 356.7,193.6 357.3,193.6" fill="none" stroke="#3a3aee" stroke-width="1.3" stroke-linejoin="round" />
<line x1="203.2" y1="195.3" x2="357.3" y2="195.3" stroke="#8a8a8a" stroke-width="1.2"/>
<polyline points="203.2,225.9 203.8,225.9 204.4,225.9 205.0,225.9 205.6,225.9 206.2,225.9 206.8,225.9 207.4,225.9 208.0,225.9 208.6,225.9 209.2,225.9 209.8,225.9 210.4,225.9 211.0,225.9 211.6,225.9 212.2,225.9 212.8,225.9 213.4,225.9 214.0,225.9 214.6,225.9 215.2,225.9 215.8,225.9 216.4,225.9 217.0,225.9 217.6,225.9 218.2,225.9 218.9,225.9 219.5,225.9 220.1,225.9 220.7,225.9 221.3,225.9 221.9,225.9 222.5,225.9 223.1,225.9 223.7,225.9 224.3,225.9 224.9,225.9 225.5,225.9 226.1,225.9 226.7,225.9 227.3,225.9 227.9,225.9 228.5,225.9 229.1,225.9 229.7,225.9 230.3,225.9 230.9,225.9 231.5,225.9 232.1,225.9 232.7,225.9 233.3,225.9 233.9,225.9 234.5,225.9 235.1,225.9 235.7,225.9 236.3,225.9 236.9,225.9 237.5,225.9 238.1,225.9 238.7,225.9 239.3,225.9 239.9,225.9 240.5,225.9 241.1,225.9 241.7,225.9 242.3,225.9 242.9,225.9 243.5,225.9 244.1,225.9 244.7,225.9 245.3,225.9 245.9,225.9 246.5,225.9 247.1,225.9 247.7,225.9 248.3,225.9 248.9,225.9 249.6,225.9 250.2,225.9 250.8,225.9 251.4,225.9 252.0,225.9 252.6,225.8 253.2,225.8 253.8,225.8 254.4,225.8 255.0,225.7 255.6,225.6 256.2,225.5 256.8,225.4 257.4,225.2 258.0,225.0 258.6,224.7 259.2,224.4 259.8,224.0 260.4,223.5 261.0,222.9 261.6,222.2 262.2,221.4 262.8,220.5 263.4,219.5 264.0,218.3 264.6,217.1 265.2,215.9 265.8,214.5 266.4,213.2 267.0,211.8 267.6,210.5 268.2,209.2 268.8,208.0 269.4,207.0 270.0,206.2 270.6,205.5 271.2,205.1 271.8,204.9 272.4,205.0 273.0,205.2 273.6,205.8 274.2,206.5 274.8,207.4 275.4,208.5 276.0,209.7 276.6,211.0 277.2,212.3 277.8,213.7 278.4,215.1 279.0,216.4 279.6,217.6 280.2,218.8 280.9,219.9 281.5,220.8 282.1,221.7 282.7,222.5 283.3,223.1 283.9,223.7 284.5,224.1 285.1,224.5 285.7,224.8 286.3,225.1 286.9,225.3 287.5,225.4 288.1,225.6 288.7,225.7 289.3,225.7 289.9,225.8 290.5,225.8 291.1,225.8 291.7,225.9 292.3,225.9 292.9,225.9 293.5,225.9 294.1,225.9 294.7,225.9 295.3,225.9 295.9,225.9 296.5,225.9 297.1,225.9 297.7,225.9 298.3,225.9 298.9,225.9 299.5,225.9 300.1,225.9 300.7,225.9 301.3,225.9 301.9,225.9 302.5,225.9 303.1,225.9 303.7,225.9 304.3,225.9 304.9,225.9 305.5,225.9 306.1,225.9 306.7,225.9 307.3,225.9 307.9,225.9 308.5,225.9 309.1,225.9 309.7,225.9 310.3,225.9 310.9,225.9 311.6,225.9 312.2,225.9 312.8,225.9 313.4,225.9 314.0,225.9 314.6,225.9 315.2,225.9 315.8,225.9 316.4,225.9 317.0,225.9 317.6,225.9 318.2,225.9 318.8,225.9 319.4,225.9 320.0,225.9 320.6,225.9 321.2,225.9 321.8,225.9 322.4,225.9 323.0,225.9 323.6,225.9 324.2,225.9 324.8,225.9 325.4,225.9 326.0,225.9 326.6,225.9 327.2,225.9 327.8,225.9 328.4,225.9 329.0,225.9 329.6,225.9 330.2,225.9 330.8,225.9 331.4,225.9 332.0,225.9 332.6,225.9 333.2,225.9 333.8,225.9 334.4,225.9 335.0,225.9 335.6,225.9 336.2,225.9 336.8,225.9 337.4,225.9 338.0,225.9 338.6,225.9 339.2,225.9 339.8,225.9 340.4,225.9 341.0,225.9 341.6,225.9 342.3,225.9 342.9,225.9 343.5,225.9 344.1,225.9 344.7,225.9 345.3,225.9 345.9,225.9 346.5,225.9 347.1,225.9 347.7,225.9 348.3,225.9 348.9,225.9 349.5,225.9 350.1,225.9 350.7,225.9 351.3,225.9 351.9,225.9 352.5,225.9 353.1,225.9 353.7,225.9 354.3,225.9 354.9,225.9 355.5,225.9 356.1,225.9 356.7,225.9 357.3,225.9" fill="none" stroke="#f03030" stroke-width="1.2" stroke-linejoin="round" />
<polyline points="203.2,225.9 203.8,225.9 204.4,225.9 205.0,225.9 205.6,225.9 206.2,225.9 206.8,225.9 207.4,225.9 208.0,225.9 208.6,225.9 209.2,225.9 209.8,225.9 210.4,225.9 211.0,225.9 211.6,225.9 212.2,225.9 212.8,225.9 213.4,225.9 214.0,225.9 214.6,225.9 215.2,225.9 215.8,225.9 216.4,225.9 217.0,225.9 217.6,225.9 218.2,225.9 218.9,225.9 219.5,225.9 220.1,225.9 220.7,225.9 221.3,225.9 221.9,225.9 222.5,225.9 223.1,225.9 223.7,225.8 224.3,225.8 224.9,225.8 225.5,225.8 226.1,225.8 226.7,225.8 227.3,225.8 227.9,225.8 228.5,225.8 229.1,225.8 229.7,225.8 230.3,225.8 230.9,225.7 231.5,225.7 232.1,225.7 232.7,225.7 233.3,225.7 233.9,225.7 234.5,225.6 235.1,225.6 235.7,225.6 236.3,225.6 236.9,225.5 237.5,225.5 238.1,225.5 238.7,225.5 239.3,225.4 239.9,225.4 240.5,225.3 241.1,225.3 241.7,225.3 242.3,225.2 242.9,225.2 243.5,225.1 244.1,225.1 244.7,225.0 245.3,224.9 245.9,224.9 246.5,224.8 247.1,224.7 247.7,224.6 248.3,224.6 248.9,224.5 249.6,224.4 250.2,224.3 250.8,224.2 251.4,224.1 252.0,224.0 252.6,223.9 253.2,223.8 253.8,223.7 254.4,223.6 255.0,223.4 255.6,223.3 256.2,223.2 256.8,223.0 257.4,222.9 258.0,222.7 258.6,222.6 259.2,222.4 259.8,222.3 260.4,222.1 261.0,222.0 261.6,221.8 262.2,221.6 262.8,221.5 263.4,221.3 264.0,221.1 264.6,220.9 265.2,220.7 265.8,220.5 266.4,220.4 267.0,220.2 267.6,220.0 268.2,219.8 268.8,219.6 269.4,219.4 270.0,219.2 270.6,219.0 271.2,218.8 271.8,218.6 272.4,218.5 273.0,218.3 273.6,218.1 274.2,217.9 274.8,217.7 275.4,217.6 276.0,217.4 276.6,217.2 277.2,217.1 277.8,216.9 278.4,216.8 279.0,216.6 279.6,216.5 280.2,216.4 280.9,216.2 281.5,216.1 282.1,216.0 282.7,215.9 283.3,215.8 283.9,215.7 284.5,215.7 285.1,215.6 285.7,215.5 286.3,215.5 286.9,215.5 287.5,215.4 288.1,215.4 288.7,215.4 289.3,215.4 289.9,215.4 290.5,215.4 291.1,215.5 291.7,215.6 292.3,215.6 292.9,215.7 293.5,215.8 294.1,216.0 294.7,216.1 295.3,216.2 295.9,216.4 296.5,216.6 297.1,216.7 297.7,216.9 298.3,217.1 298.9,217.3 299.5,217.6 300.1,217.8 300.7,218.0 301.3,218.2 301.9,218.5 302.5,218.7 303.1,219.0 303.7,219.2 304.3,219.5 304.9,219.7 305.5,220.0 306.1,220.2 306.7,220.4 307.3,220.7 307.9,220.9 308.5,221.2 309.1,221.4 309.7,221.6 310.3,221.8 310.9,222.0 311.6,222.3 312.2,222.5 312.8,222.7 313.4,222.8 314.0,223.0 314.6,223.2 315.2,223.4 315.8,223.5 316.4,223.7 317.0,223.8 317.6,224.0 318.2,224.1 318.8,224.2 319.4,224.4 320.0,224.5 320.6,224.6 321.2,224.7 321.8,224.8 322.4,224.9 323.0,225.0 323.6,225.0 324.2,225.1 324.8,225.2 325.4,225.2 326.0,225.3 326.6,225.3 327.2,225.4 327.8,225.4 328.4,225.5 329.0,225.5 329.6,225.6 330.2,225.6 330.8,225.6 331.4,225.7 332.0,225.7 332.6,225.7 333.2,225.7 333.8,225.7 334.4,225.8 335.0,225.8 335.6,225.8 336.2,225.8 336.8,225.8 337.4,225.8 338.0,225.8 338.6,225.8 339.2,225.8 339.8,225.9 340.4,225.9 341.0,225.9 341.6,225.9 342.3,225.9 342.9,225.9 343.5,225.9 344.1,225.9 344.7,225.9 345.3,225.9 345.9,225.9 346.5,225.9 347.1,225.9 347.7,225.9 348.3,225.9 348.9,225.9 349.5,225.9 350.1,225.9 350.7,225.9 351.3,225.9 351.9,225.9 352.5,225.9 353.1,225.9 353.7,225.9 354.3,225.9 354.9,225.9 355.5,225.9 356.1,225.9 356.7,225.9 357.3,225.9" fill="none" stroke="#333333" stroke-width="1.2" stroke-linejoin="round" />
<polyline points="203.2,225.9 203.8,225.9 204.4,225.9 205.0,225.9 205.6,225.9 206.2,225.9 206.8,225.9 207.4,225.9 208.0,225.9 208.6,225.9 209.2,225.9 209.8,225.9 210.4,225.9 211.0,225.9 211.6,225.9 212.2,225.9 212.8,225.9 213.4,225.9 214.0,225.9 214.6,225.9 215.2,225.9 215.8,225.9 216.4,225.9 217.0,225.9 217.6,225.9 218.2,225.9 218.9,225.9 219.5,225.9 220.1,225.9 220.7,225.9 221.3,225.9 221.9,225.9 222.5,225.9 223.1,225.9 223.7,225.8 224.3,225.8 224.9,225.8 225.5,225.8 226.1,225.8 226.7,225.8 227.3,225.8 227.9,225.8 228.5,225.8 229.1,225.8 229.7,225.8 230.3,225.8 230.9,225.7 231.5,225.7 232.1,225.7 232.7,225.7 233.3,225.7 233.9,225.7 234.5,225.6 235.1,225.6 235.7,225.6 236.3,225.6 236.9,225.5 237.5,225.5 238.1,225.5 238.7,225.5 239.3,225.4 239.9,225.4 240.5,225.3 241.1,225.3 241.7,225.3 242.3,225.2 242.9,225.2 243.5,225.1 244.1,225.1 244.7,225.0 245.3,224.9 245.9,224.9 246.5,224.8 247.1,224.7 247.7,224.6 248.3,224.6 248.9,224.5 249.6,224.4 250.2,224.3 250.8,224.2 251.4,224.1 252.0,224.0 252.6,223.9 253.2,223.7 253.8,223.6 254.4,223.4 255.0,223.2 255.6,223.0 256.2,222.8 256.8,222.5 257.4,222.2 258.0,221.8 258.6,221.4 259.2,220.9 259.8,220.3 260.4,219.7 261.0,218.9 261.6,218.1 262.2,217.1 262.8,216.0 263.4,214.8 264.0,213.5 264.6,212.1 265.2,210.7 265.8,209.2 266.4,207.6 267.0,206.1 267.6,204.5 268.2,203.1 268.8,201.7 269.4,200.5 270.0,199.5 270.6,198.6 271.2,198.0 271.8,197.6 272.4,197.5 273.0,197.6 273.6,198.0 274.2,198.5 274.8,199.3 275.4,200.2 276.0,201.2 276.6,202.3 277.2,203.5 277.8,204.7 278.4,205.9 279.0,207.1 279.6,208.2 280.2,209.3 280.9,210.2 281.5,211.1 282.1,211.8 282.7,212.5 283.3,213.0 283.9,213.5 284.5,213.9 285.1,214.2 285.7,214.5 286.3,214.7 286.9,214.8 287.5,215.0 288.1,215.1 288.7,215.2 289.3,215.2 289.9,215.3 290.5,215.4 291.1,215.4 291.7,215.5 292.3,215.6 292.9,215.7 293.5,215.8 294.1,215.9 294.7,216.1 295.3,216.2 295.9,216.4 296.5,216.6 297.1,216.7 297.7,216.9 298.3,217.1 298.9,217.3 299.5,217.6 300.1,217.8 300.7,218.0 301.3,218.2 301.9,218.5 302.5,218.7 303.1,219.0 303.7,219.2 304.3,219.5 304.9,219.7 305.5,220.0 306.1,220.2 306.7,220.4 307.3,220.7 307.9,220.9 308.5,221.2 309.1,221.4 309.7,221.6 310.3,221.8 310.9,222.0 311.6,222.3 312.2,222.5 312.8,222.7 313.4,222.8 314.0,223.0 314.6,223.2 315.2,223.4 315.8,223.5 316.4,223.7 317.0,223.8 317.6,224.0 318.2,224.1 318.8,224.2 319.4,224.4 320.0,224.5 320.6,224.6 321.2,224.7 321.8,224.8 322.4,224.9 323.0,225.0 323.6,225.0 324.2,225.1 324.8,225.2 325.4,225.2 326.0,225.3 326.6,225.3 327.2,225.4 327.8,225.4 328.4,225.5 329.0,225.5 329.6,225.6 330.2,225.6 330.8,225.6 331.4,225.7 332.0,225.7 332.6,225.7 333.2,225.7 333.8,225.7 334.4,225.8 335.0,225.8 335.6,225.8 336.2,225.8 336.8,225.8 337.4,225.8 338.0,225.8 338.6,225.8 339.2,225.8 339.8,225.9 340.4,225.9 341.0,225.9 341.6,225.9 342.3,225.9 342.9,225.9 343.5,225.9 344.1,225.9 344.7,225.9 345.3,225.9 345.9,225.9 346.5,225.9 347.1,225.9 347.7,225.9 348.3,225.9 348.9,225.9 349.5,225.9 350.1,225.9 350.7,225.9 351.3,225.9 351.9,225.9 352.5,225.9 353.1,225.9 353.7,225.9 354.3,225.9 354.9,225.9 355.5,225.9 356.1,225.9 356.7,225.9 357.3,225.9" fill="none" stroke="#3a3aee" stroke-width="1.3" stroke-linejoin="round" />
<line x1="203.2" y1="228.3" x2="357.3" y2="228.3" stroke="#8a8a8a" stroke-width="1.2"/>
<polyline points="203.2,259.0 203.8,259.0 204.4,259.0 205.0,259.0 205.6,259.0 206.2,259.0 206.8,259.0 207.4,259.0 208.0,259.0 208.6,259.0 209.2,259.0 209.8,259.0 210.4,259.0 211.0,259.0 211.6,259.0 212.2,259.0 212.8,259.0 213.4,259.0 214.0,259.0 214.6,259.0 215.2,259.0 215.8,259.0 216.4,259.0 217.0,259.0 217.6,259.0 218.2,259.0 218.9,259.0 219.5,259.0 220.1,259.0 220.7,259.0 221.3,259.0 221.9,259.0 222.5,259.0 223.1,259.0 223.7,259.0 224.3,259.0 224.9,259.0 225.5,259.0 226.1,259.0 226.7,259.0 227.3,259.0 227.9,259.0 228.5,259.0 229.1,259.0 229.7,259.0 230.3,259.0 230.9,259.0 231.5,259.0 232.1,259.0 232.7,259.0 233.3,259.0 233.9,259.0 234.5,259.0 235.1,259.0 235.7,259.0 236.3,259.0 236.9,259.0 237.5,259.0 238.1,259.0 238.7,259.0 239.3,259.0 239.9,258.9 240.5,258.9 241.1,258.9 241.7,258.9 242.3,258.8 242.9,258.8 243.5,258.7 244.1,258.6 244.7,258.5 245.3,258.4 245.9,258.3 246.5,258.1 247.1,257.9 247.7,257.6 248.3,257.3 248.9,256.9 249.6,256.5 250.2,256.1 250.8,255.6 251.4,255.0 252.0,254.3 252.6,253.6 253.2,252.8 253.8,252.0 254.4,251.1 255.0,250.2 255.6,249.2 256.2,248.2 256.8,247.2 257.4,246.2 258.0,245.2 258.6,244.3 259.2,243.4 259.8,242.6 260.4,241.8 261.0,241.2 261.6,240.7 262.2,240.3 262.8,240.1 263.4,240.0 264.0,240.0 264.6,240.2 265.2,240.6 265.8,241.0 266.4,241.6 267.0,242.3 267.6,243.1 268.2,244.0 268.8,244.9 269.4,245.8 270.0,246.8 270.6,247.8 271.2,248.8 271.8,249.8 272.4,250.8 273.0,251.7 273.6,252.5 274.2,253.3 274.8,254.1 275.4,254.7 276.0,255.4 276.6,255.9 277.2,256.4 277.8,256.8 278.4,257.2 279.0,257.5 279.6,257.8 280.2,258.0 280.9,258.2 281.5,258.4 282.1,258.5 282.7,258.6 283.3,258.7 283.9,258.8 284.5,258.8 285.1,258.9 285.7,258.9 286.3,258.9 286.9,258.9 287.5,259.0 288.1,259.0 288.7,259.0 289.3,259.0 289.9,259.0 290.5,259.0 291.1,259.0 291.7,259.0 292.3,259.0 292.9,259.0 293.5,259.0 294.1,259.0 294.7,259.0 295.3,259.0 295.9,259.0 296.5,259.0 297.1,259.0 297.7,259.0 298.3,259.0 298.9,259.0 299.5,259.0 300.1,259.0 300.7,259.0 301.3,259.0 301.9,259.0 302.5,259.0 303.1,259.0 303.7,259.0 304.3,259.0 304.9,259.0 305.5,259.0 306.1,259.0 306.7,259.0 307.3,259.0 307.9,259.0 308.5,259.0 309.1,259.0 309.7,259.0 310.3,259.0 310.9,259.0 311.6,259.0 312.2,259.0 312.8,259.0 313.4,259.0 314.0,259.0 314.6,259.0 315.2,259.0 315.8,259.0 316.4,259.0 317.0,259.0 317.6,259.0 318.2,259.0 318.8,259.0 319.4,259.0 320.0,259.0 320.6,259.0 321.2,259.0 321.8,259.0 322.4,259.0 323.0,259.0 323.6,259.0 324.2,259.0 324.8,259.0 325.4,259.0 326.0,259.0 326.6,259.0 327.2,259.0 327.8,259.0 328.4,259.0 329.0,259.0 329.6,259.0 330.2,259.0 330.8,259.0 331.4,259.0 332.0,259.0 332.6,259.0 333.2,259.0 333.8,259.0 334.4,259.0 335.0,259.0 335.6,259.0 336.2,259.0 336.8,259.0 337.4,259.0 338.0,259.0 338.6,259.0 339.2,259.0 339.8,259.0 340.4,259.0 341.0,259.0 341.6,259.0 342.3,259.0 342.9,259.0 343.5,259.0 344.1,259.0 344.7,259.0 345.3,259.0 345.9,259.0 346.5,259.0 347.1,259.0 347.7,259.0 348.3,259.0 348.9,259.0 349.5,259.0 350.1,259.0 350.7,259.0 351.3,259.0 351.9,259.0 352.5,259.0 353.1,259.0 353.7,259.0 354.3,259.0 354.9,259.0 355.5,259.0 356.1,259.0 356.7,259.0 357.3,259.0" fill="none" stroke="#333333" stroke-width="1.2" stroke-linejoin="round" />
<polyline points="203.2,259.0 203.8,259.0 204.4,259.0 205.0,259.0 205.6,259.0 206.2,259.0 206.8,259.0 207.4,259.0 208.0,259.0 208.6,259.0 209.2,259.0 209.8,259.0 210.4,259.0 211.0,259.0 211.6,259.0 212.2,259.0 212.8,259.0 213.4,259.0 214.0,259.0 214.6,259.0 215.2,259.0 215.8,259.0 216.4,259.0 217.0,259.0 217.6,259.0 218.2,259.0 218.9,259.0 219.5,259.0 220.1,259.0 220.7,259.0 221.3,258.9 221.9,258.9 222.5,258.9 223.1,258.9 223.7,258.9 224.3,258.9 224.9,258.9 225.5,258.9 226.1,258.9 226.7,258.9 227.3,258.9 227.9,258.8 228.5,258.8 229.1,258.8 229.7,258.8 230.3,258.8 230.9,258.7 231.5,258.7 232.1,258.7 232.7,258.7 233.3,258.6 233.9,258.6 234.5,258.6 235.1,258.5 235.7,258.5 236.3,258.4 236.9,258.4 237.5,258.4 238.1,258.3 238.7,258.2 239.3,258.2 239.9,258.1 240.5,258.0 241.1,258.0 241.7,257.9 242.3,257.8 242.9,257.7 243.5,257.6 244.1,257.5 244.7,257.4 245.3,257.3 245.9,257.2 246.5,257.1 247.1,256.9 247.7,256.8 248.3,256.7 248.9,256.5 249.6,256.4 250.2,256.2 250.8,256.0 251.4,255.8 252.0,255.6 252.6,255.5 253.2,255.2 253.8,255.0 254.4,254.8 255.0,254.6 255.6,254.4 256.2,254.1 256.8,253.9 257.4,253.6 258.0,253.3 258.6,253.1 259.2,252.8 259.8,252.5 260.4,252.2 261.0,251.9 261.6,251.6 262.2,251.3 262.8,251.0 263.4,250.7 264.0,250.3 264.6,250.0 265.2,249.7 265.8,249.3 266.4,249.0 267.0,248.6 267.6,248.3 268.2,247.9 268.8,247.6 269.4,247.3 270.0,246.9 270.6,246.6 271.2,246.2 271.8,245.9 272.4,245.6 273.0,245.2 273.6,244.9 274.2,244.6 274.8,244.3 275.4,244.0 276.0,243.7 276.6,243.4 277.2,243.1 277.8,242.8 278.4,242.6 279.0,242.4 279.6,242.1 280.2,241.9 280.9,241.7 281.5,241.5 282.1,241.3 282.7,241.2 283.3,241.0 283.9,240.9 284.5,240.8 285.1,240.7 285.7,240.6 286.3,240.6 286.9,240.5 287.5,240.5 288.1,240.5 288.7,240.5 289.3,240.5 289.9,240.6 290.5,240.6 291.1,240.7 291.7,240.8 292.3,240.9 292.9,241.1 293.5,241.2 294.1,241.4 294.7,241.6 295.3,241.8 295.9,242.0 296.5,242.2 297.1,242.4 297.7,242.7 298.3,242.9 298.9,243.2 299.5,243.5 300.1,243.7 300.7,244.0 301.3,244.3 301.9,244.7 302.5,245.0 303.1,245.3 303.7,245.6 304.3,246.0 304.9,246.3 305.5,246.7 306.1,247.0 306.7,247.3 307.3,247.7 307.9,248.0 308.5,248.4 309.1,248.7 309.7,249.1 310.3,249.4 310.9,249.7 311.6,250.1 312.2,250.4 312.8,250.7 313.4,251.1 314.0,251.4 314.6,251.7 315.2,252.0 315.8,252.3 316.4,252.6 317.0,252.9 317.6,253.1 318.2,253.4 318.8,253.7 319.4,253.9 320.0,254.2 320.6,254.4 321.2,254.7 321.8,254.9 322.4,255.1 323.0,255.3 323.6,255.5 324.2,255.7 324.8,255.9 325.4,256.1 326.0,256.2 326.6,256.4 327.2,256.5 327.8,256.7 328.4,256.8 329.0,257.0 329.6,257.1 330.2,257.2 330.8,257.3 331.4,257.4 332.0,257.6 332.6,257.7 333.2,257.7 333.8,257.8 334.4,257.9 335.0,258.0 335.6,258.1 336.2,258.1 336.8,258.2 337.4,258.3 338.0,258.3 338.6,258.4 339.2,258.4 339.8,258.5 340.4,258.5 341.0,258.5 341.6,258.6 342.3,258.6 342.9,258.6 343.5,258.7 344.1,258.7 344.7,258.7 345.3,258.8 345.9,258.8 346.5,258.8 347.1,258.8 347.7,258.8 348.3,258.8 348.9,258.9 349.5,258.9 350.1,258.9 350.7,258.9 351.3,258.9 351.9,258.9 352.5,258.9 353.1,258.9 353.7,258.9 354.3,258.9 354.9,258.9 355.5,259.0 356.1,259.0 356.7,259.0 357.3,259.0" fill="none" stroke="#f03030" stroke-width="1.2" stroke-linejoin="round" />
<polyline points="203.2,259.0 203.8,259.0 204.4,259.0 205.0,259.0 205.6,259.0 206.2,259.0 206.8,259.0 207.4,259.0 208.0,259.0 208.6,259.0 209.2,259.0 209.8,259.0 210.4,259.0 211.0,259.0 211.6,259.0 212.2,259.0 212.8,259.0 213.4,259.0 214.0,259.0 214.6,259.0 215.2,259.0 215.8,259.0 216.4,259.0 217.0,259.0 217.6,259.0 218.2,259.0 218.9,259.0 219.5,259.0 220.1,259.0 220.7,259.0 221.3,258.9 221.9,258.9 222.5,258.9 223.1,258.9 223.7,258.9 224.3,258.9 224.9,258.9 225.5,258.9 226.1,258.9 226.7,258.9 227.3,258.9 227.9,258.8 228.5,258.8 229.1,258.8 229.7,258.8 230.3,258.8 230.9,258.7 231.5,258.7 232.1,258.7 232.7,258.7 233.3,258.6 233.9,258.6 234.5,258.6 235.1,258.5 235.7,258.5 236.3,258.4 236.9,258.4 237.5,258.3 238.1,258.3 238.7,258.2 239.3,258.1 239.9,258.1 240.5,258.0 241.1,257.9 241.7,257.8 242.3,257.6 242.9,257.5 243.5,257.3 244.1,257.2 244.7,257.0 245.3,256.7 245.9,256.4 246.5,256.1 247.1,255.8 247.7,255.4 248.3,255.0 248.9,254.5 249.6,253.9 250.2,253.3 250.8,252.6 251.4,251.8 252.0,251.0 252.6,250.0 253.2,249.1 253.8,248.0 254.4,246.9 255.0,245.7 255.6,244.5 256.2,243.3 256.8,242.1 257.4,240.8 258.0,239.6 258.6,238.3 259.2,237.2 259.8,236.1 260.4,235.1 261.0,234.1 261.6,233.3 262.2,232.6 262.8,232.1 263.4,231.7 264.0,231.4 264.6,231.2 265.2,231.2 265.8,231.4 266.4,231.6 267.0,231.9 267.6,232.4 268.2,232.9 268.8,233.5 269.4,234.1 270.0,234.7 270.6,235.4 271.2,236.1 271.8,236.7 272.4,237.3 273.0,237.9 273.6,238.4 274.2,238.9 274.8,239.3 275.4,239.7 276.0,240.0 276.6,240.3 277.2,240.5 277.8,240.7 278.4,240.8 279.0,240.8 279.6,240.9 280.2,240.9 280.9,240.9 281.5,240.9 282.1,240.8 282.7,240.8 283.3,240.7 283.9,240.7 284.5,240.6 285.1,240.6 285.7,240.5 286.3,240.5 286.9,240.5 287.5,240.5 288.1,240.5 288.7,240.5 289.3,240.5 289.9,240.6 290.5,240.6 291.1,240.7 291.7,240.8 292.3,240.9 292.9,241.1 293.5,241.2 294.1,241.4 294.7,241.6 295.3,241.8 295.9,242.0 296.5,242.2 297.1,242.4 297.7,242.7 298.3,242.9 298.9,243.2 299.5,243.5 300.1,243.7 300.7,244.0 301.3,244.3 301.9,244.7 302.5,245.0 303.1,245.3 303.7,245.6 304.3,246.0 304.9,246.3 305.5,246.7 306.1,247.0 306.7,247.3 307.3,247.7 307.9,248.0 308.5,248.4 309.1,248.7 309.7,249.1 310.3,249.4 310.9,249.7 311.6,250.1 312.2,250.4 312.8,250.7 313.4,251.1 314.0,251.4 314.6,251.7 315.2,252.0 315.8,252.3 316.4,252.6 317.0,252.9 317.6,253.1 318.2,253.4 318.8,253.7 319.4,253.9 320.0,254.2 320.6,254.4 321.2,254.7 321.8,254.9 322.4,255.1 323.0,255.3 323.6,255.5 324.2,255.7 324.8,255.9 325.4,256.1 326.0,256.2 326.6,256.4 327.2,256.5 327.8,256.7 328.4,256.8 329.0,257.0 329.6,257.1 330.2,257.2 330.8,257.3 331.4,257.4 332.0,257.6 332.6,257.7 333.2,257.7 333.8,257.8 334.4,257.9 335.0,258.0 335.6,258.1 336.2,258.1 336.8,258.2 337.4,258.3 338.0,258.3 338.6,258.4 339.2,258.4 339.8,258.5 340.4,258.5 341.0,258.5 341.6,258.6 342.3,258.6 342.9,258.6 343.5,258.7 344.1,258.7 344.7,258.7 345.3,258.8 345.9,258.8 346.5,258.8 347.1,258.8 347.7,258.8 348.3,258.8 348.9,258.9 349.5,258.9 350.1,258.9 350.7,258.9 351.3,258.9 351.9,258.9 352.5,258.9 353.1,258.9 353.7,258.9 354.3,258.9 354.9,258.9 355.5,259.0 356.1,259.0 356.7,259.0 357.3,259.0" fill="none" stroke="#3a3aee" stroke-width="1.3" stroke-linejoin="round" />
<line x1="203.2" y1="260.3" x2="357.3" y2="260.3" stroke="#8a8a8a" stroke-width="1.2"/>
<polyline points="203.2,290.5 203.8,290.5 204.4,290.5 205.0,290.5 205.6,290.5 206.2,290.5 206.8,290.5 207.4,290.5 208.0,290.5 208.6,290.5 209.2,290.5 209.8,290.5 210.4,290.5 211.0,290.5 211.6,290.5 212.2,290.5 212.8,290.5 213.4,290.5 214.0,290.5 214.6,290.5 215.2,290.5 215.8,290.5 216.4,290.5 217.0,290.5 217.6,290.5 218.2,290.5 218.9,290.5 219.5,290.5 220.1,290.5 220.7,290.5 221.3,290.5 221.9,290.5 222.5,290.5 223.1,290.5 223.7,290.5 224.3,290.5 224.9,290.5 225.5,290.5 226.1,290.5 226.7,290.5 227.3,290.5 227.9,290.5 228.5,290.5 229.1,290.5 229.7,290.5 230.3,290.5 230.9,290.5 231.5,290.5 232.1,290.5 232.7,290.5 233.3,290.5 233.9,290.5 234.5,290.5 235.1,290.5 235.7,290.5 236.3,290.5 236.9,290.5 237.5,290.5 238.1,290.5 238.7,290.5 239.3,290.5 239.9,290.5 240.5,290.5 241.1,290.5 241.7,290.5 242.3,290.5 242.9,290.5 243.5,290.5 244.1,290.5 244.7,290.5 245.3,290.5 245.9,290.5 246.5,290.5 247.1,290.5 247.7,290.5 248.3,290.5 248.9,290.5 249.6,290.5 250.2,290.5 250.8,290.5 251.4,290.5 252.0,290.5 252.6,290.4 253.2,290.4 253.8,290.4 254.4,290.3 255.0,290.3 255.6,290.2 256.2,290.1 256.8,290.0 257.4,289.8 258.0,289.6 258.6,289.3 259.2,289.0 259.8,288.6 260.4,288.2 261.0,287.6 261.6,287.0 262.2,286.3 262.8,285.4 263.4,284.5 264.0,283.5 264.6,282.4 265.2,281.2 265.8,280.0 266.4,278.7 267.0,277.4 267.6,276.1 268.2,274.9 268.8,273.8 269.4,272.7 270.0,271.8 270.6,271.1 271.2,270.5 271.8,270.1 272.4,270.0 273.0,270.1 273.6,270.4 274.2,270.9 274.8,271.6 275.4,272.5 276.0,273.5 276.6,274.6 277.2,275.8 277.8,277.1 278.4,278.4 279.0,279.7 279.6,280.9 280.2,282.1 280.9,283.2 281.5,284.3 282.1,285.2 282.7,286.1 283.3,286.8 283.9,287.5 284.5,288.1 285.1,288.5 285.7,288.9 286.3,289.3 286.9,289.5 287.5,289.8 288.1,289.9 288.7,290.1 289.3,290.2 289.9,290.3 290.5,290.3 291.1,290.4 291.7,290.4 292.3,290.4 292.9,290.5 293.5,290.5 294.1,290.5 294.7,290.5 295.3,290.5 295.9,290.5 296.5,290.5 297.1,290.5 297.7,290.5 298.3,290.5 298.9,290.5 299.5,290.5 300.1,290.5 300.7,290.5 301.3,290.5 301.9,290.5 302.5,290.5 303.1,290.5 303.7,290.5 304.3,290.5 304.9,290.5 305.5,290.5 306.1,290.5 306.7,290.5 307.3,290.5 307.9,290.5 308.5,290.5 309.1,290.5 309.7,290.5 310.3,290.5 310.9,290.5 311.6,290.5 312.2,290.5 312.8,290.5 313.4,290.5 314.0,290.5 314.6,290.5 315.2,290.5 315.8,290.5 316.4,290.5 317.0,290.5 317.6,290.5 318.2,290.5 318.8,290.5 319.4,290.5 320.0,290.5 320.6,290.5 321.2,290.5 321.8,290.5 322.4,290.5 323.0,290.5 323.6,290.5 324.2,290.5 324.8,290.5 325.4,290.5 326.0,290.5 326.6,290.5 327.2,290.5 327.8,290.5 328.4,290.5 329.0,290.5 329.6,290.5 330.2,290.5 330.8,290.5 331.4,290.5 332.0,290.5 332.6,290.5 333.2,290.5 333.8,290.5 334.4,290.5 335.0,290.5 335.6,290.5 336.2,290.5 336.8,290.5 337.4,290.5 338.0,290.5 338.6,290.5 339.2,290.5 339.8,290.5 340.4,290.5 341.0,290.5 341.6,290.5 342.3,290.5 342.9,290.5 343.5,290.5 344.1,290.5 344.7,290.5 345.3,290.5 345.9,290.5 346.5,290.5 347.1,290.5 347.7,290.5 348.3,290.5 348.9,290.5 349.5,290.5 350.1,290.5 350.7,290.5 351.3,290.5 351.9,290.5 352.5,290.5 353.1,290.5 353.7,290.5 354.3,290.5 354.9,290.5 355.5,290.5 356.1,290.5 356.7,290.5 357.3,290.5" fill="none" stroke="#333333" stroke-width="1.2" stroke-linejoin="round" />
<polyline points="203.2,290.5 203.8,290.5 204.4,290.5 205.0,290.5 205.6,290.5 206.2,290.5 206.8,290.5 207.4,290.5 208.0,290.5 208.6,290.5 209.2,290.5 209.8,290.5 210.4,290.5 211.0,290.5 211.6,290.5 212.2,290.5 212.8,290.5 213.4,290.5 214.0,290.5 214.6,290.5 215.2,290.5 215.8,290.5 216.4,290.5 217.0,290.5 217.6,290.5 218.2,290.5 218.9,290.5 219.5,290.5 220.1,290.5 220.7,290.5 221.3,290.5 221.9,290.5 222.5,290.5 223.1,290.4 223.7,290.4 224.3,290.4 224.9,290.4 225.5,290.4 226.1,290.4 226.7,290.4 227.3,290.4 227.9,290.4 228.5,290.4 229.1,290.4 229.7,290.4 230.3,290.3 230.9,290.3 231.5,290.3 232.1,290.3 232.7,290.3 233.3,290.3 233.9,290.3 234.5,290.2 235.1,290.2 235.7,290.2 236.3,290.2 236.9,290.1 237.5,290.1 238.1,290.1 238.7,290.1 239.3,290.0 239.9,290.0 240.5,290.0 241.1,289.9 241.7,289.9 242.3,289.8 242.9,289.8 243.5,289.7 244.1,289.7 244.7,289.6 245.3,289.6 245.9,289.5 246.5,289.5 247.1,289.4 247.7,289.3 248.3,289.3 248.9,289.2 249.6,289.1 250.2,289.0 250.8,288.9 251.4,288.9 252.0,288.8 252.6,288.7 253.2,288.6 253.8,288.5 254.4,288.4 255.0,288.3 255.6,288.2 256.2,288.0 256.8,287.9 257.4,287.8 258.0,287.7 258.6,287.6 259.2,287.4 259.8,287.3 260.4,287.2 261.0,287.0 261.6,286.9 262.2,286.8 262.8,286.6 263.4,286.5 264.0,286.3 264.6,286.2 265.2,286.0 265.8,285.9 266.4,285.7 267.0,285.6 267.6,285.4 268.2,285.3 268.8,285.1 269.4,285.0 270.0,284.8 270.6,284.7 271.2,284.5 271.8,284.4 272.4,284.2 273.0,284.1 273.6,284.0 274.2,283.8 274.8,283.7 275.4,283.6 276.0,283.4 276.6,283.3 277.2,283.2 277.8,283.1 278.4,283.0 279.0,282.9 279.6,282.8 280.2,282.7 280.9,282.6 281.5,282.5 282.1,282.4 282.7,282.3 283.3,282.3 283.9,282.2 284.5,282.2 285.1,282.1 285.7,282.1 286.3,282.1 286.9,282.0 287.5,282.0 288.1,282.0 288.7,282.0 289.3,282.0 289.9,282.0 290.5,282.0 291.1,282.1 291.7,282.1 292.3,282.1 292.9,282.2 293.5,282.2 294.1,282.3 294.7,282.4 295.3,282.5 295.9,282.5 296.5,282.6 297.1,282.7 297.7,282.8 298.3,282.9 298.9,283.0 299.5,283.1 300.1,283.3 300.7,283.4 301.3,283.5 301.9,283.6 302.5,283.8 303.1,283.9 303.7,284.0 304.3,284.2 304.9,284.3 305.5,284.5 306.1,284.6 306.7,284.8 307.3,284.9 307.9,285.1 308.5,285.2 309.1,285.4 309.7,285.5 310.3,285.7 310.9,285.8 311.6,286.0 312.2,286.1 312.8,286.3 313.4,286.4 314.0,286.6 314.6,286.7 315.2,286.9 315.8,287.0 316.4,287.1 317.0,287.3 317.6,287.4 318.2,287.5 318.8,287.6 319.4,287.8 320.0,287.9 320.6,288.0 321.2,288.1 321.8,288.2 322.4,288.3 323.0,288.4 323.6,288.5 324.2,288.6 324.8,288.7 325.4,288.8 326.0,288.9 326.6,289.0 327.2,289.1 327.8,289.1 328.4,289.2 329.0,289.3 329.6,289.4 330.2,289.4 330.8,289.5 331.4,289.5 332.0,289.6 332.6,289.7 333.2,289.7 333.8,289.8 334.4,289.8 335.0,289.9 335.6,289.9 336.2,289.9 336.8,290.0 337.4,290.0 338.0,290.0 338.6,290.1 339.2,290.1 339.8,290.1 340.4,290.2 341.0,290.2 341.6,290.2 342.3,290.2 342.9,290.2 343.5,290.3 344.1,290.3 344.7,290.3 345.3,290.3 345.9,290.3 346.5,290.3 347.1,290.4 347.7,290.4 348.3,290.4 348.9,290.4 349.5,290.4 350.1,290.4 350.7,290.4 351.3,290.4 351.9,290.4 352.5,290.4 353.1,290.4 353.7,290.4 354.3,290.5 354.9,290.5 355.5,290.5 356.1,290.5 356.7,290.5 357.3,290.5" fill="none" stroke="#f03030" stroke-width="1.2" stroke-linejoin="round" />
<polyline points="203.2,290.5 203.8,290.5 204.4,290.5 205.0,290.5 205.6,290.5 206.2,290.5 206.8,290.5 207.4,290.5 208.0,290.5 208.6,290.5 209.2,290.5 209.8,290.5 210.4,290.5 211.0,290.5 211.6,290.5 212.2,290.5 212.8,290.5 213.4,290.5 214.0,290.5 214.6,290.5 215.2,290.5 215.8,290.5 216.4,290.5 217.0,290.5 217.6,290.5 218.2,290.5 218.9,290.5 219.5,290.5 220.1,290.5 220.7,290.5 221.3,290.5 221.9,290.5 222.5,290.5 223.1,290.4 223.7,290.4 224.3,290.4 224.9,290.4 225.5,290.4 226.1,290.4 226.7,290.4 227.3,290.4 227.9,290.4 228.5,290.4 229.1,290.4 229.7,290.4 230.3,290.3 230.9,290.3 231.5,290.3 232.1,290.3 232.7,290.3 233.3,290.3 233.9,290.3 234.5,290.2 235.1,290.2 235.7,290.2 236.3,290.2 236.9,290.1 237.5,290.1 238.1,290.1 238.7,290.1 239.3,290.0 239.9,290.0 240.5,290.0 241.1,289.9 241.7,289.9 242.3,289.8 242.9,289.8 243.5,289.7 244.1,289.7 244.7,289.6 245.3,289.6 245.9,289.5 246.5,289.5 247.1,289.4 247.7,289.3 248.3,289.2 248.9,289.2 249.6,289.1 250.2,289.0 250.8,288.9 251.4,288.8 252.0,288.7 252.6,288.6 253.2,288.5 253.8,288.4 254.4,288.2 255.0,288.1 255.6,287.9 256.2,287.7 256.8,287.4 257.4,287.1 258.0,286.8 258.6,286.4 259.2,286.0 259.8,285.5 260.4,284.9 261.0,284.2 261.6,283.4 262.2,282.5 262.8,281.6 263.4,280.5 264.0,279.3 264.6,278.1 265.2,276.8 265.8,275.4 266.4,273.9 267.0,272.5 267.6,271.1 268.2,269.7 268.8,268.4 269.4,267.2 270.0,266.1 270.6,265.2 271.2,264.5 271.8,264.0 272.4,263.8 273.0,263.7 273.6,263.9 274.2,264.2 274.8,264.8 275.4,265.5 276.0,266.4 276.6,267.4 277.2,268.5 277.8,269.7 278.4,270.8 279.0,272.0 279.6,273.2 280.2,274.3 280.9,275.3 281.5,276.3 282.1,277.1 282.7,277.9 283.3,278.6 283.9,279.2 284.5,279.7 285.1,280.2 285.7,280.5 286.3,280.8 286.9,281.1 287.5,281.3 288.1,281.4 288.7,281.6 289.3,281.7 289.9,281.8 290.5,281.9 291.1,281.9 291.7,282.0 292.3,282.1 292.9,282.2 293.5,282.2 294.1,282.3 294.7,282.4 295.3,282.4 295.9,282.5 296.5,282.6 297.1,282.7 297.7,282.8 298.3,282.9 298.9,283.0 299.5,283.1 300.1,283.3 300.7,283.4 301.3,283.5 301.9,283.6 302.5,283.8 303.1,283.9 303.7,284.0 304.3,284.2 304.9,284.3 305.5,284.5 306.1,284.6 306.7,284.8 307.3,284.9 307.9,285.1 308.5,285.2 309.1,285.4 309.7,285.5 310.3,285.7 310.9,285.8 311.6,286.0 312.2,286.1 312.8,286.3 313.4,286.4 314.0,286.6 314.6,286.7 315.2,286.9 315.8,287.0 316.4,287.1 317.0,287.3 317.6,287.4 318.2,287.5 318.8,287.6 319.4,287.8 320.0,287.9 320.6,288.0 321.2,288.1 321.8,288.2 322.4,288.3 323.0,288.4 323.6,288.5 324.2,288.6 324.8,288.7 325.4,288.8 326.0,288.9 326.6,289.0 327.2,289.1 327.8,289.1 328.4,289.2 329.0,289.3 329.6,289.4 330.2,289.4 330.8,289.5 331.4,289.5 332.0,289.6 332.6,289.7 333.2,289.7 333.8,289.8 334.4,289.8 335.0,289.9 335.6,289.9 336.2,289.9 336.8,290.0 337.4,290.0 338.0,290.0 338.6,290.1 339.2,290.1 339.8,290.1 340.4,290.2 341.0,290.2 341.6,290.2 342.3,290.2 342.9,290.2 343.5,290.3 344.1,290.3 344.7,290.3 345.3,290.3 345.9,290.3 346.5,290.3 347.1,290.4 347.7,290.4 348.3,290.4 348.9,290.4 349.5,290.4 350.1,290.4 350.7,290.4 351.3,290.4 351.9,290.4 352.5,290.4 353.1,290.4 353.7,290.4 354.3,290.5 354.9,290.5 355.5,290.5 356.1,290.5 356.7,290.5 357.3,290.5" fill="none" stroke="#3a3aee" stroke-width="1.3" stroke-linejoin="round" />
<rect x="203.2" y="163.8" width="154.10000000000002" height="130.8" fill="none" stroke="#2a2a2a" stroke-width="1.3"/>
<line x1="217.00" y1="294.6" x2="217.00" y2="292.6" stroke="#3a3a3a" stroke-width="1"/>
<line x1="231.00" y1="294.6" x2="231.00" y2="292.6" stroke="#3a3a3a" stroke-width="1"/>
<line x1="245.00" y1="294.6" x2="245.00" y2="292.6" stroke="#3a3a3a" stroke-width="1"/>
<line x1="259.00" y1="294.6" x2="259.00" y2="292.6" stroke="#3a3a3a" stroke-width="1"/>
<line x1="273.00" y1="294.6" x2="273.00" y2="292.6" stroke="#3a3a3a" stroke-width="1"/>
<line x1="287.00" y1="294.6" x2="287.00" y2="292.6" stroke="#3a3a3a" stroke-width="1"/>
<line x1="301.00" y1="294.6" x2="301.00" y2="292.6" stroke="#3a3a3a" stroke-width="1"/>
<line x1="315.00" y1="294.6" x2="315.00" y2="292.6" stroke="#3a3a3a" stroke-width="1"/>
<line x1="329.00" y1="294.6" x2="329.00" y2="292.6" stroke="#3a3a3a" stroke-width="1"/>
<line x1="343.00" y1="294.6" x2="343.00" y2="292.6" stroke="#3a3a3a" stroke-width="1"/>
<line x1="357.00" y1="294.6" x2="357.00" y2="292.6" stroke="#3a3a3a" stroke-width="1"/>
<text x="217.0" y="303.2" font-size="8" text-anchor="middle" fill="#111" textLength="11.0" lengthAdjust="spacingAndGlyphs" style="stroke-width:0.15px">526</text>
<text x="245.0" y="303.2" font-size="8" text-anchor="middle" fill="#111" textLength="11.0" lengthAdjust="spacingAndGlyphs" style="stroke-width:0.15px">528</text>
<text x="273.0" y="303.2" font-size="8" text-anchor="middle" fill="#111" textLength="11.0" lengthAdjust="spacingAndGlyphs" style="stroke-width:0.15px">530</text>
<text x="301.0" y="303.2" font-size="8" text-anchor="middle" fill="#111" textLength="11.0" lengthAdjust="spacingAndGlyphs" style="stroke-width:0.15px">532</text>
<text x="329.0" y="303.2" font-size="8" text-anchor="middle" fill="#111" textLength="11.0" lengthAdjust="spacingAndGlyphs" style="stroke-width:0.15px">534</text>
<text x="357.0" y="303.2" font-size="8" text-anchor="middle" fill="#111" textLength="11.0" lengthAdjust="spacingAndGlyphs" style="stroke-width:0.15px">536</text>
<rect x="184" y="163.5" width="15.099999999999994" height="13.800000000000011" fill="#f50f0f"/>
<text x="192.15" y="174.4" font-size="12.6" text-anchor="middle" fill="#fff" textLength="7.2" lengthAdjust="spacingAndGlyphs" style="stroke:none">E</text>
<text x="0" y="0" font-size="12" text-anchor="middle" fill="#111" textLength="71" lengthAdjust="spacingAndGlyphs" transform="translate(191.60000000000002,227.5) rotate(-90)" dominant-baseline="central">Intensity (a.u.)</text>
<text x="229.2" y="318.09999999999997" font-size="13.2" text-anchor="start" fill="#111" textLength="112.8" lengthAdjust="spacingAndGlyphs" >Binding energy (eV)</text>
<text x="208.6" y="179.5" font-size="10.5" text-anchor="start" fill="#111" textLength="18.3" lengthAdjust="spacingAndGlyphs" >O 1s</text>
<text x="321.8" y="184.4" font-size="8" text-anchor="start" fill="#111" textLength="23.3" lengthAdjust="spacingAndGlyphs" >AT-120</text>
<text x="325.3" y="214.6" font-size="8" text-anchor="start" fill="#111" textLength="19.4" lengthAdjust="spacingAndGlyphs" >AT-80</text>
<text x="325.1" y="246.9" font-size="8" text-anchor="start" fill="#111" textLength="18.9" lengthAdjust="spacingAndGlyphs" >AT-60</text>
<text x="326.4" y="280.1" font-size="8" text-anchor="start" fill="#111" textLength="19.7" lengthAdjust="spacingAndGlyphs" >AT-40</text>
<line x1="385.3" y1="286.8" x2="542.5" y2="286.8" stroke="#555" stroke-width="1"/>
<polyline points="385.3,249.8 389.1,249.7 393.0,251.0 398.0,253.0 402.0,255.0 406.0,252.0 410.0,249.8 413.0,243.4 416.0,240.0 419.0,233.6 422.0,226.0 425.0,213.7 428.0,205.0 431.0,195.7 434.0,186.0 438.0,176.0 441.0,172.1 444.0,183.3 447.0,186.3 450.0,190.4 455.0,191.5 458.5,187.6 462.0,187.4 464.7,189.5 467.3,189.5 470.0,193.5 472.7,193.9 475.3,193.0 478.0,195.5 482.0,201.6 487.0,206.7 490.5,216.9 493.0,225.0 495.9,238.3 498.8,255.0 503.0,268.0 505.9,273.3 508.9,278.9 512.0,280.8 515.0,281.0 518.1,283.0 520.9,282.9 523.7,284.0 526.4,284.9 529.2,284.6 532.0,284.9 534.6,285.0 537.2,286.2 539.9,284.8 542.5,285.8" fill="none" stroke="#f01e1e" stroke-width="1.5" stroke-linejoin="round" />
<polyline points="385.3,236.5 389.1,240.7 393.0,241.8 396.0,242.7 399.0,243.9 402.0,247.2 404.7,244.3 407.3,243.7 410.0,243.2 413.3,237.0 416.7,226.8 420.0,220.6 422.7,212.1 425.3,203.5 428.0,194.0 431.0,186.5 433.9,180.2 436.9,173.0 442.0,180.0 444.7,181.2 447.3,184.2 450.0,189.0 453.3,188.4 456.7,191.1 460.0,191.0 463.3,192.7 466.7,194.2 470.0,197.0 472.7,199.0 475.3,200.1 478.0,202.0 483.0,212.0 486.0,217.7 489.0,225.0 492.5,239.7 496.0,252.0 499.0,261.2 502.0,267.6 505.0,277.0 510.0,282.0 512.7,283.1 515.3,283.9 518.0,284.8 521.0,285.7 524.0,285.7 527.0,285.3 530.0,285.9 533.1,286.7 536.2,285.3 539.4,285.8 542.5,286.0" fill="none" stroke="#f5a020" stroke-width="1.5" stroke-linejoin="round" />
<polyline points="385.3,229.9 389.1,233.6 393.0,235.2 396.0,236.7 399.0,241.0 402.0,244.0 404.7,240.5 407.3,241.5 410.0,239.2 414.5,225.0 418.2,218.0 420.6,201.6 424.3,193.4 428.0,183.0 430.9,177.9 433.8,172.1 436.9,178.8 440.0,182.3 443.3,185.1 446.7,190.3 450.0,193.0 453.3,194.1 456.7,194.7 460.0,195.0 462.6,196.5 465.2,199.7 467.9,201.8 470.5,201.6 473.6,203.0 476.6,204.7 480.7,212.8 483.8,219.6 486.8,225.0 490.4,236.7 494.0,252.0 497.0,261.2 500.0,269.3 503.0,277.0 508.0,281.5 510.7,283.4 513.3,284.1 516.0,284.6 519.0,284.5 522.0,285.0 525.0,285.8 528.0,285.8 530.9,285.0 533.8,285.8 536.7,285.4 539.6,285.3 542.5,286.0" fill="none" stroke="#22dd22" stroke-width="1.5" stroke-linejoin="round" />
<polyline points="385.3,185.4 389.1,191.1 393.0,200.6 397.0,212.8 400.0,221.0 403.0,229.5 406.0,228.0 409.4,227.0 414.0,215.0 416.8,208.9 419.6,200.6 424.6,186.4 428.0,180.0 431.4,175.2 434.6,178.7 437.9,185.4 440.9,188.9 444.0,194.5 447.0,202.6 452.0,198.6 454.7,198.1 457.3,200.2 460.0,198.6 465.0,206.7 470.0,203.6 472.5,209.8 477.6,212.8 481.7,218.9 484.0,226.0 487.9,238.8 491.7,255.2 494.7,262.0 497.6,269.3 500.6,276.1 505.2,280.7 508.0,282.6 510.7,283.7 513.5,284.4 516.6,285.5 519.7,285.0 522.8,285.8 525.6,285.7 528.4,285.7 531.2,286.7 534.1,286.9 536.9,285.6 539.7,285.7 542.5,286.3" fill="none" stroke="#2233ee" stroke-width="1.5" stroke-linejoin="round" />
<line x1="494" y1="261" x2="499.2" y2="286.8" stroke="#2233ee" stroke-width="1.1" stroke-dasharray="2,1.5"/>
<line x1="497" y1="264" x2="501.9" y2="286.8" stroke="#22dd22" stroke-width="1.1" stroke-dasharray="2,1.5"/>
<line x1="500" y1="267" x2="504.7" y2="286.8" stroke="#f5a020" stroke-width="1.1" stroke-dasharray="2,1.5"/>
<line x1="505" y1="269" x2="509.4" y2="286.8" stroke="#f01e1e" stroke-width="1.1" stroke-dasharray="2,1.5"/>
<rect x="423.6" y="227" width="57" height="46" fill="#fff" stroke="#777" stroke-width="0.8"/>
<line x1="423.6" y1="267.3" x2="480.6" y2="267.3" stroke="#333" stroke-width="1"/>
<polyline points="423.6,255.0 426.4,254.6 429.2,256.4 431.0,254.9 432.8,253.9 435.6,245.3 437.8,237.5 439.9,232.5 441.7,230.8 443.5,229.7 445.6,231.8 448.5,235.4 450.0,234.9 452.1,236.1 454.3,236.8 456.4,238.2 458.5,240.4 460.7,243.9 462.8,251.0 464.2,256.7 465.6,260.3" fill="none" stroke="#f04848" stroke-width="0.9" stroke-linejoin="round" />
<polyline points="465.6,260.3 467.8,264.5 470.6,266.0 474.9,266.7 480.6,266.9" fill="none" stroke="#3344ee" stroke-width="1.0" stroke-linejoin="round" />
<text x="442.8" y="254.6" font-size="7" text-anchor="start" fill="#111" textLength="16.3" lengthAdjust="spacingAndGlyphs" >AT-60</text>
<text x="0" y="0" font-size="3.6" text-anchor="middle" fill="#333" transform="translate(420.5,251) rotate(-90)">Intensity (a.u.)</text>
<text x="448.6" y="281" font-size="3.8" text-anchor="middle" fill="#333" textLength="43" lengthAdjust="spacingAndGlyphs" >Binding energy (eV)</text>
<text x="424.0" y="276.5" font-size="3.2" text-anchor="middle" fill="#333" >10</text>
<text x="435.2" y="276.5" font-size="3.2" text-anchor="middle" fill="#333" >8</text>
<text x="446.4" y="276.5" font-size="3.2" text-anchor="middle" fill="#333" >6</text>
<text x="457.6" y="276.5" font-size="3.2" text-anchor="middle" fill="#333" >4</text>
<text x="468.8" y="276.5" font-size="3.2" text-anchor="middle" fill="#333" >2</text>
<text x="480.0" y="276.5" font-size="3.2" text-anchor="middle" fill="#333" >0</text>
<rect x="385.3" y="164" width="157.2" height="131" fill="none" stroke="#2a2a2a" stroke-width="1.3"/>
<line x1="385.00" y1="295" x2="385.00" y2="292" stroke="#3a3a3a" stroke-width="1"/>
<line x1="416.44" y1="295" x2="416.44" y2="292" stroke="#3a3a3a" stroke-width="1"/>
<line x1="447.88" y1="295" x2="447.88" y2="292" stroke="#3a3a3a" stroke-width="1"/>
<line x1="479.32" y1="295" x2="479.32" y2="292" stroke="#3a3a3a" stroke-width="1"/>
<line x1="510.76" y1="295" x2="510.76" y2="292" stroke="#3a3a3a" stroke-width="1"/>
<line x1="542.20" y1="295" x2="542.20" y2="292" stroke="#3a3a3a" stroke-width="1"/>
<text x="385.0" y="304.6" font-size="7.5" text-anchor="middle" fill="#111" style="stroke-width:0.1px">10</text>
<text x="416.44" y="304.6" font-size="7.5" text-anchor="middle" fill="#111" style="stroke-width:0.1px">8</text>
<text x="447.88" y="304.6" font-size="7.5" text-anchor="middle" fill="#111" style="stroke-width:0.1px">6</text>
<text x="479.32" y="304.6" font-size="7.5" text-anchor="middle" fill="#111" style="stroke-width:0.1px">4</text>
<text x="510.76" y="304.6" font-size="7.5" text-anchor="middle" fill="#111" style="stroke-width:0.1px">2</text>
<text x="542.2" y="304.6" font-size="7.5" text-anchor="middle" fill="#111" style="stroke-width:0.1px">0</text>
<rect x="366.2" y="163.5" width="14.800000000000011" height="13.5" fill="#f50f0f"/>
<text x="374.2" y="174.1" font-size="12.6" text-anchor="middle" fill="#fff" textLength="6.8" lengthAdjust="spacingAndGlyphs" style="stroke:none">F</text>
<text x="0" y="0" font-size="12" text-anchor="middle" fill="#111" textLength="77" lengthAdjust="spacingAndGlyphs" transform="translate(370.8,230.5) rotate(-90)" dominant-baseline="central">Intensity (a.u.)</text>
<text x="409.5" y="318.4" font-size="13.2" text-anchor="start" fill="#111" textLength="111.3" lengthAdjust="spacingAndGlyphs" >Binding energy (eV)</text>
<line x1="493.3" y1="179.2" x2="509" y2="179.2" stroke="#f01e1e" stroke-width="1.6"/>
<text x="512.5" y="181.9" font-size="8" text-anchor="start" fill="#111" textLength="18.5" lengthAdjust="spacingAndGlyphs" >AT-60</text>
<line x1="493.3" y1="189.7" x2="509" y2="189.7" stroke="#f5a020" stroke-width="1.6"/>
<text x="512.5" y="192.4" font-size="8" text-anchor="start" fill="#111" textLength="18.5" lengthAdjust="spacingAndGlyphs" >AT-80</text>
<line x1="493.3" y1="200.2" x2="509" y2="200.2" stroke="#22dd22" stroke-width="1.6"/>
<text x="512.5" y="202.9" font-size="8" text-anchor="start" fill="#111" textLength="18.5" lengthAdjust="spacingAndGlyphs" >AT-40</text>
<line x1="493.3" y1="210.7" x2="509" y2="210.7" stroke="#2233ee" stroke-width="1.6"/>
<text x="512.5" y="213.4" font-size="8" text-anchor="start" fill="#111" textLength="24" lengthAdjust="spacingAndGlyphs" >AT-120</text>
</svg></body></html>
